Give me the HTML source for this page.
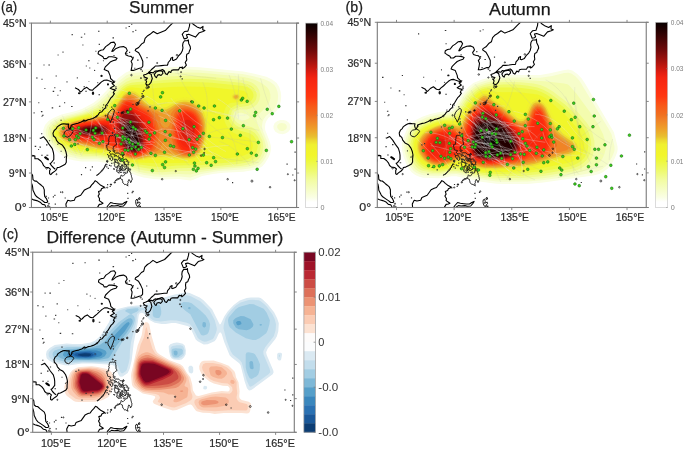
<!DOCTYPE html><html><head><meta charset="utf-8"><title>TC track density</title><style>html,body{margin:0;padding:0;background:#fff;width:685px;height:450px;overflow:hidden}svg{display:block}</style></head><body><svg width="685" height="450" viewBox="0 0 685 450" font-family="'Liberation Sans', Arial, sans-serif"><defs><linearGradient id="ga" x1="0" y1="1" x2="0" y2="0"><stop offset="0.0000" stop-color="#ffffff"/><stop offset="0.0300" stop-color="#ffffff"/><stop offset="0.0525" stop-color="#fafee6"/><stop offset="0.0950" stop-color="#f6fdc8"/><stop offset="0.1500" stop-color="#f2fca0"/><stop offset="0.2025" stop-color="#eefa6a"/><stop offset="0.2575" stop-color="#eef838"/><stop offset="0.2850" stop-color="#f2f62a"/><stop offset="0.3400" stop-color="#f0f030"/><stop offset="0.3650" stop-color="#ecd830"/><stop offset="0.3825" stop-color="#e8c030"/><stop offset="0.4250" stop-color="#eea02a"/><stop offset="0.4750" stop-color="#f08028"/><stop offset="0.5000" stop-color="#f07020"/><stop offset="0.5500" stop-color="#f85818"/><stop offset="0.6000" stop-color="#ff3810"/><stop offset="0.6500" stop-color="#fc2c10"/><stop offset="0.7000" stop-color="#f42410"/><stop offset="0.7250" stop-color="#e41e10"/><stop offset="0.7500" stop-color="#cc1a10"/><stop offset="0.7750" stop-color="#b4160e"/><stop offset="0.8000" stop-color="#9c120e"/><stop offset="0.8250" stop-color="#860e0c"/><stop offset="0.8500" stop-color="#700a0a"/><stop offset="0.8750" stop-color="#5e0808"/><stop offset="0.9000" stop-color="#4c0606"/><stop offset="0.9250" stop-color="#3a0404"/><stop offset="0.9500" stop-color="#280202"/><stop offset="0.9750" stop-color="#180000"/><stop offset="1.0000" stop-color="#080000"/></linearGradient><linearGradient id="gb" x1="0" y1="1" x2="0" y2="0"><stop offset="0.0000" stop-color="#ffffff"/><stop offset="0.0300" stop-color="#ffffff"/><stop offset="0.0525" stop-color="#fafee6"/><stop offset="0.0950" stop-color="#f6fdc8"/><stop offset="0.1500" stop-color="#f2fca0"/><stop offset="0.2025" stop-color="#eefa6a"/><stop offset="0.2575" stop-color="#eef838"/><stop offset="0.2850" stop-color="#f2f62a"/><stop offset="0.3400" stop-color="#f0f030"/><stop offset="0.3650" stop-color="#ecd830"/><stop offset="0.3825" stop-color="#e8c030"/><stop offset="0.4250" stop-color="#eea02a"/><stop offset="0.4750" stop-color="#f08028"/><stop offset="0.5000" stop-color="#f07020"/><stop offset="0.5500" stop-color="#f85818"/><stop offset="0.6000" stop-color="#ff3810"/><stop offset="0.6500" stop-color="#fc2c10"/><stop offset="0.7000" stop-color="#f42410"/><stop offset="0.7250" stop-color="#e41e10"/><stop offset="0.7500" stop-color="#cc1a10"/><stop offset="0.7750" stop-color="#b4160e"/><stop offset="0.8000" stop-color="#9c120e"/><stop offset="0.8250" stop-color="#860e0c"/><stop offset="0.8500" stop-color="#700a0a"/><stop offset="0.8750" stop-color="#5e0808"/><stop offset="0.9000" stop-color="#4c0606"/><stop offset="0.9250" stop-color="#3a0404"/><stop offset="0.9500" stop-color="#280202"/><stop offset="0.9750" stop-color="#180000"/><stop offset="1.0000" stop-color="#080000"/></linearGradient><clipPath id="clipa"><rect x="31.45" y="23.10" width="265.16" height="184.40"/></clipPath><filter id="blura" x="-5%" y="-5%" width="110%" height="110%"><feGaussianBlur stdDeviation="0.6"/></filter><clipPath id="clipb"><rect x="377.30" y="22.30" width="268.94" height="185.20"/></clipPath><filter id="blurb" x="-5%" y="-5%" width="110%" height="110%"><feGaussianBlur stdDeviation="0.6"/></filter><clipPath id="clipc"><rect x="32.70" y="252.20" width="261.59" height="180.10"/></clipPath><clipPath id="cla"><rect x="31.45" y="23.10" width="265.16" height="184.40"/></clipPath><clipPath id="clb"><rect x="377.30" y="22.30" width="268.94" height="185.20"/></clipPath><clipPath id="clc"><rect x="32.70" y="252.20" width="261.59" height="180.10"/></clipPath></defs><rect width="685" height="450" fill="#fff"/><g clip-path="url(#clipa)"><g filter="url(#blura)" fill-rule="evenodd">
<path fill="#fafee3" d="M174.4 67.1l14-0.4 11 0.5 44 4.3 15.1 3.2 7.9 2.1 6 3 4.3 3.3 2.5 4 1.5 5 0.5 4-0.4 5-0.9 4-1.9 4-2.5 3-7.2 6-1.9 2.8-1 2.5-0.4 3.7 0.2 3 4.7 12 0.9 4 0.1 4-0.9 4-1.8 4-3.1 5-2.7 3.1-4 2.5-6 1.6-9 1.4-20 1-10.3 1.4-11 2-8.7 3.6-3 0.7-12-1.3-17 0.3-8-0.5-10-1.5-6-1.6-16-6.4-9-4.5-5.5-1.8-9.5-1.7-16 0.2-7.9-1.3-5.1-1.3-6-3.3-11-8.4-3.3-3.2-2.9-4-1.8-5-0.2-5 1.8-5 3.5-4 4.9-3.2 8-3.3 14.4-3.5 6.1-2 11.3-6 3.9-3 5.2-5 16.1-17 7.1-5.4 3.9-1.7 4-0.8 41-3.1zM280.4 119.9l3 0 3 0.9 2.8 2.3 1.1 2 0.2 3-0.7 2-1.7 2-2.7 1.5-2.9 0.6-4.1-0.6-3-1.9-1.7-2.6-0.3-3 1.3-3 2.7-2.2 3-1z"/>
<path fill="#f6fdc9" d="M171.4 70l17-0.5 10.1 0.4 43.9 4.2 10 2 12 3.2 6 2.8 3.9 3 1.9 3 1.4 4 0.5 4-0.4 5-1.1 4-1.7 3-2.5 2.6-6.5 5.4-2.1 3-1.3 3-0.5 4 0.5 4 4.9 12 0.9 4 0.1 3-0.8 4-1.8 4-2.4 4-2.6 3-4.4 2.6-7 1.7-8 1.2-23 1.5-17 2.8-11 3.6-11-1-17 0.5-8-0.5-10-1.4-6-1.5-16-6.2-9.9-4.7-7.1-2.1-8-1.3-16 0-12-2.5-6-3.2-9-6.7-4.1-3.8-2.9-4-1.6-5 0-4 1.7-4 3.6-4 4.3-2.7 6.1-2.6 19.9-5.4 13-6.3 4-3 5.4-5 15.6-16.4 7-5.4 3-1.4 4-0.9 38-3zM281.4 122.9l3 0.6 1.1 0.6 1.3 2-0.1 2-0.5 1-2.8 1.8-2 0.2-2-0.6-2.1-2.4-0.1-2 0.4-1 1.8-1.6 2-0.6z"/>
<path fill="#f3fcae" d="M170.4 73l17-0.6 12 0.4 13 0.9 30 3.1 7 1.4 5.9 1.9 6.2 3 5.3 4 2.3 3 1.2 4 0.1 4-0.9 4-2.5 4-9 9-1.9 3 1.8 7 6.5 15 1.5 6-0.1 4-1.2 4-2.2 4.2-3 3.7-2 1.5-3 1.4-8 2-27 2.3-19 2.8-10 2.4-11-0.5-17 0.8-8-0.4-10-1.4-6-1.5-16-5.8-10-4.6-7-2.1-8-1.3-16-0.3-10.2-2.2-5.8-2.7-8-5.4-4.5-3.9-3.2-4-1.7-5 0.3-4 1.9-4 3-3 3.2-2.2 5-2.5 5-1.7 16-4 8.6-3.6 5.4-2.9 4.2-3.1 6.4-6 12.4-13.3 7.1-5.4 3.9-1.7 4-0.9 36-2.8zM238.1 113.1l-1.7 1.8 0 1.9 1 1.7 2 1.4 2 0.5 3-0.1 3.6-1.2 1.4-1 0.3-1-0.7-1-3.2-2-4.4-1.4-3.3 0.4z"/>
<path fill="#f1fb8d" d="M177.4 76.1l11-0.3 19 0.6 34 3.5 5 0.8 4 1.2 3 1.6 3 2.6 2.7 4 1.1 5-0.8 5-2 3.6-3 2.8-4 2-4 0.9-7 0.2-3 0.8-2.7 2.7-0.6 3 1.3 3.9 3 3 3 1.5 9 2 3 1.1 4 2.9 3 4.3 3.1 6.3 0.9 6-1.2 6-1.4 3-2.4 3.1-3 2.4-4 1.9-5 1.4-6 1-20 1.6-28 3.4-14 0.2-16 1.2-7-0.2-11-1.6-7-1.6-14-4.7-12-5.1-6.9-1.9-7.1-1.2-15-0.5-10-2.3-6-2.5-7-4.3-5.1-4.3-2.8-4-1.2-4 0.4-4 2.2-4 3.1-3 3.4-2.2 5-2.2 18-4.7 8.1-2.9 6.9-3.1 4.2-2.9 6.8-6.2 12-12.9 6-4.3 5-1.9 5-0.8 41-2.9z"/>
<path fill="#eefa67" d="M178.4 79.1l9-0.3 19 0.5 34 3.4 8 1.7 3 1.6 2 1.7 2.4 3.4 1 4-0.6 4-1.8 2.9-2.3 2.1-3.7 1.7-10 1.5-4 1.5-1.6 1.3-1.3 2-0.8 4 0.5 3 1 2 3.4 4 3.8 2.2 9 2.3 3 1.2 3.4 2.3 3.2 4 2.2 5 0.5 5-1.3 5.5-3 4.6-3 2.4-4 1.9-5 1.5-7 1.1-37 3.6-22 0.6-16 1.4-7-0.2-12-1.7-11-2.4-10-3.2-11-4.6-7-1.9-6.9-1.2-15.1-1-8-1.9-7-2.6-6-3.2-4.7-3.7-3.1-4-1.2-4 0.5-4 2.2-4 3.3-3 7-3.5 20.7-5.5 13.5-5 6.8-5.1 6-5.8 8-9.3 3-2.6 3-1.8 5-1.7 6-0.9 41-2.8z"/>
<path fill="#eef844" d="M177.4 82.1l11-0.3 23 0.9 31.6 3.4 4.4 1.2 3 1.9 2 2.4 1 2.7 0 2.8-1.6 3-2.4 2-2.2 1-10.8 2-4 1.8-2 1.9-1.4 2.3-1 5 0.5 3 1.1 3 2 3 2.8 2.8 5 2.5 10 2.8 3.1 1.9 2.9 3.3 2 4.7 0.3 4-1.3 4.7-2.2 3.3-2.8 2.2-4 1.9-6 1.6-8 1.3-31 2.8-26 0.7-14 1.3-7-0.2-23-3.1-10-2.9-9.9-4.2-6.1-1.8-8.7-1.6-14.3-1.4-8-1.8-7-2.4-6-2.9-4.6-3.5-2.9-4-0.8-3 0.5-4 1.6-3 3.2-3.2 4-2.4 4-1.5 26.4-6.9 8.6-3.3 6-4.5 5-5.1 8-9.9 5-3.6 3-1.1 4-0.6 44-2.9z"/>
<path fill="#f1f62c" d="M170.4 87.1l17-0.6 21 0.6 21 2.2 9 0.5 5.5 1.3 2.5 1.4 1.3 1.6 0.1 2-0.5 1-2.3 2-6.6 3.1-8 0.9-2.8 2-1.6 2-1.8 4-0.6 6 1.2 5 1.4 3 2.2 3.3 3 3.1 5 2.8 10 2.8 2.1 1 2.2 2 1.7 2.9 0.5 2.1-0.3 3-1.4 3-3.6 3-6.2 2.1-12 1.9-24 2.3-13 2.4-34 0.4-22-0.6-5-0.7-6-1.5-13-5.3-6-1.8-24-3.5-11-2.9-6-2.3-4-2.3-3.5-3.2-1.8-3-0.5-3 0.5-3 1.7-3 3.2-3 7.4-3.4 28-7 5-1.6 4-1.9 3-2.1 3-3 11-13.6 4-2.9 3-1 3-0.3 13 1.4 25-1.6z"/>
<path fill="#f1f22e" d="M127.5 89.8l4.9-0.6 5 1.5 4 2.6 8.4 7.8 4 2 5.6 1.5 3 0.3 3-0.3 11-5.8 7-1.6 5 0.3 4 0.9 4 1.9 3 2.1 3.6 3.7 3.1 5 2.1 6 1.3 8-0.3 8-1.5 10-1.8 6-3.7 6-2.8 2.5-2.4 1.5-3.6 1.3-3 0.5-8 0.1-18-1.7-15 0.8-11 1.1-5-0.2-10-2.5-10.9-4.7-5.1-1.6-24-3.8-12-3-8-3.4-3-2.2-2-2.2-1.4-3.5 0.1-3 1.3-3 3-3.1 3.4-1.9 4.6-1.8 29-6.9 8-2.8 3-2 2.5-2.5 10.8-14 2.3-2 2.5-1.3zM233.4 92.9l2-0.4 2 0.1 2.8 1.5 1.2 2-0.2 2-0.7 1-2.1 1.5-2 0.5-3-0.4-2-1.3-0.8-1.3-0.1-2 1.1-2 1.8-1.2z"/>
<path fill="#ede030" d="M128.4 91l3-0.2 4.2 1.3 4.2 3 8.6 8.3 4 1.9 6 1.8 4 0.6 4-0.5 10-5.6 4-1.3 4-0.5 4 0.3 4 1.1 3 1.5 3 2.2 3.6 4.2 2.2 4 1.9 6 1 7-0.9 12-1.2 6-2.3 6-2.8 4-2.5 2.2-3 1.7-6 1.3-7-0.2-17-2.2-15 1.2-11 1.9-6-0.1-9-2.5-10-4.5-5-1.7-27-4.5-11-2.9-6.3-2.7-2.7-2-1.8-2-1.3-3 0-3 1.4-3 3.3-3 3.4-1.8 5-1.8 29-6.4 7-2.4 2.6-1.6 2.4-2.4 11-14.5 2.6-2.1 2.4-1.1zM234.4 94l3 0 1.7 1.1 0.7 2-1.1 2-1.3 0.7-2 0.2-2.2-0.9-0.8-1-0.2-2 0.6-1 1.6-1.1z"/>
<path fill="#eab82e" d="M127.4 92.9l3-0.6 4 1.2 3.7 2.6 7 7 2.7 2 5.6 2.6 7 1.8 3 0.3 3-0.4 3-1.3 7-4.4 3-1.2 4-0.8 3 0 4 0.8 3 1.2 3 2 3.4 3.4 2.4 4 2.1 6 1.1 6-0.3 8-1.2 9-2 6-2.5 4.1-1.9 2.1-3 2-6.1 1.6-6-0.1-18-3.1-14 1.7-12 2.5-6 0.1-9-2.6-10-4.6-5-1.8-27-4.6-11-2.7-6-2.7-2.4-1.9-1.6-2-1.1-3 0.2-2 0.8-2 2.1-2.5 4-2.4 11-3.5 25.1-5 7-2.6 3.9-3.6 10-13.4 4-3.2zM235.4 94.9l1.8 0.2 1.2 1 0.2 1-1.2 1.5-2 0.4-1.6-0.9-0.4-1 0.2-1 1.8-1.2z"/>
<path fill="#ee9c2a" d="M129.4 94l3 0.5 3 1.6 8.3 8 3.7 2.5 7 3.3 8 2.4 3 0.1 2-0.6 9-6.1 6-2 3-0.3 4 0.6 3 1.2 3.1 1.9 3 3 2.5 4 2.1 6 1 6-0.4 9-1 7-2.2 6-2.7 4-4.3 3.3-5.1 1.3-6-0.2-15-4.1-3-0.3-15 3.1-10 2.7-7 0.3-8-2.2-11-5.3-5-1.8-27-4.6-11-2.7-5.5-2.5-3.5-3.5-0.9-3.5 0.9-3 2-2.2 4-2.3 12-3.6 25-4.8 5.7-2.1 4.3-4 6.4-9 3.6-4.3 3-2.2 2-0.6zM235.4 96.3l1-0.1 0.5 0.9-0.5 0.5-1 0-0.4-0.5 0.4-0.8z"/>
<path fill="#f08428" d="M128.4 96l2-0.1 3 1.1 10.3 9.1 14.3 8 1.7 2 0.6 6 1.1 3 1 1.5 2 1.3 3-0.3 2-2.2 1.1-3.3 0.3-8 2-3 3.5-3 4.1-2 5-0.8 5 0.9 4 2.2 3 2.8 2.5 3.9 2.2 6 0.9 5-0.2 8-0.9 7-2.1 6-2.4 3.8-3 2.7-4 1.6-5 0.5-4-0.7-4.9-1.9-3.6-2-1.7-2-2.1-6-1.7-1.4-2-0.4-2 0.8-1 0.9-2.5 6.1-2.5 2-4.9 2-12.1 3.8-4 0.7-4-0.1-7-1.9-11-5.5-6-2.2-29-5.1-9-2.2-5-2.3-3-3.2-0.8-3 1-3 2-2 3.8-2.2 10-3 24-4.2 5-1.3 3-1.3 4-3.6 9-12.1 3-2.5 2-0.9z"/>
<path fill="#f16d1f" d="M127.4 98l3-0.1 3 1.4 7.7 6.8 10 6 3 3 1.8 3 3.2 12 0.4 5-3.4 13-1.5 2-2.2 1.5-13 4.8-4 0.6-4-0.3-7-2.3-10-5.3-6-2.2-9-1.9-20-3.1-9-2.3-4-1.8-3-3-0.8-2.7 1.1-3 2.3-2 4.4-2.2 9-2.6 24-3.9 7-2.2 4-3.3 9.1-12.1 3.9-2.8zM181.4 107.9l4-0.7 3 0.3 4 1.5 3 2.1 2 2.4 1.6 2.6 1.9 5 0.9 4 0.2 5-0.5 8-0.8 4-1.5 4-2.4 4-2.1 2-2.3 1.3-4 1.1-3 0.2-3.1-0.6-4-2-2.4-2-1.7-3-3.5-12 0.1-4 1.6-6.7 1.6-10.3 2.4-3.5 5-2.7z"/>
<path fill="#f75b19" d="M126.5 99.8l1.9-0.5 3 0.7 3 2 6 5.3 7.2 3.8 3.3 3 3.1 5 1.1 3 1.6 7 0.2 6-2.6 12-1.1 2-2.4 2-11.4 4.6-4 0.7-4-0.3-6.9-2.4-9.1-5.1-5-2.1-9-2.3-18.9-2.7-8.1-1.8-7-2.5-3.1-3.1-0.4-3 1.1-2 2.6-2 4.3-2 11.5-3 22-3.2 5.5-1.8 3.5-2.9 8-10.9 4.1-3.5zM184.4 109l3-0.1 3 0.8 3 1.6 2.2 1.8 2.1 3 1.7 4 1.7 7-0.7 12-1 4-1.8 4-2.1 3-2.1 1.7-3 1.3-4 0.6-3-0.4-2-0.8-3-2.3-1.7-2.1-2.4-7-1.4-9 1.9-14 1.2-4 1.4-1.9 2-1.5 5-1.7z"/>
<path fill="#fc4413" d="M127.4 100.9l2-0.1 2 0.8 8 6.6 8 4.3 3.2 3.6 2.6 5 2.1 9-0.3 7-2.3 10-1.3 2-2.9 2-6.3 3-3.8 1.2-4 0.5-3-0.3-6.7-2.4-9.3-5.5-4.9-2.2-10.1-2.4-13-1.7-11-2-7-2.2-2-1.1-1.8-1.9-0.5-3 1.3-2 2.9-2 4.1-1.8 11-2.7 22-2.9 5-1.8 4-3.5 8-10.8 2-1.8 2-0.9zM182.4 110.9l3-0.6 3 0.2 3 1.1 2.4 1.5 1.9 2 1.7 3 1.7 4 0.9 4-0.3 12-2.2 7-2.1 3.5-2 2-3 1.4-3 0.6-3-0.1-2-0.8-4-3.6-2.2-5-1.6-9-0.1-5 2.2-13 1.9-3 3.8-2.2z"/>
<path fill="#fe3310" d="M126.4 102.6l2-0.4 2.8 0.9 8.2 6.7 7 3.6 3.1 3.7 2.9 6 1.3 6 0.2 4-2 12-0.8 2-1.6 2-6.8 4-6.3 2-3 0.1-3-0.5-6-2.4-9-5.9-4.9-2.2-10.1-2.4-12-1.3-11-1.9-7.5-2.5-1.7-1-1.6-2-0.1-2 1.6-2 3-2 4.3-1.8 10-2.2 21-2.4 5-1.5 3-2.4 8-10.6 4-3.6zM183.4 112l3-0.4 2 0.3 3 1.1 2 1.4 2 2.4 2 4 1.7 6.3-0.4 11-2.3 6.8-1.9 3.2-2.1 1.8-5 1.6-4-0.7-2-1.4-2-2.3-2.1-5-1.6-9 0.1-5 2-11 1.8-3 3.8-2.1z"/>
<path fill="#fb2b10" d="M127.5 103.9l1.9 0.1 2 1 7 5.7 7 4 3 3.9 2.6 5.5 1 5 0.2 4-1.9 12-1 2-1.9 2-6 3.8-6 1.7-5-0.5-6-2.6-9-6.5-4.9-2.4-8.1-1.9-13-1-10-1.6-6.2-2-2.8-1.4-1.8-1.6-0.1-2 1.6-2 2.8-2 3.5-1.4 9-2 22-1.8 4-1.1 3-2.4 9.1-11.7 1.9-1.8 2.1-1zM186.4 113.1l4.1 1 1.9 1.3 2 2.2 3.1 6.5 0.6 6-0.7 8.6-2 5.4-2 3.1-2 1.6-3 1.1-2 0.2-2-0.5-2-1.3-2.9-4.2-1.5-5-1.1-8 1.3-10 1.2-4.2 1-1.4 1.9-1.4 4.1-1z"/>
<path fill="#f52510" d="M127.4 105.9l2 0.2 2 1 11.7 9 3 4 2.6 6 0.7 4 0.1 4-0.6 7-0.8 4-2.7 4-5 3.6-4 1.2-3 0.2-3-0.5-3.6-1.5-4.6-3-9.8-9.4-2-1.3-6.5 0.7-10.5-0.1-10-1.1-8-2.1-2.8-1.7-1.6-2 0.3-2 1.7-2 3.4-1.6 6-1.6 17-1.8 12 0.5 3.1-3.1 7.9-11.2 3.1-2.6 1.9-0.8zM183.4 115.9l2-0.7 2 0 4 1.7 3 3.9 2.1 5.3 0.2 7-1.3 6.8-3 5.2-2 1.6-2 0.7-2.9-0.2-3.1-2.4-2-3.7-1.6-7-0.3-5 1.5-8 1.4-3.5 2-1.7z"/>
<path fill="#de1d10" d="M127.4 107.9l2 0.3 3 1.5 7.2 6.4 4 6 2.7 7 0.3 11-1 6-1.8 3-2.1 2-2.3 1.3-3 1-3 0.1-3-0.5-4.1-1.9-2.8-2-5.3-6-1.5-3-1.1-4-1.2-8 0.3-3 0.9-3 2.8-5.6 3-4.4 3-3 3-1.2zM186.4 119.8l3 0.2 2 1.3 2.1 2.8 1.1 4-0.1 5-1.1 3.7-2 2.6-3 1.2-3-0.6-2-1.6-1.7-3.3-0.8-4 0.3-4 1.2-3.8 2-2.6 2-0.9zM97.4 124l7 0.4 2.6 0.7 1.7 1 1.5 2 0.5 2-0.5 2-1.3 2-2.5 2-3 1.2-11.9 0.6-13.1-2.2-3.3-1.6-1.8-2-0.2-2 0.6-1 3.5-2 8.2-2.1 12-1z"/>
<path fill="#ba170e" d="M126.4 110.1l2-0.1 2 0.6 2.4 1.5 3.3 3 5.1 7 3 7 0.5 11-0.8 6-2.4 4-2.1 1.5-3 1.1-3 0.3-3-0.7-2.7-1.2-2.9-2-4.1-5-1.5-3-1.3-4-1.2-9 0.9-6 1.8-4.7 2-3.3 2.9-3 2.1-1zM92.4 125.1l8.1-0.2 5 1.2 1.5 1 1.3 2-0.3 3-1.8 2-2.8 1.6-12 1.1-7-0.9-5-1.1-3.2-1.7-1.3-2 0.8-2 4.6-2 5.1-1.4 7-0.6z"/>
<path fill="#96110e" d="M125.4 112.9l2-0.5 2 0.4 4 2.9 5 6.1 3.6 7.3 0.8 4 0.3 7-0.6 6-0.7 2-1.6 2-3.7 2-2.1 0.3-3-0.4-2.3-0.9-3-2-3.4-4-2.4-6-1.3-10 0.4-5 2.4-7 1.6-2.5 2-1.7zM88.4 126.1l10-0.4 3.5 0.4 3.7 2 0.7 1 0 2-1.4 2-2.4 1.3-10.1 1.2-6-0.5-4-0.8-2.9-1.2-2-2 0.2-1 2.9-2 3.8-1.4 4-0.6z"/>
<path fill="#760b0a" d="M127.4 119.1l2-0.3 2 0.5 3 2 3.9 4.8 2.2 5 1.2 9-0.2 5-1.6 4-1.5 1.3-2 1-2 0.3-3-0.4-4-2.2-3.3-4-2-5-0.8-8 0.4-6 1.1-3 1.5-2 3.1-2zM86.4 127l6-0.6 8 0.3 3.1 1.4 1.1 2-1 2-1.2 0.8-5 1.2-11-0.1-3-0.6-2-1.3-0.7-1 0.7-2 2-1.3 3-0.8z"/>
<path fill="#590707" d="M127.4 121.6l3-0.2 3 1.7 3.4 4 2.4 5 1.3 9-0.1 4-1 3-1 1.2-2 1.2-4 0.3-3.6-1.7-2.8-3-1.9-4-1.2-6 0.3-8 1.5-4 2.7-2.5zM85.4 128l7-0.8 7 0.3 2.1 0.6 1.1 1 0.3 1-0.4 1-1.1 0.9-3 0.9-12 0.1-2.8-0.9-0.9-1-0.1-1 0.6-1 2.2-1.1z"/>
<path fill="#3e0404" d="M128.4 123l2.2 0.1 2.9 2 2.8 4 1.7 4 1.2 8 0 4-1.2 3-2.6 1.8-3 0-3.3-1.8-2.4-3-1.6-4-0.8-5 0.2-7 1.4-4 2.5-2.1zM92.4 128.1l7 0.6 1.1 0.4 0.4 1-0.8 1-1.7 0.6-6 0.4-6-0.4-1.5-0.6-0.4-1 1.9-1.2 6-0.8z"/>
<path fill="#240202" d="M128.4 125l2 0 2 1.4 2.1 2.7 2.2 5 1 7 0 4-1.3 2.6-2 1-2-0.2-2.3-1.4-2.2-3-1.4-3.6-0.6-4.4 0.1-6 0.7-3 1.7-2.1z"/>
</g></g>
<g clip-path="url(#clipb)"><g filter="url(#blurb)" fill-rule="evenodd">
<path fill="#fafee3" d="M563.3 70.3l5-0.8 4 1 5 3.5 4.2 4.3 3.4 5 29 49 3.6 14 0.2 3-0.5 3-2.4 6-3.9 7-2.7 3-4.9 3.8-4 2-6 1.5-50 6.9-16 1.4-25 0.1-6-0.3-15-2-25-5.5-4.9 0.1-8.1 1.6-5 0.4-15-0.6-4-0.9-4-1.8-3.7-2.7-2.4-3-3.2-6-2.6-7-1.5-7 0-5 2-8 3-7 3.5-5 4.9-4.1 7-3.5 8-2.8 9-1.9 8-0.7 4-1.4 3-2.6 7.9-13 6.1-7.1 5-4.1 8-3.3 10-2.9 14-1.8 35-0.2 9.8-1.6 13.2-3z"/>
<path fill="#f6fdc9" d="M564.3 73.1l4-0.4 3 0.8 4.1 2.8 3.9 4.1 30 49.5 2.2 4.4 2.8 11.1 0.3 2.9-0.3 3.1-2 5-3.7 6.9-2.8 3-4.5 3.4-4 1.8-5 1.2-18 3.2-30 4.1-17 1.6-24 0.2-7-0.4-14-1.8-26-5.5-5 0.1-13 2-14-0.7-4-0.9-4-1.8-3-2.3-2.5-3.2-2.5-5-2.4-6-1.4-6-0.3-4 0.7-5 1.5-5 2.1-5 2.5-4 2.3-2.5 3.2-2.5 9.8-4.7 11-3 12-1.5 4-1.8 3.6-4 8-13 5.4-5.9 4-3.3 5-2.3 7-2.2 10-2.1 13-1.1 31 0.3 12-1.8 12-2.8z"/>
<path fill="#f3fcae" d="M499.3 80.2l8-0.6 10 0.1 27.3 1.6 19.7 2.1 3 0.8 1.7 1.1 7.3 8.1 14 19 7.8 11.9 5 10 2 7 0.8 7-1.6 6-1.8 4-1.9 3-3.9 4-3.3 2-7.5 3-8.6 2.5-32 5.1-19 1.8-23 0.2-8-0.4-15-2-20-4.4-5-0.7-4 0.2-12 1.9-9-0.3-9-1.5-3.2-1.4-2.8-2-3-3.8-3-6.2-2-6-1-6 0.4-5 1.7-6 2.4-5 3-4 5.5-4.3 9-4 10-2.8 11-1.3 4-1.5 4.2-4.1 8.8-14 4-4.4 4-3.5 4-2.2 7-2.3 6.2-1.6 7.8-1.1z"/>
<path fill="#f1fb8d" d="M500.3 82.3l9-0.4 11 0.3 13 1.4 7 1.5 6 2.5 7 4.1 17 13.1 7.5 7.5 9.3 11 3.3 5 2.1 5 1.9 8 0.1 7-2 8-1.4 3-2.2 3-3.2 3-4.4 2.8-4 1.8-5 1.5-29 4.7-22 1.9-20 0-10-0.7-12-1.6-18-4-6-0.9-4 0.3-11 1.7-8 0-10-2-3.1-1.5-2.6-2-2.4-3-3-6-2-6-0.8-5 0.3-5 1.4-5 2.2-4.5 3-4 5.9-4.5 9.1-4.1 8-2.3 11-1.3 4.2-1.3 2.7-2 2.1-2.4 9.4-14.6 3.7-4 3.9-3.3 4-2.2 6-2 7-1.6 8-0.9z"/>
<path fill="#eefa67" d="M494.3 85.2l9-0.7 14 0.1 11 1.2 9 1.6 6 2.3 6 3.3 15.4 11.3 7.7 7 8.1 9 5.5 7 3.1 6 2 8 0.2 6-1.5 7-1.4 3-2.1 3-3 2.8-4 2.6-4 1.9-5.5 1.7-26.5 4.4-23 2.2-21 0.1-14-1.1-8-1.2-16-3.7-5-0.7-4 0.1-12 2-6.9-0.1-9.1-2.1-3-1.4-3-2.2-3-4-2.6-5.3-1.6-5-0.6-4 0.1-4 1.3-5 1.8-4 3-4 5.6-4.3 10-4.7 8-2.2 11-1.2 4-1.6 4-4.1 9.2-13.9 6.8-6.9 3.1-2.1 3.9-1.7 12-2.4z"/>
<path fill="#eef844" d="M489.3 88.3l12-0.9 12 0 8 0.5 10 1.3 5.2 1.1 4.8 1.7 5 2.6 5.7 3.7 10.5 8 6.8 6.1 9 9.9 6 8 2.9 7 1.2 7-0.8 7-2.8 6-2.8 3-3.7 2.5-4 2-5 1.7-27.7 4.8-21.3 2.3-22 0.4-14-0.9-9-1.4-18-4.3-4 0.3-11 2.1-7 0.2-4-0.6-5-1.5-3.3-1.6-2.8-2-2.9-3.4-2.6-4.6-1.5-4-0.7-4 0.1-5 0.9-4 1.9-4 2.1-3 2.8-2.7 3.2-2.3 9.8-4.8 7-2 12-1.1 4-1.3 3-2.9 10-14.7 6-6.6 3-2.4 3-1.7 4-1.2 4-0.3z"/>
<path fill="#f1f62c" d="M482.3 91.2l5-0.8 10 1.6 22 0.3 18 2.1 4 1.3 4 2.2 4.5 3.4 15.8 14 6.7 7.1 7.1 8.9 2.9 5.3 2 6.8-0.2 5.9-2 5-2.6 3-3.2 2.2-4 1.9-5 1.5-33 6.9-19 1.8-19 0.5-14-0.7-10-1.9-14-4.3-3 0.2-11 2.8-8 0.6-4-0.7-4-1.2-6.3-3.6-2.9-3-2.5-4-1.7-4-0.8-4 0-4 0.8-4 1.8-4 2.1-3 2.5-2.5 4-2.8 6-3.1 5-2 6-1.4 12-0.6 3-0.7 2-1.8 6.2-10.1 8.1-10 4.7-4.7 4-2.4z"/>
<path fill="#f1f22e" d="M484.3 92.3l3 0 3 1.2 5 4.9 9 5.3 12 10.6 4 2.1 2-0.4 1.7-1.7 3.9-10 1.4-2.3 2-2.1 3-1.5 3-0.3 3 0.6 3 1.6 3 2.5 2.6 3.5 6.4 13.8 4 6.4 6.4 5.8 10.6 7 2.7 3 0.9 2 0.4 3-0.6 3-1 2-3.4 3.3-5 2.2-33 9-10 1.8-15 1.2-18 0.8-13-0.7-11-2.4-10-4.3-2-0.4-13 4.1-5 0.7-4-0.1-7-1.7-4-2.1-3-2.3-2.7-3.1-1.9-3-1.3-3-0.8-4 0-4 0.9-4 1.3-3 2.5-3.5 3-2.8 4-2.7 5-2.5 6-2.3 7-1.1 11 0.3 2-0.4 2-1.9 6.3-11.1 9.3-11 4.4-4.3 4-1.7z"/>
<path fill="#ede030" d="M483.3 94.2l3-0.2 2 0.8 5.5 5.5 9.5 5.9 13 11.3 4 1.8 3-0.6 2-1.8 4.5-10.6 2.8-4 3.7-1.7 3 0.2 2 0.8 3 2.3 2.5 3.4 6.5 14.4 4.1 6.6 5.3 5 10.6 7.1 3.1 2.9 1.3 3-0.1 2-0.7 2-2.6 3-4 2-34 9.9-9 1.6-15 1.4-19 1-12-0.5-11-2.5-4-1.7-5-3-2-0.5-3 0.5-7 3.1-4 1.1-5 0.8-4-0.1-3-0.5-4-1.5-6-3.9-2.8-3.2-1.8-3-1.2-3-0.7-4 0.3-4 0.9-3 1.4-3 2.2-3 3.4-3 4.3-2.7 10-4.2 7-0.9 5 0.2 6 1 2-0.4 2-2.1 3.7-7.9 3.3-5 10.5-12 2.5-2.1 2-1z"/>
<path fill="#eab82e" d="M483.3 96l2-0.3 2 0.7 6 5.4 9 5.7 13 11.3 3 1.9 2 0.6 3-0.4 3-2.6 4.7-11 2.3-3.2 2-1.3 2-0.4 2 0.2 2 0.9 2.1 1.8 2.3 3 6.6 15.1 4 6.5 5 4.7 11 7.4 2.3 2.3 0.9 3-1 3-2.2 2-4 1.7-16 4.4-18 5.6-12 1.8-26 2.2-11-0.1-9-1.3-8-2.5-6-4-2-0.7-3 0.5-11 4.5-8 1.1-4-0.4-3-1-4-2.1-3-2.2-4.2-5.5-1.3-3-0.6-3 0-3 0.8-4 1.3-3 2.1-3 2.9-2.7 4-2.7 6-2.9 5-1.7 7-0.7 4 0.4 7 1.6 2-0.5 2-2.6 3.5-8.2 2.5-4 11.6-13 3.4-2.3z"/>
<path fill="#ee9c2a" d="M483.3 98l2-0.2 2 0.9 6 4.6 8 5.2 15 12.6 3 1.6 2 0.4 3-0.8 2.1-2 1.9-3.1 3.6-8.9 2.3-3 3.1-1.4 3 0.7 2.3 1.7 2.2 3 6.5 15.2 3 5.6 2 2.4 4 3.6 11.6 8.2 1.4 3-0.7 2-2.3 1.9-2.6 1.1-13.4 3.7-20 6.4-12 2-27 2.6-11-0.1-10-1.9-6-2.1-5-3.9-2-1-4 0.7-11 4.7-7 1.2-4-0.3-3-0.8-4-2.1-3-2.2-2.6-2.9-1.7-3-1.1-3-0.5-3 1-6 1.4-3 2.3-3 3.5-3 4.7-2.7 5-2.2 5-1.4 7-0.2 9 2.6 2-0.1 2-1.9 4.3-10.1 2.7-4.5 11-11.7 3-2.1z"/>
<path fill="#f08428" d="M483.3 100l3 0.1 3 1.6 12 8.3 15 12.5 5 2.3 3-0.5 3-3.2 2-3.7 2.8-7.1 2.2-3.4 3-1.6 3 0.7 2.6 2.3 1.9 3 6.5 16.3 3 5.6 5 4.9 9.9 7.2 0.8 2-0.4 1-3.2 2-12.1 3.4-10 4.4-8 2.3-13 2.6-29 3.1-11-0.3-10-2.1-5-2-5-4.5-2-0.6-3 0.7-11 4.9-8 1.5-4-0.3-3-0.9-4-2.2-2.5-2-3.6-5-1.1-3-0.4-3 0.3-3 0.8-3 1.6-3 2.5-3 3.4-2.8 4-2.2 6-2.4 4-1 7 0.2 9 3.3 2-0.3 2-2.8 3.4-9 2.8-5 9.8-10.3 4-3z"/>
<path fill="#f16d1f" d="M482.3 102.3l3-0.8 4 1.5 11 7.5 16 13.2 4 2.4 3 0.9 2-0.9 2-2.8 2.2-4 3.1-8 1.7-2.7 1.4-1.3 1.6-0.7 3 0.7 2.1 2 2.2 4 7.7 20.3 4.3 9.7 0.4 2-0.3 1-3.4 4-4.5 4-3.3 2-3.2 1.2-6 1.5-6 0.8-7 2-28 3.4-5 0.3-6-0.4-11-2.3-5-2.3-4-4.3-2-1.1-3 0.7-12 5.5-8 1.5-4-0.3-3-1-3.8-2.2-2.4-2-3.1-5-0.9-3-0.1-3 0.5-3 1.2-3 3.6-4.8 3-2.4 4-2.2 6-2.3 4-0.8 3 0 4 0.6 3 1.1 5 2.8 2 0.2 2-2.3 4.4-11.9 2.2-4 5.4-6.1 7-5.9z"/>
<path fill="#f75b19" d="M483.3 103.3l3-0.4 4 1.8 10 7 16 13.2 6 3.9 2 0.7 1-0.2 1-1.1 8-17.9 1-1.3 2-1.1 3 0.8 2 2.2 2 4 5.4 15.4 1.9 8 0.5 4-0.2 3-0.8 3-1.7 3-1.8 2-2.3 1.7-6 2.1-4 0.7-5 0.2-8 2.8-13 2-17 1.9-11-0.8-9.4-2.6-3.6-2.1-4-5.2-1-0.6-2 0.2-13 6.4-4 1.2-5 0.7-3-0.1-3-0.8-4-2.2-2.8-2.5-2.7-5-0.6-5 1.4-5 3.7-5.2 3-2.4 4-2.1 6-2.2 4-0.6 3 0.1 4 0.9 3.1 1.5 4.9 3.7 1 0.1 1-0.5 2-3.5 3.5-10.8 2.5-5.1 6-6.7 4-3.4 3-1.8z"/>
<path fill="#fc4413" d="M484.3 104.3l3 0.1 4 2.1 9 6.3 22 17.9 3 1.4 1-0.3 1-1.2 2.1-6.3 5.5-13 2.4-2 1.4 0 1.6 0.8 1.7 2.2 1.4 3 3.9 11.2 2 7.8 0.9 6 0.1 4-0.7 3-2.1 4-3.2 2.9-5 1.8-4 0.6-5-0.5-5 2.6-3 0.9-13 2.3-17 2.1-5-0.1-6-0.8-9.4-2.8-3-2-3.6-5.6-2-1.4-2 0.6-11.1 6.4-3.9 1.4-5 1-4 0.3-3-0.6-4-2.1-2.5-2-1.6-2-1.3-3-0.5-5 1.5-5 3.7-5 3.7-2.6 5-2.2 5-1.5 4-0.2 4 0.8 3 1.3 2 1.5 4 4.5 1 0.5 1-0.2 2-3.4 4.4-14.5 2.5-5 3.1-3.7 4-3.6 3-2.3 3-1.4z"/>
<path fill="#fe3310" d="M483.3 105.9l3-0.5 2 0.5 9 5.7 10 7.8 16 14.1 2 1.1 2-0.4 1-1.4 2.1-7.5 4.9-12.5 2-1.9 2 0.2 2 2.2 1 2.2 4 11.8 1.2 5 1.3 11-0.5 3-2 4.2-2.9 2.8-3.1 1.2-5 0.7-6-1.3-4.4 3.4-2.6 1-12 2.7-18 2.3-5-0.1-6-0.9-5-1.3-4.2-1.7-2.8-2.2-4-7.3-2-1.9-4.7 4.4-3 2-6.3 3.2-5.7 1.8-5.3 0.6-3-0.3-3.1-1.3-3.9-3-1.9-3-0.8-3-0.1-3 1.2-4 1.7-3 2.8-3 3.1-2 4-1.7 7-1.7 4 0.3 3 1 3.1 2.1 5.9 8.3 1 0.6 1-0.7 2-6 3.6-14.2 2.1-5 2.3-3.3 3-3.1 4-3.3 3-1.7z"/>
<path fill="#fb2b10" d="M483.3 107.2l3-0.5 2 0.4 10 6.2 10 8 10 9 5 5.5 3 1.9 2-0.5 1.3-1.9 2.7-10.7 4-10.2 1.1-1.1 0.9-0.2 1 0.5 2 3.6 3 8.9 2 9.4 0.7 5.8-0.1 3-0.9 3-1.7 3-3 2.1-5 1-2-0.3-4-2.2-2-0.2-1 0.7-2.8 3.9-2.2 1.4-11 3.3-15 2.3-7 0.3-7-0.8-5.7-1.5-4.2-2-2.1-1.9-1-1.7-3.5-9.4 0.1-4 2.7-14 1.9-7 2.8-5 5-5 5-3.1zM444.3 132.3l3-0.1 3 0.7 4 2.4 5.2 9 0.5 2-0.3 2-2.4 3.2-8.4 4.8-7.6 2-3 0.3-3-0.4-4-2-3-3.1-1.5-4.8 0.5-4.1 2-4.1 3.9-3.8 4.1-2.1 7-1.9z"/>
<path fill="#f52510" d="M485.3 108.1l3 0.3 4 2.1 5.9 3.8 7.7 6 10.8 10 8.6 11.1 3 1.1 6.8 0.8-1.4 1-5.4 1.6-2 1.3-3.8 6.1-2.3 2-4.9 2.6-4.3 1.4-14.7 2.3-7 0.3-10-1.5-3.1-1.1-2.9-1.7-1.4-1.3-1.8-3-2.1-6-0.5-3 0.3-5 2.5-15.3 2-5.6 3-4.1 5-4.1 5-2.1zM443.3 134.2l4.3 0.1 2.9 1 1.8 1.3 2 2.7 2.6 5 0.6 2-0.4 2-2.2 2-7.3 4-2.7 1-6.6 1.1-4-0.9-3-1.9-2-2.7-0.8-3.6 0.8-4 2-3.3 3-2.7 4.6-2 4.4-1.1z"/>
<path fill="#de1d10" d="M483.3 110.1l3-0.5 2 0.3 8.3 4.4 11.5 9 6.1 6 3.3 4 4.2 8 1 4-0.7 3-1.5 3-2.3 3-2.4 2-3.5 1.8-4 1-12 1.8-6 0.3-7-0.7-5-1.2-3.9-2-1.9-2-2.9-7-0.8-5 2.5-19.2 1.6-4.8 2.4-3.5 4-3.6 4-2.1zM440.3 138.3l3 0.7 1.4 1.3 0.8 2-0.5 3-1.7 2-3 1.5-3 0.2-3-0.8-1.1-0.9-0.9-2 0.8-3 1.2-1.6 1.9-1.4 4.1-1z"/>
<path fill="#ba170e" d="M486.3 111.3l3 0.5 3 1.4 8 5.1 8.4 7 7 8 4.3 9 0.4 4-1 3-1.8 3-3.9 4-3.4 1.5-4 0.9-11 1.6-6 0.1-6-0.7-5-1.2-3-1.6-2.2-2.6-2.3-6-0.9-5 1.7-15 1-5 1.7-4.1 4-4.6 4-2.5 4-0.8z"/>
<path fill="#96110e" d="M483.3 114l3-0.5 3 0.5 8 3.9 9 6.8 6.7 7.6 4.7 9 1 4-0.6 3-1.6 3-2.2 3-2 1.7-2.9 1.3-3.1 0.7-11 1.5-5 0.2-11-1.6-3-1.5-2-2.1-2.2-5.2-1.2-6 2.1-17 1.3-3.8 2-3.3 3-3 4-2.2z"/>
<path fill="#760b0a" d="M485.3 117.2l6 0.6 7 2.5 7.7 6 5.1 6 4.9 9 1.2 4-0.3 2-1.3 3-2 3-2 2-2.3 1.2-3.3 0.8-10.7 1.4-5 0.2-11-1.6-2.1-1-2.1-2-2.1-5-1.2-6 2-16 1.5-3.7 2-2.3 4-2.8 4-1.3z"/>
<path fill="#590707" d="M483.3 119.9l3-0.6 3 0.2 8 1.9 6 4.3 4.5 4.6 3.4 5 4.4 9 0.1 2-0.5 2-1.9 3.5-2.1 2.5-1.9 1.2-3 0.9-15 1.6-11-1.3-2-0.8-2.1-1.6-1.9-4-1.6-7 1.7-14 0.8-3 1.3-2 2.8-2.3 4-2.1z"/>
<path fill="#3e0404" d="M484.3 121.2l5-0.2 7 1.5 5.6 3.8 4.4 4.2 3.3 4.8 4.7 9 0.1 2-0.6 2-1.6 3-1.9 2.2-2 1.3-3 0.8-14 1.4-11-1.4-2-0.8-1.6-1.5-1.4-3-1.6-7 1.7-14 0.9-2.5 1.1-1.5 2.9-2.2 4-1.9z"/>
<path fill="#240202" d="M483.3 123.3l4-0.8 8 1.4 3 1.6 6 5.1 4 5.5 4.3 8.2 0.2 2-0.5 1.8-3 4.4-4.1 1.8-12.9 1.4-5-0.2-6-1-3-1.4-2-3.8-1.3-6 1.3-11.5 0.9-3.5 1.1-1.7 5-3.3z"/>
<path fill="#100000" d="M487.3 132.3l2.8 0 2.2 2.5 2 1.5 3 3.9 2.5 5.1-1.5 0.2-0.8 0.8-7.2 0.3-5.2-0.3-1.8-3 1-9.3 3-1.7z"/>
</g></g>
<g clip-path="url(#clipc)" fill-rule="evenodd">
<path fill="#fce2d2" d="M145.7 322.1l2 0.3 1.5 1.8 2.5 12.3 3.8 12.7 1.5 3 2.3 2 10.2 6 10.7 4 2.7 2 4.2 7 3.1 4 2 7 0.7 6 2.9 5 0.9 0.6 2 0.2 13-3.4 10-1.6 6 0.5 1-0.3 0.9-1 0.1-2-1-1.5-1-0.6-5-0.3-5-1.2-4-1-4-2-6.6-5.4-1.9-3-1.8-4-0.2-3 1-3 1.5-1.7 2-0.8 10-0.1 8 2.3 7 2.9 5.6 5.4 0.9 2 0.8 4 2.5 5 1.1 9-0.4 5 0.4 2 2.1 1.8 7 1.7 2 1.5 0.3 2-0.7 5-0.7 2-1.2 1-1.7 0.4-5-0.6-18 0-9 0.9-5-0.8-7-0.3-6-1.6-1.2-1-3.5-5-1.3-0.8-2 0.4-12 5.3-4 0.4-11-3.5-7-2.9-1.2-0.9-0.8-2 2.2-3 0.4-1-0.5-1-2.1-0.8-10-1.9-9-6-1.1-1.3-0.7-2-0.8-8 0.2-3 6.4-28 4-10 1.5-10 0.9-2 1.6-1.1zM79.7 367l12-0.7 6 0.6 9 2.2 3 1.5 1.8 1.6 1.3 2 0.5 2 0 7-1.9 8-1.8 4-1.6 2-5.3 2.7-7 1.8-17 0.3-3-0.3-2-0.8-7-5.2-1.5-2.5-0.9-6 0.8-3 4-9 1.5-3 2.1-2.3 4-2.1 3-0.8z"/>
<path fill="#fbccb4" d="M146.7 327l2.3 10.2 3.3 11 2.8 5 2.5 2 9 5 14.1 6.4 3 3.4 4.5 7.2 2.2 9 0.4 5 1.5 4 0.2 2-0.8 2-1 1-4.9 3-11.1 4.4-3-0.3-3.4-1.1-9.9-4-0.7-1 2.1-3 0.1-1-1.2-2-3-1.3-10-1.3-3-0.9-3.9-2.5-4.3-4-1-3-0.8-7 1.9-12 1.4-5 3.2-8 1.5-5.6 3.3-7.4 1.7-8.6 1-1.6zM205.7 363.1l7-0.2 8 1.6 6 2.7 3.5 3 1.6 2 1.3 4 2.7 4 0.8 2 0 5 0.7 6-0.8 4 0.4 2 1.4 2 1.4 1 7 1.9 1 0.8 0.1 3.3-0.8 2-1.3 0.4-17-0.3-14 1-12.9-1.1-3.1-0.9-1.5-1.1-2.4-4-0.5-2 0.5-2 1.1-1 9.8-3.2 6-1.4 10-1.3 8 0.4 1.8-1.5 1.1-2-0.5-3-2-2-2.4-1.6-6-0.6-8-2-3.5-1.8-4.4-4-3.1-5-0.7-3 1.1-3 2.6-1.1zM80.7 368.2l9-0.6 8 0.7 6.1 1.9 5 3 1.4 2 0.5 1.9 0 6.1-1.3 7-2.9 5-3.8 2.4-5 1.7-5 0.6-10 0-4-0.3-3-0.8-6.3-4.6-1.7-2.9-0.5-4.1 4.2-13 1.3-2.2 2.1-1.8 2.9-1.4 3-0.6z"/>
<path fill="#f6b394" d="M145.7 352.2l2 0.1 3 1 6 3.4 21 10 3.3 2.5 4.1 6 1.4 3-0.2 3-1.8 4 0.3 1 2.9 1.4 0.6 1.6-0.8 7-0.8 1.4-7 3.7-3 0.9-2 0-1.4-1 0.2-1 2-3 0.1-1-0.9-1-2-0.6-4-0.1-5-2.1-19-1.6-3.4-1.6-3.3-3-2.6-4-1.1-5 0-4 1.4-10 1-3.4 2-3.5 3-2.5 4-1.6zM210.7 366.6l6-0.3 5 1 4.6 3.9 0.8 2-0.2 1-2.5 3-2.7 1.5-4-0.2-5-1.7-2.1-1.6-1.2-4-0.2-3 1.5-1.6zM80.7 369.2l8-0.6 8 1 4 1.2 3.7 2.4 1.6 2 0.9 2 1.3 9-0.9 4-2.6 3.3-5 3.3-6 1-12-0.1-3-0.8-2.3-1.7-3.5-4-1.5-3-0.3-4 0.5-5 1-4 1.7-3 2.8-2 3.6-1zM231.7 379.7l1.9 0.5 0.8 1 0.3 1-1 1.7-2-0.1-1.5-1.6 0.5-2 1-0.5zM210.7 397l5-0.4 10 0.8 2.4 1.8 0.6 1 0.2 2-1.5 2-2.7 1.6-8 1.4-13 0.2-2-0.4-2.3-1.8-0.9-3 1-2 2.2-1 9-2.2z"/>
<path fill="#ec9374" d="M145.7 355l3 0.1 3 1.1 21 9.6 5 2.7 3 2.9 3.2 5.8 0.2 2-1.4 3-4 4.2-3 1.7-15 1.7-9 0.1-6-0.5-4-1.8-3.7-4.4-1.9-4-0.6-5 0.8-8 0.8-4 1.6-3.1 3-2.5 4-1.6zM80.7 370.1l7-0.6 3 0.3 7 1.9 4 2.4 3.2 4.1 1.6 6 0 4-1.8 3-5 3.7-5 1.1-12 0.2-3-0.7-1.7-1.3-4.3-6-0.6-3 0.2-5 0.7-4 1.2-3 2.2-2 3.3-1.1zM216.7 369.9l2 0 2 0.8 0.9 1.5-0.4 2-2.5 1.2-2-0.6-1.1-1.6-0.3-2 0.4-0.9 1-0.4zM180.7 390.6l2 0 0.7 0.6-1.7 0.8-2-0.8 1-0.6zM206.7 400.1l8.7 0.1 2.6 1 0.6 1-0.7 1-2.2 0.8-9.4 1.2-2.6 0.1-2.1-1.1-0.5-1 0.6-1.6 5-1.5z"/>
<path fill="#dd7059" d="M143.7 358.2l4-0.7 5 1 10 4 11.8 5.7 3.9 3 2 3 1.1 3-0.6 3-2.2 2.2-3 1.8-4 1.7-4 1-8 1.1-5 0.2-7-0.1-4-1.1-2.4-1.8-2.8-4-1.3-3-0.6-4 0.7-8 1-4 2.4-2.8 3-1.2zM80.7 371l6-0.6 3 0.3 6.5 2.5 4.5 3.1 2.8 2.9 1.7 4 0.5 3-1 3.2-4 3.5-4 1.4-12 0.7-3-0.3-2-0.9-1.6-1.6-2.5-4-0.7-2-0.2-3 1.5-9 1.7-2 2.8-1.2z"/>
<path fill="#cc4c44" d="M143.7 360l5-0.5 5 0.8 17 7.1 2.9 1.8 2.8 3 2 4-0.1 2-0.7 1-2.9 2.1-3.7 1.9-3.3 1.1-9 1.3-10 0.7-3-0.1-2-0.8-2.4-2.2-2.3-4-1.1-3-0.3-3 0.7-7 0.7-3 1.7-2.1 3-1.1zM80.7 371.9l5-0.7 4 0.5 5 2.7 5.3 3.8 2.7 2.6 1.8 3.4 0.2 3-1 2-3 2.5-3 1.2-12 1-3-0.2-2-0.8-1.6-1.7-2.2-4-0.7-4 1.2-8 1.2-2 2.1-1.3z"/>
<path fill="#ba2832" d="M144.7 361.1l8 0.1 8 2.8 10.8 5.2 1.8 2 0.1 2-2.7 2.6-8 4-13 4.6-3 0.5-2-0.4-2-1.5-1.9-2.8-1.9-4-0.4-3 1.2-9.1 2-2.2 3-0.8zM82.7 372.1l4-0.2 2 0.5 6 3.9 8 6.7 1.4 3.2-0.7 2-2.7 2.4-3 1.3-11 1.1-3-0.1-2-0.7-1.2-1-1.5-3-1.1-3-0.3-3 0.7-5 1-3 1.4-1.3 2-0.8z"/>
<path fill="#9f1228" d="M146.7 362.2l7 0.4 6 2.1 9.8 4.5 1.3 1 0.6 2-1.7 2-7 3.6-14 5.4-2 0.4-2-0.4-2-1.9-2.3-4.1-1-3 0-3 1.4-7 1.9-1.5 4-0.5zM82.7 372.8l5 0.1 6 4 8.8 7.3 0.7 2-0.8 2-2.7 2.1-3 0.8-11 1-2-0.1-1.8-0.8-1.2-1.7-1.2-3.3-0.8-5 1.3-6 0.7-1.2 2-1.2z"/>
<path fill="#790622" d="M142.7 364l2-0.6 4-0.1 6 0.7 13 5.6 1.8 1.6-0.1 1-2.4 2-4.3 2.1-14 5.6-3 0.3-2.4-2-2.8-6-0.1-3 0.8-5 1.5-2.2zM82.7 373.7l3-0.3 3 0.9 12.5 9.9 1.1 2-0.6 1.5-2 1.7-2.5 0.8-6.5 0.3-4 0.8-2.3-0.1-1.7-0.6-1.5-2.4-1.6-6 1.1-6.1 1-1.8 1-0.6z"/>
<path fill="#dae9f2" d="M182.7 293l4-0.5 3 0.4 10 4.7 3.8 2.6 8.6 9 7.6 15.2 1-0.3 3.7-7.9 3.4-5 5.9-6.1 6-4.5 7-2.5 4-0.7 8 0.1 2 0.6 2 1.3 5 4.9 6.4 7.9 3 6 1.7 5-0.5 8-1.4 5-1.7 3-7.5 9.3-1.6 3.7 0.6 2.8 6.5 15.2 0.4 2-0.9 2.1-21 15.5-2 0.6-1-0.2-1.7-2-2.4-7-4-16-1.4-2-7.7-6-1.9-2-5.3-13-2.6-8.3-1-1.5-1 0.1-1 1.3-2.5 5.4-1.7 2-6.8 3.1-4 0.1-6-3.2-2-1.8-5-10.8-1-1.4-1.5-1-12.5-3.1-4-0.1-6 0.9-4 0.1-7-1.3-4.7-2.5-6.3-6.7-2-0.8-2 0.9-1 1.8-0.9 6.8-4.1 21-2 17-2 8.5-2 4.2-5 3.6-2 0.3-1.1-0.6-0.9-1.2-3.4-7.8-0.7-1-1.9-1.1-5-0.7-16-1-10 0.2-13 1.8-4-0.1-12-2.8-4-2.3-2-2-0.7-4 0.7-3.2 3-3.1 5-3 12-1.5 6 0.6 9 0.1 9-1.5 4-1.8 4-3.2 2-2.4 8.3-13 3.9-10 1.8-1.8 2-1.1 11-2.9 9-1 6-0.1 11-4.7 20-5.8 9-1.8zM173.7 343l3-0.5 2 0.3 4 1 2 1.7 1.2 4.7-0.2 4-1.6 3-2.4 2.2-3 0.6-5-0.5-2.2-1.3-1.3-2-1.2-5-0.3-5 1.6-2 3.4-1.2zM278.7 352.7l2 0 1 0.5 0.4 1-0.9 5-0.5 1-1 0.4-1.4-0.4-1.2-2 0.1-4 0.5-1 1-0.5zM189.7 365.8l2 0 1.4 1.4 0.2 4-0.6 1.6-1 0.6-2-0.5-1.1-1.7-0.2-4 1.3-1.4zM204.7 385.7l2 0.5 0.5 1-0.5 1.9-1 0.5-2-0.4-0.5-1 0.5-2 1-0.5z"/>
<path fill="#c2ddec" d="M179.7 296.2l7-1 4.1 1 9.5 5 9.2 9 5.3 10 2 8-0.1 2.1-1 3.1-2 4.5-1.2 1.3-5.8 2.4-2 0.2-1.9-0.6-3.6-2-1.5-1.4-5.1-10.6-2.9-3.3-3-1.1-10-2.4-6-0.1-10 1.3-6-0.9-2-0.7-2-1.4-5-7.1-3-1.7-3 1.6-2.8 2.8-0.7 8-5.2 20-1.1 9-0.2 7-1 5.1-2 6.6-1 1.3-3 2-1 0.1-1-0.8-3.2-7.3-2.8-2.3-32-0.6-14 1.4-4-0.1-7-1.6-4-1.4-3.6-2.4-1.4-2-0.1-3 0.9-2 3.2-2.8 3-1.4 11-1.7 12 0.4 5-0.3 8-1.3 4-1.8 4.2-3.1 2.6-3 8.9-13 4.2-10 2.3-2 2.1-1 7.7-2.5 9-0.9 2 0.1 3 1 2 0.1 10.9-5.8 12.1-2.3 13-3.7zM248.7 300.1l4-0.3 6 0.5 2 0.9 4 3.4 2.6 2.6 5.1 7 2.3 4.8 1.3 5.2-0.4 6-1.8 6-8.6 11-1.9 4 0.2 3 6.2 14.8 0.6 3.2-1.8 2-15 11-2.8 1.6-1.3-0.6-2.7-5.7-5-18.1-2-2.3-7-5.6-2-3.2-4-10.5-3.2-12.6 0.2-3 1.8-7 2.2-3.8 3.4-4.2 4.6-4.4 5-3.2 8-2.5zM172.7 346l4-0.8 4 0.1 2 0.8 1 1.4 0.9 2.7-0.1 3-0.8 2.1-2 1.7-3 1.5-4 0.1-2-0.8-1.6-2.6-0.8-5 0.4-2.4 1-1.3 1-0.5zM279.7 354.6l0.3 0.6-0.3 2.1-1-1.1 0.2-1 0.8-0.6zM190.7 368.9l0.1 0.3-0.1 1-0.1-1 0.1-0.3z"/>
<path fill="#a2cde3" d="M183.7 302.1l5 0.1 3 1.1 8.5 6.9 5.5 5.4 3.1 4.6 1.3 4-0.6 5-0.9 3-1.4 2-3.5 1.3-2-0.3-1-0.9-10.4-20.1-4.6-3.2-5.1-4.8 0-2 0.6-1 2.5-1.1zM249.7 304.1l4 0.2 10 4.5 3 4 3.2 7.4-0.5 4-1.7 6-1.5 3-6.7 5-3.8 1.8-3-0.1-6.8-1.7-10.2-5.8-5.9-5.2-1-2-0.6-3-0.2-2 0.7-2.6 7-8.4 2.9-2 2.1-0.8 9-2.3zM154.7 305l4-0.5 1.1 0.7 0.8 2 0.7 4-0.2 3-1.2 3-1.2 0.7-2 0.2-2-0.5-1-0.5-1-1.9 0-8 0.5-1 1.5-1.2zM135.7 308.2l2 0.1 1 0.9-0.3 1-1.7 1.5-5 2.2-1 0.3-5.5-3 0.3-1 1.9-1 8.3-1zM128.7 315.1l1-0.7 2-0.1 2 1.6 0.8 1.3 0.4 3-1.2 4.6-3.2 6.4-8.8 11.5-9.2 15.5-2 2-2.8 0.8-7 0.4-19-0.2-16 0.8-9-2.6-2-1.2-1.6-2-0.6-2 0.5-2 1.7-1.6 3.6-1.4 8.4-2 15-0.3 9-1 6-2 6-4.3 6.1-7.4 9.9-10 10-7.1zM172.7 348.7l3-0.4 6 0.4 1.2 1.5-0.2 3.5-4.6 3.5-2.4 0.3-2-0.5-1.4-1.8-0.7-3 0.1-2.2 1-1.3zM248.7 352.2l4.7 1 1.6 1 2.7 4.5 2.3 5.5-0.3 5.5-1.3 4.5-1.7 2-5 2.7-1.9-0.7-1.1-1.8-2-4.6-1-4.6 0-13 1-1.6 2-0.4z"/>
<path fill="#7eb8d7" d="M188.7 307l1 0 1 0.8-0.5 1.4-1.5-0.1-0.8-0.9 0.8-1.2zM240.7 316l3.4 0.2 6.6 3.1 2.7 4.9-0.3 2-0.8 1-2.6 2-3 1.1-8-1-3-1.7-2.5-4.4 0.1-3 2.4-2.2 5-2zM130.7 318.2l1.5 1 0.6 2-0.4 2-1.7 3.6-4.3 6.4-10.4 13-5.8 10-2.1 2-9.4 1.9-31 0-3-0.5-3.8-1.4-3.2-1.6-1.2-1.4-0.2-1 1.4-1.6 8-3.2 26-2 8-2.3 5.4-3.9 5.6-7 10.9-11 5.1-3.8 2-0.9 2-0.3zM203.7 321.9l1.5 0.3 0.7 1 0.1 3-1.3 1.2-1.3-0.2-0.7-0.7-0.4-1.3 0.4-2.8 1-0.5zM259.7 323.9l2 0.1 0.2 1.2-1.2 0.5-1-0.2 0-1.6zM173.7 351.1l2-0.5 1.6 0.6 0.4 2-0.7 2-1.3 0.3-1.1-0.3-0.9-1.5 0-2.6zM250.7 361l1.6 0.2 0.7 1 0.7 6-1 1.1-2-0.3-1-1.8-0.3-5 1.3-1.2z"/>
<path fill="#569fc9" d="M237.7 321l2-0.1 1 0.6 0.8 1.7-0.3 1-2.5 1-1 0-1-0.6-0.7-2.4 1.7-1.2zM128.7 322.1l0.9 1.1-0.2 1-4.7 7.4-7 8-2 1.2-1-0.3-1.4-2.3 0.1-1 1.2-2 9.2-10 2.9-2.4 2-0.7zM86.7 349.1l10-0.8 4 0.3 4.2 1.6 1.1 1 0.6 2-1.8 3-3.7 2-12.4 1.2-10-0.1-11-1.2-3-1.2-1.6-1.7-0.2-1 1.2-2 2.6-1.1 6-1 14-1z"/>
<path fill="#3a87bd" d="M74.7 351.2l13-1 9 0.3 4 1.2 1.8 1.5-0.7 2-2.1 1.3-10 2-13-0.3-6-1.4-3.3-1.6-0.3-1 1-1 3.6-1.5 3-0.5z"/>
<path fill="#2a71b2" d="M75.7 352.1l14-0.8 5 1.1 1.6 0.8 0.6 1-0.3 1-1.3 1-4.6 1.4-12 0-4-0.8-3-1.6-0.3-1 0.8-1 3.5-1.1z"/>
<path fill="#1a5899" d="M85.7 352.2l6 0.7 1.9 1.3 0 1-2.9 1.5-5 0.5-8-0.6-3.2-1.4-0.2-1 1.8-1 9.6-1z"/>
<path fill="#0c3d73" d="M84.7 353.2l5 0.4 1.2 0.6 0.2 1-2.4 1-3 0.1-3.2-0.1-4.9-1 0.8-1 6.3-1z"/>
</g>
<g clip-path="url(#cla)"><path d="M207.5 144.5L204.7 142.2L201.9 139.9L199.1 137.6L196.3 135.4L193.4 133.2L190.4 131.1L187.5 129.0L184.6 126.8L181.6 124.8L178.6 122.7L175.6 120.8L172.6 118.8M213.6 155.4L209.8 154.9L205.9 154.5L202.0 153.9L198.2 153.4L194.3 152.8L190.4 152.1L186.6 151.4L182.8 150.7L178.9 150.0L175.1 149.2L171.3 148.3L167.5 147.5M179.6 139.8L178.5 135.1L177.1 130.5L175.2 126.1L173.0 121.9L170.4 117.9L167.4 114.1L164.5 110.3L161.3 106.8L157.8 103.5L154.0 100.6L150.0 98.0L145.8 95.8M188.2 161.2L184.3 160.0L180.4 158.7L176.6 157.3L172.8 155.7L169.1 154.0L165.4 152.1L161.8 150.2L158.2 148.2L154.8 146.1L151.4 143.8L148.0 141.4L144.8 138.9M186.6 135.4L184.6 133.3L182.5 131.3L180.4 129.4L178.1 127.5L175.8 125.8L173.4 124.1L171.1 122.4L168.6 120.9L166.1 119.4L163.6 118.1L160.9 116.9L158.3 115.7M79.2 151.9L77.1 147.9L74.8 144.0L72.4 140.1L69.9 136.4L67.2 132.7L64.5 129.1L61.7 125.5L58.8 122.0L55.7 118.7M154.4 152.9L151.5 151.5L148.6 150.2L145.8 148.7L143.0 147.2L140.2 145.7L137.4 144.1L134.7 142.5L132.0 140.9L129.3 139.2L126.6 137.5L124.0 135.7L121.4 133.9M138.8 144.2L136.8 141.5L134.8 138.8L132.7 136.1L130.6 133.4L128.5 130.8L126.5 128.1L124.4 125.4L122.3 122.8L120.1 120.1L118.0 117.5L115.9 114.8L113.7 112.2M103.8 145.4L101.6 142.7L99.2 140.3L96.5 138.1L93.6 136.1L90.6 134.5L87.5 133.1L84.3 131.7L81.0 130.6L77.6 129.9L74.2 129.4L70.7 129.3L67.3 129.5M150.9 106.5L148.4 104.2L145.8 102.1L143.2 100.1L140.3 98.3L137.4 96.6L134.4 95.1L131.5 93.6L128.4 92.3L125.2 91.1L122.0 90.2L118.8 89.4L115.5 88.8M225.9 151.5L222.8 149.9L219.8 148.1L216.9 146.3L214.0 144.3L211.2 142.3L208.4 140.1L205.7 137.9L203.1 135.7L200.5 133.3L198.0 130.9L195.6 128.4L193.3 125.7M184.0 140.1L179.6 139.5L175.2 138.6L170.8 137.4L166.6 135.9L162.5 134.1L158.4 132.1L154.4 130.1L150.6 127.8L146.9 125.2L143.3 122.5L140.0 119.5L136.8 116.2M143.1 137.6L141.4 135.3L139.7 133.0L137.8 130.9L135.8 128.9L133.7 126.9L131.4 125.1L129.2 123.3L127.0 121.6L124.6 120.0L122.1 118.5L119.6 117.2L117.0 116.0M143.4 159.8L142.9 156.8L142.4 153.8L141.8 150.9L141.1 147.9L140.3 145.0L139.4 142.1L138.6 139.2L137.7 136.3L136.7 133.5L135.7 130.6L134.5 127.8L133.3 125.1M145.7 136.0L141.6 134.5L137.6 132.8L133.7 130.9L129.8 128.8L126.1 126.5L122.5 124.1L118.8 121.7L115.3 119.1L111.9 116.4L108.6 113.5L105.4 110.5L102.4 107.3M81.8 141.6L79.2 139.5L76.6 137.4L73.9 135.5L71.1 133.6L68.3 131.8L65.5 130.1L62.6 128.4L59.7 126.8L56.7 125.2L53.7 123.8L50.7 122.4M202.3 126.1L199.3 124.1L196.4 122.1L193.6 120.0L190.8 117.7L188.1 115.5L185.4 113.1L182.8 110.7L180.2 108.3L177.7 105.8L175.3 103.2L172.9 100.6L170.6 97.9M103.1 153.1L104.2 148.9L104.7 144.7L104.7 140.4L104.1 136.2L103.0 132.1L101.5 128.1L99.9 124.1L97.8 120.4L95.2 117.0L92.3 113.9L89.0 111.2L85.4 108.9M263.1 130.8L261.2 128.1L259.1 125.4L257.0 122.9L254.8 120.5L252.4 118.1L250.1 115.7L247.7 113.5L245.2 111.3L242.6 109.2L239.9 107.3L237.2 105.4M145.9 123.1L142.9 122.7L139.8 122.4L136.7 122.2L133.6 122.1L130.5 122.0L127.5 122.1L124.4 122.2L121.3 122.3L118.2 122.6L115.1 123.0L112.1 123.4L109.0 123.9M205.0 145.6L201.2 144.9L197.4 144.2L193.6 143.3L189.9 142.3L186.1 141.3L182.4 140.1L178.8 138.9L175.1 137.7L171.5 136.4L167.9 134.9L164.3 133.4L160.8 131.8M144.3 132.7L140.2 131.0L136.1 129.4L131.9 127.7L127.8 126.2L123.6 124.6L119.5 123.1L115.3 121.6L111.1 120.1L106.9 118.7L102.7 117.3L98.4 115.9L94.2 114.6M99.8 139.3L95.5 137.3L91.0 135.6L86.5 134.1L81.8 132.8L77.2 131.8L72.5 131.1L67.7 130.4L63.0 129.9L58.2 129.7L53.4 129.7L48.6 130.0M233.9 165.8L232.0 164.2L230.0 162.6L227.9 161.1L225.8 159.7L223.6 158.4L221.4 157.1L219.3 155.8L217.0 154.6L214.7 153.5L212.4 152.4L210.1 151.5L207.7 150.6M137.8 168.9L136.8 166.4L135.7 164.0L134.7 161.5L133.6 159.0L132.5 156.6L131.4 154.1L130.4 151.6L129.3 149.2L128.2 146.7L127.1 144.3L126.0 141.8L124.9 139.4M166.9 152.1L164.7 149.9L162.5 147.7L160.3 145.5L158.0 143.4L155.7 141.2L153.4 139.1L151.2 137.0L148.9 134.9L146.5 132.8L144.2 130.7L141.8 128.7L139.4 126.7M197.8 143.9L196.1 141.7L194.3 139.7L192.5 137.7L190.5 135.7L188.5 133.9L186.4 132.1L184.4 130.3L182.2 128.6L180.0 127.0L177.8 125.5L175.5 124.0L173.1 122.7M108.8 138.7L107.3 135.9L105.7 133.2L104.1 130.6L102.3 128.0L100.4 125.5L98.5 123.1L96.5 120.7L94.4 118.3L92.3 116.1L90.0 113.9L87.7 111.8L85.3 109.9M247.6 114.4L244.3 115.1L240.9 115.5L237.6 115.8L234.2 115.8L230.8 115.5L227.4 115.1L224.1 114.7L220.8 114.0L217.5 113.1L214.3 112.0L211.2 110.7L208.2 109.2M174.0 159.6L170.9 158.2L167.7 157.0L164.5 156.1L161.2 155.5L157.8 155.1L154.4 155.1L151.1 155.1L147.7 155.3L144.4 155.9L141.1 156.7L137.9 157.8L134.9 159.2M94.8 145.3L91.3 143.0L87.8 140.7L84.2 138.5L80.7 136.3L77.1 134.2L73.5 132.1L69.8 130.0L66.2 128.0L62.5 126.0L58.8 124.0L55.1 122.1M140.4 115.7L137.1 115.3L133.7 114.9L130.4 114.3L127.0 113.7L123.7 112.9L120.5 112.1L117.2 111.3L113.9 110.3L110.7 109.3L107.5 108.2L104.3 107.0L101.2 105.7M175.6 156.1L172.0 152.7L168.4 149.3L164.8 145.8L161.3 142.3L157.9 138.7L154.4 135.1L151.0 131.5L147.7 127.8L144.3 124.1L141.1 120.4L137.8 116.6L134.7 112.8M96.8 148.7L92.9 147.5L89.0 146.4L85.1 145.3L81.3 144.2L77.4 143.2L73.5 142.1L69.5 141.0L65.6 140.0L61.7 139.0L57.8 137.9L53.9 136.9L50.0 135.9M135.2 146.7L132.1 144.8L128.9 142.9L125.8 141.0L122.7 139.1L119.5 137.1L116.5 135.1L113.4 133.1L110.3 131.1L107.2 129.1L104.2 127.0L101.1 124.9L98.1 122.8M228.7 145.6L223.8 145.7L218.9 146.1L214.0 146.6L209.1 147.3L204.3 148.1L199.4 149.1L194.6 150.1L189.8 151.3L185.1 152.6L180.4 154.1L175.8 155.7L171.2 157.5M148.3 96.4L144.9 97.4L141.4 98.1L138.0 98.6L134.5 99.0L131.0 99.1L127.5 99.1L123.9 99.1L120.4 98.8L116.9 98.4L113.5 97.8L110.1 97.0L106.7 96.0M132.3 142.4L130.8 140.6L129.2 138.8L127.6 137.0L125.9 135.3L124.2 133.7L122.5 132.1L120.7 130.5L118.9 128.9L117.1 127.4L115.2 126.0L113.3 124.6L111.3 123.2M80.7 155.7L83.0 151.8L85.0 147.6L86.8 143.4L88.3 139.0L89.5 134.6L90.5 130.1L91.4 125.6L92.0 121.0L92.4 116.5L92.5 111.9L92.3 107.3M202.7 112.8L199.3 110.6L195.8 108.8L192.1 107.2L188.3 105.9L184.4 104.8L180.4 104.1L176.5 103.4L172.5 102.9L168.5 102.8L164.5 103.0L160.5 103.4L156.6 104.2M136.0 143.1L133.8 142.1L131.7 141.1L129.6 139.9L127.5 138.7L125.4 137.5L123.5 136.1L121.5 134.7L119.5 133.3L117.6 131.8L115.8 130.3L114.0 128.7L112.3 127.0M201.2 162.6L199.1 159.7L196.9 156.8L194.8 153.8L192.7 150.9L190.6 148.0L188.4 145.1L186.3 142.2L184.2 139.3L182.1 136.3L180.0 133.4L177.9 130.5L175.8 127.5M162.0 129.5L158.2 130.3L154.5 131.1L150.7 131.9L147.0 132.7L143.2 133.4L139.4 134.1L135.7 134.8L131.9 135.5L128.1 136.1L124.3 136.7L120.6 137.3L116.8 137.8M139.5 134.3L135.7 133.0L132.1 131.4L128.7 129.5L125.4 127.3L122.3 124.8L119.5 122.1L116.6 119.4L114.0 116.4L111.7 113.2L109.6 109.9L107.8 106.3L106.4 102.7M122.4 168.2L121.4 164.4L120.5 160.6L119.6 156.7L118.8 152.9L118.1 149.0L117.5 145.1L116.8 141.2L116.2 137.3L115.7 133.4L115.3 129.5L114.9 125.6L114.6 121.7M195.4 137.2L192.7 135.8L189.9 134.6L187.1 133.5L184.3 132.6L181.4 131.8L178.4 131.1L175.5 130.4L172.6 129.9L169.6 129.5L166.6 129.2L163.6 129.0L160.6 129.0M190.9 153.3L190.3 149.6L189.6 145.9L188.9 142.1L188.1 138.5L187.3 134.8L186.4 131.1L185.6 127.4L184.7 123.8L183.7 120.1L182.7 116.5L181.6 112.9L180.5 109.3M215.5 156.7L212.7 153.8L209.9 151.0L207.1 148.2L204.3 145.5L201.4 142.8L198.4 140.1L195.5 137.4L192.6 134.8L189.6 132.2L186.6 129.6L183.5 127.0L180.5 124.5M248.0 124.2L244.5 122.0L240.9 120.0L237.1 118.2L233.3 116.6L229.4 115.2L225.4 114.1L221.5 113.0L217.4 112.1L213.4 111.4L209.3 111.0L205.1 110.8L201.0 110.8M131.6 155.0L127.1 152.9L122.7 151.0L118.2 149.1L113.6 147.4L109.1 145.7L104.5 144.1L99.8 142.5L95.2 141.0L90.5 139.6L85.9 138.3L81.1 137.1L76.4 135.9M83.8 145.7L81.4 144.6L78.9 143.4L76.5 142.2L74.1 140.9L71.8 139.5L69.5 138.1L67.1 136.7L64.8 135.2L62.6 133.7L60.4 132.1L58.2 130.5L56.1 128.8M150.1 148.9L147.7 147.7L145.3 146.4L142.9 145.3L140.4 144.2L137.9 143.1L135.4 142.1L133.0 141.1L130.4 140.1L127.9 139.2L125.3 138.4L122.8 137.6L120.2 136.9M138.0 122.3L135.2 121.7L132.4 121.1L129.7 120.4L126.9 119.7L124.2 118.9L121.5 118.1L118.7 117.3L116.0 116.4L113.3 115.5L110.7 114.5L108.0 113.5L105.4 112.4M150.7 142.3L145.9 142.7L141.0 143.0L136.1 143.2L131.2 143.2L126.3 143.2L121.5 143.1L116.6 143.0L111.7 142.8L106.8 142.4L101.9 142.0L97.1 141.5L92.2 140.8M133.7 137.9L132.2 134.1L130.3 130.4L128.0 126.9L125.5 123.7L122.6 120.8L119.5 118.1L116.3 115.4L112.9 113.1L109.3 111.1L105.5 109.5L101.5 108.3L97.5 107.5M239.3 117.5L237.9 115.6L236.3 113.7L234.7 112.0L233.0 110.3L231.3 108.7L229.4 107.1L227.6 105.5L225.7 104.1L223.8 102.7L221.8 101.3L219.8 100.1L217.7 98.9M76.5 158.7L75.2 156.4L73.8 154.3L72.3 152.1L70.8 150.1L69.1 148.1L67.5 146.1L65.8 144.1L64.0 142.2L62.2 140.4L60.3 138.6L58.4 136.9L56.4 135.3M147.0 155.6L144.4 154.0L141.8 152.5L139.2 150.9L136.6 149.3L134.0 147.7L131.4 146.1L128.9 144.5L126.3 142.8L123.8 141.2L121.3 139.5L118.7 137.8L116.2 136.1M152.1 144.5L147.8 144.6L143.5 144.9L139.2 145.2L135.0 145.7L130.7 146.3L126.5 147.1L122.2 147.9L118.0 148.7L113.8 149.8L109.7 150.9L105.5 152.2L101.5 153.6M146.9 128.3L144.5 128.6L142.1 128.8L139.7 129.1L137.2 129.4L134.8 129.7L132.4 130.1L130.1 130.5L127.7 130.8L125.3 131.2L122.9 131.7L120.5 132.1L118.1 132.6M83.4 133.4L81.2 131.6L79.1 129.9L76.9 128.2L74.8 126.5L72.6 124.8L70.5 123.1L68.3 121.4L66.1 119.7L63.9 118.0M258.3 92.5L256.1 91.2L253.9 89.9L251.7 88.5L249.6 87.1L247.5 85.6L245.4 84.1L243.4 82.6L241.4 81.0L239.4 79.5L237.4 77.8L235.5 76.2L233.6 74.4M154.8 142.6L151.4 141.6L148.0 140.5L144.6 139.4L141.2 138.3L137.8 137.2L134.4 136.1L131.1 135.0L127.7 133.9L124.3 132.7L120.9 131.6L117.5 130.4L114.2 129.2M143.6 149.2L142.0 147.4L140.4 145.6L138.7 143.9L137.0 142.3L135.3 140.7L133.4 139.1L131.6 137.5L129.8 136.0L127.9 134.5L126.0 133.1L124.1 131.7L122.1 130.4M207.4 156.0L205.9 153.9L204.3 151.8L202.7 149.8L201.0 147.8L199.3 145.9L197.4 144.1L195.6 142.3L193.8 140.5L191.9 138.8L189.9 137.1L187.8 135.5L185.8 134.0M142.1 133.0L139.3 131.4L136.6 129.7L133.8 128.1L131.0 126.4L128.2 124.8L125.5 123.1L122.7 121.4L119.9 119.8L117.1 118.1L114.4 116.4L111.6 114.7L108.8 113.1M192.6 129.9L190.1 127.8L187.5 125.9L184.8 124.1L182.1 122.3L179.3 120.7L176.4 119.1L173.6 117.5L170.7 116.1L167.8 114.8L164.8 113.5L161.7 112.4L158.7 111.4M137.5 152.0L134.7 148.1L131.4 144.6L127.7 141.6L123.5 139.1L119.1 137.3L114.5 136.1L109.8 134.9L105.0 134.4L100.2 134.5L95.5 135.4L90.9 136.9L86.6 139.0M123.8 157.9L124.9 155.5L125.9 153.0L126.9 150.6L127.8 148.1L128.7 145.6L129.4 143.1L130.2 140.6L131.0 138.1L131.7 135.5L132.3 132.9L132.8 130.4L133.3 127.8M160.0 175.5L159.0 171.6L157.7 167.8L156.1 164.1L154.2 160.6L151.9 157.2L149.4 154.1L147.0 151.0L144.2 148.0L141.2 145.4L138.0 143.0L134.6 140.8L131.0 139.0" fill="none" stroke="#e6e6e6" stroke-opacity="0.55" stroke-width="0.55" stroke-linejoin="round"/></g>
<g clip-path="url(#cla)"><path d="M238.4 118.7L238.2 114.2L237.8 109.7L237.2 105.3L236.5 100.8L235.5 96.5L234.4 92.1L233.4 87.7L232.1 83.4L230.6 79.2L229.0 75.0M76.7 154.2L74.2 149.7L71.6 145.3L68.9 140.9L66.2 136.6L63.4 132.3L60.5 128.1L57.5 123.9L54.6 119.7M200.7 156.5L198.9 152.7L197.1 148.9L195.3 145.2L193.4 141.5L191.4 137.8L189.4 134.1L187.5 130.4L185.5 126.8L183.4 123.1L181.3 119.5L179.2 115.9L177.0 112.3M216.2 78.3L212.7 78.0L209.2 77.7L205.8 77.3L202.3 77.0L198.9 76.6L195.4 76.1L192.0 75.6L188.6 75.2L185.1 74.6L181.7 74.1L178.3 73.5L174.9 72.9M153.5 126.7L154.0 121.5L154.3 116.2L154.5 110.9L154.3 105.6L154.0 100.4L153.4 95.1L152.9 89.8L152.1 84.6L151.1 79.4L149.9 74.3M258.6 162.6L253.9 162.1L249.2 161.6L244.4 161.1L239.7 160.6L235.0 160.0L230.3 159.4L225.6 158.8L220.9 158.1L216.2 157.4M215.4 114.2L208.7 111.0L202.3 107.0L196.6 102.2L191.5 96.7L187.1 90.7L183.4 84.1L179.8 77.5L177.1 70.6M271.6 112.2L270.3 108.9L269.0 105.6L267.8 102.3L266.6 98.9L265.5 95.5L264.4 92.1L263.4 88.7L262.4 85.3L261.5 81.8L260.6 78.4M253.4 164.1L252.3 158.4L251.3 152.7L250.6 147.0L250.2 141.2L250.0 135.4L250.0 129.7M81.9 155.7L80.0 152.5L78.2 149.3L76.5 146.0L74.7 142.7L73.1 139.4L71.5 136.1L69.8 132.8L68.3 129.4L66.8 126.0L65.3 122.6L63.9 119.2L62.5 115.7M185.9 141.6L180.7 137.2L175.3 133.0L169.8 129.0L164.2 125.1L158.4 121.5L152.4 118.1L146.5 114.7L140.5 111.5L134.4 108.5L128.1 105.8L121.8 103.2L115.3 100.9M248.2 145.8L242.0 144.0L236.0 141.8L230.2 139.0L224.7 135.8L219.4 132.2L214.4 128.1L209.5 124.0L204.9 119.6L200.6 114.8L196.8 109.7L193.3 104.2L190.4 98.6M256.2 141.8L250.4 141.0L244.6 140.4L238.9 139.7L233.1 139.1L227.3 138.6L221.4 138.1L215.6 137.6L209.8 137.1L204.0 136.7L198.2 136.3L192.4 136.0L186.6 135.7M261.7 120.3L257.8 114.9L254.4 109.1L251.1 103.3L248.2 97.3L245.9 91.0L244.1 84.6L242.9 78.0M117.5 111.9L115.6 109.0L113.9 106.1L112.1 103.2L110.5 100.2L108.9 97.2L107.5 94.1M52.5 142.7L52.0 137.3L50.9 132.1L49.3 126.9M132.2 166.2L131.1 161.6L130.0 157.1L128.9 152.6L127.8 148.1L126.6 143.6L125.5 139.1L124.3 134.6L123.1 130.1L121.8 125.6L120.6 121.2L119.3 116.7L118.0 112.2M259.0 130.4L251.9 128.8L244.7 128.1L237.4 128.1L230.2 128.1L223.0 129.0L215.9 130.6L209.1 133.0L202.5 136.1L196.3 139.9M139.2 172.1L138.7 167.5L137.7 163.0L136.3 158.5L134.6 154.2L132.4 150.1L130.3 146.0L127.8 142.1L125.0 138.4L121.9 135.0L118.4 131.8L114.7 129.0M126.9 140.7L123.6 139.2L120.3 137.7L117.1 136.1L113.9 134.4L110.6 132.8L107.5 131.1L104.3 129.4L101.1 127.7L97.9 125.9L94.8 124.1L91.7 122.3L88.6 120.5M236.7 164.4L237.0 157.5L236.2 150.7L234.5 144.1L231.8 137.7L228.3 131.9M167.3 102.4L161.4 104.1L155.4 105.1L149.3 105.4L143.3 105.0L137.3 103.9L131.4 102.1L125.6 100.3L120.0 97.9L114.8 94.8L109.9 91.2M189.3 165.6L184.6 160.2L180.1 154.6L175.7 148.9L171.5 143.0L167.4 137.1L163.4 131.1L159.5 125.1L155.7 118.9L152.1 112.7L148.7 106.4L145.4 100.0L142.2 93.5M129.8 152.5L126.0 146.5L122.2 140.6L118.3 134.6L114.4 128.8L110.5 122.9L106.5 117.1L102.4 111.3L98.4 105.5M93.1 150.8L89.4 147.7L85.5 144.8L81.6 141.9L77.6 139.2L73.6 136.6L69.5 134.1L65.3 131.6L61.1 129.2L56.8 127.0L52.5 124.8M204.2 128.3L205.4 124.6L206.3 120.7L207.0 116.9L207.4 113.0L207.6 109.0L207.4 105.1L207.3 101.2L206.9 97.3L206.3 93.4L205.4 89.5L204.2 85.8L202.8 82.1M96.4 156.3L96.2 152.7L96.5 149.1L96.7 145.5L97.2 142.0L98.1 138.5L99.2 135.1L100.7 131.8L102.4 128.7M250.0 166.0L247.7 162.8L245.2 159.7L242.4 156.8L239.4 154.1L236.5 151.4L233.4 148.9L230.1 146.6L226.6 144.6L223.1 142.8L219.4 141.3M231.6 126.5L233.6 121.0L235.2 115.3L236.5 109.6L237.5 103.8L238.1 98.0L238.4 92.1L238.8 86.2L238.7 80.3L238.3 74.5" fill="none" stroke="#b4b4b4" stroke-opacity="0.4" stroke-width="0.45" stroke-linejoin="round"/></g>
<g clip-path="url(#clb)"><path d="M505.4 143.0L504.1 140.5L502.8 138.1L501.4 135.8L499.8 133.6L498.1 131.4L496.3 129.3L494.5 127.2L492.6 125.2L490.6 123.3L488.5 121.5L486.4 119.9L484.1 118.3M513.3 123.4L509.5 124.7L505.6 126.1L501.8 127.4L498.0 128.7L494.1 130.0L490.3 131.3L486.5 132.6L482.6 133.9L478.8 135.1L474.9 136.4L471.1 137.6L467.2 138.8M524.6 177.5L523.8 173.2L522.8 168.9L521.7 164.7L520.4 160.5L518.9 156.4L517.3 152.3L515.7 148.2L513.9 144.2L512.0 140.3L509.9 136.5L507.6 132.7L505.3 129.0M491.6 135.4L489.9 132.1L487.9 128.9L485.7 125.8L483.4 122.8L480.9 120.0L478.3 117.3L475.7 114.6L472.9 112.1L469.9 109.7L466.9 107.5L463.7 105.5L460.4 103.6M498.0 150.0L493.8 149.2L489.7 148.4L485.6 147.5L481.5 146.5L477.4 145.4L473.3 144.3L469.2 143.2L465.2 142.0L461.2 140.7L457.2 139.3L453.2 137.9L449.2 136.4M486.3 163.7L484.3 161.2L482.2 158.7L480.1 156.3L477.9 153.9L475.6 151.6L473.3 149.3L471.0 147.0L468.6 144.8L466.1 142.7L463.7 140.7L461.1 138.7L458.5 136.7M487.4 138.2L486.1 135.9L484.9 133.8L483.6 131.6L482.2 129.5L480.8 127.4L479.3 125.3L477.8 123.2L476.3 121.2L474.8 119.2L473.2 117.3L471.5 115.3L469.8 113.5M508.9 126.2L504.9 124.0L500.9 121.8L497.0 119.5L493.1 117.1L489.2 114.7L485.3 112.3L481.4 109.9L477.6 107.4L473.8 104.9L470.0 102.4L466.2 99.8L462.5 97.2M491.9 147.1L489.2 144.6L486.7 142.0L484.3 139.3L482.1 136.4L480.1 133.4L478.3 130.3L476.5 127.2L474.9 123.9L473.4 120.6L472.2 117.2L471.2 113.7L470.5 110.2M510.1 155.2L507.1 153.4L504.1 151.8L500.9 150.3L497.8 148.8L494.6 147.5L491.3 146.3L488.0 145.1L484.7 144.0L481.4 143.0L478.0 142.2L474.6 141.4L471.2 140.8M532.1 150.3L530.0 148.9L527.9 147.5L525.8 146.2L523.6 144.9L521.5 143.6L519.3 142.3L517.1 141.0L514.9 139.8L512.7 138.6L510.5 137.4L508.3 136.3L506.0 135.2M515.9 131.3L512.8 129.5L509.6 127.8L506.3 126.3L503.0 124.8L499.7 123.5L496.3 122.3L492.9 121.1L489.5 120.0L486.0 119.1L482.5 118.2L479.0 117.5L475.4 116.9M516.6 136.7L513.4 136.9L510.2 137.1L506.9 137.2L503.7 137.3L500.5 137.3L497.3 137.3L494.1 137.3L490.9 137.2L487.7 137.1L484.5 136.9L481.2 136.7L478.0 136.4M560.7 157.2L558.4 155.8L556.3 154.2L554.3 152.4L552.5 150.5L550.8 148.5L549.3 146.3L547.8 144.1L546.4 141.8L545.3 139.5L544.3 137.0L543.5 134.5L542.9 131.9M474.5 149.5L470.2 148.5L466.0 147.0L462.0 145.1L458.2 142.9L454.6 140.3L451.3 137.3L448.0 134.3L445.0 131.1L442.4 127.5L440.1 123.7L438.2 119.7L436.8 115.5M517.0 152.0L513.7 150.5L510.3 149.2L506.9 148.0L503.4 147.0L499.9 146.1L496.3 145.3L492.7 144.5L489.1 143.9L485.5 143.5L481.9 143.2L478.3 143.0L474.6 143.0M522.0 178.5L517.9 176.3L513.9 173.9L510.0 171.3L506.3 168.5L502.7 165.5L499.3 162.3L495.9 159.1L492.6 155.8L489.5 152.3L486.6 148.6L483.9 144.8L481.4 140.9M519.2 156.0L514.3 155.7L509.4 155.0L504.6 153.7L500.0 152.0L495.5 149.9L491.3 147.3L487.1 144.7L483.2 141.7L479.5 138.4L476.3 134.7L473.4 130.6L470.9 126.4M526.9 150.9L525.3 148.1L523.6 145.5L521.9 142.9L520.1 140.3L518.2 137.8L516.3 135.3L514.4 132.8L512.4 130.4L510.3 128.1L508.1 125.8L505.9 123.5L503.7 121.4M496.2 136.0L492.9 134.5L489.6 132.8L486.5 131.1L483.4 129.3L480.3 127.3L477.3 125.3L474.3 123.3L471.4 121.2L468.5 118.9L465.7 116.7L463.0 114.3L460.4 111.8M523.2 152.6L521.3 149.2L519.2 145.9L517.1 142.7L514.9 139.5L512.7 136.4L510.3 133.3L507.9 130.2L505.5 127.2L503.0 124.3L500.4 121.4L497.8 118.6L495.1 115.8M541.3 154.3L537.2 151.6L533.0 149.0L528.7 146.6L524.3 144.4L519.8 142.3L515.3 140.3L510.8 138.3L506.2 136.6L501.5 134.9L496.8 133.5L492.0 132.2L487.2 131.0M511.5 165.8L507.8 164.8L504.1 163.5L500.5 162.0L497.0 160.3L493.6 158.4L490.3 156.3L487.0 154.2L483.9 151.9L480.9 149.4L478.1 146.7L475.4 143.8L473.0 140.8M475.1 159.3L471.5 157.8L467.9 156.3L464.3 155.0L460.7 153.7L457.0 152.4L453.3 151.3L449.6 150.2L445.9 149.1L442.1 148.1L438.4 147.2L434.6 146.3L430.8 145.6M491.3 147.0L490.7 144.6L490.2 142.2L489.6 139.7L489.2 137.2L488.7 134.8L488.3 132.3L487.9 129.8L487.5 127.3L487.2 124.9L486.9 122.4L486.6 119.9L486.4 117.4M508.9 162.5L505.9 161.8L503.0 161.2L500.1 160.5L497.1 159.8L494.2 159.0L491.3 158.3L488.4 157.6L485.5 156.8L482.6 156.0L479.7 155.2L476.8 154.3L473.9 153.5M472.3 156.2L469.5 152.7L466.3 149.4L462.9 146.4L459.2 143.7L455.4 141.3L451.3 139.3L447.2 137.3L443.0 135.6L438.7 134.3L434.2 133.3L429.7 132.8L425.2 132.6M561.8 163.9L557.2 162.1L552.9 160.0L548.8 157.4L545.0 154.4L541.5 151.0L538.3 147.3L535.1 143.6L532.4 139.6L530.0 135.4L528.1 130.9L526.7 126.2L525.7 121.5M548.6 130.5L546.2 128.1L543.6 125.8L540.9 123.7L538.2 121.7L535.3 119.9L532.3 118.3L529.3 116.7L526.2 115.2L523.1 113.9L519.9 112.8L516.6 111.9L513.3 111.2M510.2 134.5L507.8 131.7L505.5 128.9L503.0 126.2L500.5 123.5L497.9 120.9L495.3 118.3L492.7 115.7L490.0 113.2L487.3 110.8L484.5 108.4L481.6 106.0L478.8 103.7M492.4 140.4L488.8 138.1L485.3 135.9L481.7 133.5L478.2 131.2L474.7 128.8L471.3 126.3L467.9 123.8L464.4 121.3L461.1 118.8L457.7 116.2L454.4 113.5M452.0 169.9L450.2 167.6L448.4 165.4L446.7 163.1L444.9 160.8L443.1 158.6L441.3 156.3L439.5 154.0L437.7 151.8L435.9 149.6L434.1 147.3L432.2 145.1L430.4 142.9M510.5 150.7L505.7 150.0L500.8 149.3L495.9 148.8L491.1 148.2L486.2 147.7L481.3 147.3L476.4 146.9L471.5 146.5L466.6 146.2L461.7 145.9L456.8 145.7L451.9 145.6M512.5 149.3L507.6 150.0L502.7 150.7L497.8 151.5L493.0 152.4L488.1 153.3L483.3 154.3L478.5 155.3L473.7 156.4L468.9 157.5L464.1 158.7L459.3 160.0L454.6 161.3M586.6 154.4L583.2 153.1L580.0 151.8L576.7 150.3L573.5 148.7L570.4 147.0L567.3 145.3L564.2 143.6L561.2 141.7L558.2 139.8L555.2 137.8L552.4 135.7L549.5 133.5M511.6 154.0L507.6 151.2L503.6 148.4L499.7 145.5L495.8 142.5L492.0 139.4L488.3 136.3L484.6 133.2L480.9 130.0L477.2 126.7L473.7 123.4L470.2 120.0L466.7 116.5M603.8 154.7L600.1 152.8L596.5 150.6L593.0 148.3L589.6 145.8L586.4 143.1L583.3 140.3L580.2 137.5L577.3 134.5L574.5 131.3L571.9 128.0L569.5 124.6L567.2 121.1M440.6 162.8L437.5 159.8L434.4 156.7L431.4 153.6L428.3 150.5L425.3 147.4L422.3 144.3L419.3 141.2L416.3 138.0L413.3 134.8L410.4 131.7M580.2 155.2L577.2 155.3L574.2 155.3L571.2 155.2L568.2 155.0L565.3 154.7L562.3 154.3L559.3 153.9L556.4 153.5L553.4 152.9L550.5 152.3L547.6 151.6L544.7 150.8M545.3 142.3L540.5 141.6L535.6 140.8L530.8 140.0L525.9 139.1L521.1 138.2L516.3 137.3L511.5 136.4L506.7 135.4L501.9 134.5L497.0 133.5L492.3 132.4L487.5 131.4M517.9 166.9L513.8 165.5L509.8 164.0L505.8 162.3L501.9 160.4L498.1 158.4L494.3 156.3L490.5 154.2L486.9 151.9L483.3 149.4L479.8 146.9L476.5 144.2L473.2 141.4M536.6 161.8L534.4 158.1L531.8 154.7L528.8 151.6L525.6 148.8L522.1 146.4L518.3 144.3L514.5 142.2L510.6 140.6L506.5 139.3L502.3 138.5L498.0 138.2L493.7 138.3M509.4 171.2L506.3 168.1L503.1 165.1L500.0 162.1L496.8 159.1L493.6 156.2L490.3 153.3L487.0 150.4L483.8 147.5L480.5 144.7L477.1 141.8L473.8 139.1L470.4 136.3M491.2 143.1L488.0 143.3L484.8 143.2L481.6 142.8L478.4 142.2L475.3 141.4L472.3 140.3L469.3 139.2L466.3 137.9L463.5 136.4L460.8 134.7L458.2 132.8L455.8 130.7M544.1 157.1L541.2 155.8L538.5 154.4L535.8 152.8L533.2 151.1L530.7 149.3L528.3 147.3L525.9 145.3L523.6 143.2L521.4 141.0L519.4 138.7L517.5 136.2L515.7 133.7M505.1 132.3L502.1 132.3L499.2 132.4L496.2 132.5L493.2 132.7L490.3 133.0L487.3 133.3L484.3 133.6L481.4 134.0L478.5 134.5L475.5 135.0L472.6 135.6L469.7 136.2M490.2 160.3L486.5 157.7L483.0 154.9L479.7 151.8L476.7 148.5L473.8 145.0L471.3 141.3L468.8 137.6L466.5 133.7L464.5 129.7L462.8 125.5L461.4 121.2L460.3 116.9M576.5 151.0L575.3 146.2L573.4 141.6L571.1 137.3L568.3 133.3L565.0 129.6L561.3 126.3L557.6 123.0L553.6 120.2L549.2 117.9L544.6 116.1L539.9 114.8L535.0 114.1M499.4 130.1L495.6 128.2L491.7 126.3L487.8 124.3L484.0 122.3L480.1 120.3L476.3 118.3L472.5 116.3L468.7 114.2L464.9 112.1L461.1 110.0L457.3 107.9M505.7 123.7L501.4 121.7L497.2 119.6L493.1 117.2L489.0 114.8L485.1 112.1L481.3 109.3L477.5 106.5L473.8 103.5L470.3 100.4L466.8 97.1M475.8 161.2L474.1 158.9L472.3 156.6L470.4 154.4L468.4 152.3L466.4 150.3L464.3 148.3L462.2 146.3L460.0 144.4L457.8 142.6L455.5 140.8L453.2 139.2L450.8 137.6M505.3 166.5L504.7 161.5L503.8 156.6L502.5 151.9L500.8 147.2L498.7 142.7L496.3 138.3L493.9 133.9L491.2 129.8L488.1 125.9L484.8 122.2L481.2 118.8L477.3 115.6M521.9 175.0L521.9 171.9L521.9 168.7L521.8 165.6L521.7 162.5L521.5 159.4L521.3 156.3L521.1 153.2L520.8 150.1L520.4 147.0L520.0 143.9L519.5 140.8L519.0 137.8M527.5 150.1L524.5 150.8L521.5 151.4L518.4 152.0L515.4 152.5L512.4 152.9L509.3 153.3L506.2 153.7L503.2 154.0L500.1 154.2L497.0 154.4L494.0 154.5L490.9 154.6M512.9 140.7L509.5 140.2L506.2 139.5L502.9 138.7L499.7 137.7L496.5 136.6L493.3 135.3L490.1 134.0L487.1 132.6L484.0 131.1L481.1 129.4L478.2 127.6L475.4 125.6M513.6 165.8L511.0 166.0L508.4 165.9L505.8 165.6L503.2 165.0L500.7 164.3L498.3 163.3L495.9 162.3L493.6 161.1L491.3 159.7L489.3 158.1L487.3 156.4L485.6 154.5M558.0 161.6L557.2 158.6L556.5 155.5L555.8 152.5L555.3 149.4L554.7 146.4L554.3 143.3L553.9 140.2L553.5 137.1L553.2 134.0L552.9 130.9L552.8 127.8L552.7 124.7M529.8 169.7L527.0 166.7L524.2 163.6L521.6 160.4L519.1 157.1L516.6 153.7L514.3 150.3L512.0 146.9L509.8 143.4L507.7 139.8L505.7 136.1L503.8 132.4L502.1 128.6M514.6 132.1L510.5 132.4L506.4 132.9L502.3 133.5L498.3 134.3L494.3 135.2L490.3 136.3L486.3 137.4L482.4 138.6L478.5 140.0L474.7 141.5L470.9 143.2L467.2 145.0M534.5 126.6L530.5 126.6L526.4 126.6L522.4 126.4L518.3 126.1L514.3 125.8L510.3 125.3L506.3 124.8L502.3 124.3L498.3 123.6L494.3 122.8L490.4 121.9L486.5 120.9M489.9 133.7L487.4 132.3L484.9 130.9L482.4 129.3L480.0 127.7L477.6 126.0L475.3 124.3L473.0 122.6L470.7 120.7L468.5 118.9L466.4 116.9L464.3 114.9L462.2 112.9M537.6 137.9L534.3 134.7L530.8 131.9L526.9 129.4L522.9 127.3L518.7 125.6L514.3 124.3L509.9 123.0L505.5 122.2L500.9 121.7L496.4 121.8L491.8 122.2L487.4 123.1M504.0 154.5L500.9 152.7L497.8 151.0L494.7 149.3L491.6 147.6L488.4 145.9L485.3 144.3L482.2 142.7L479.0 141.0L475.8 139.4L472.7 137.8L469.5 136.3L466.3 134.7M496.2 131.7L494.7 129.6L493.1 127.5L491.4 125.4L489.7 123.3L488.0 121.3L486.3 119.3L484.6 117.3L482.8 115.3L481.0 113.4L479.2 111.5L477.3 109.6L475.5 107.7M504.7 106.0L501.8 106.0L498.8 105.8L495.9 105.5L493.0 105.0L490.1 104.2L487.3 103.3L484.5 102.4L481.8 101.3L479.1 100.0L476.5 98.5L474.0 96.9L471.7 95.1" fill="none" stroke="#e6e6e6" stroke-opacity="0.55" stroke-width="0.55" stroke-linejoin="round"/></g>
<g clip-path="url(#clb)"><path d="M489.5 154.0L488.9 148.0L488.0 142.0L487.0 136.0L485.6 130.0L484.1 124.1L482.3 118.3L480.5 112.5L478.5 106.7L476.3 101.1L473.8 95.5L471.1 90.0M603.1 166.3L599.3 167.0L595.5 167.8L591.7 168.6L587.9 169.5L584.1 170.4L580.3 171.3L576.5 172.2L572.8 173.2L569.0 174.3L565.3 175.3L561.5 176.5L557.8 177.6M567.3 142.9L562.2 137.8L557.2 132.6L552.1 127.3L547.1 122.0L542.2 116.7L537.3 111.3L532.4 105.9L527.5 100.5L522.7 95.1L518.0 89.6L513.2 84.0L508.6 78.5M491.1 137.2L493.9 132.9L496.5 128.6L498.9 124.1L501.2 119.6L503.3 115.0L505.3 110.3L507.3 105.6L509.1 100.9L510.7 96.1L512.2 91.2L513.5 86.3L514.6 81.3M590.9 163.6L588.0 157.7L585.5 151.6L583.3 145.4L581.3 139.1L579.7 132.7L578.3 126.3L576.9 119.9L575.9 113.4L575.1 106.8L574.7 100.2L574.6 93.7L574.8 87.1M482.9 150.2L484.3 144.5L484.8 138.7L484.6 132.9L483.6 127.1L481.8 121.6L479.3 116.3L476.8 111.0L473.6 106.2L469.8 101.7L465.4 97.9M608.7 165.2L604.0 162.0L599.2 159.0L594.3 156.2L589.4 153.4L584.4 150.8L579.3 148.3L574.2 145.8L569.1 143.5L563.9 141.2L558.6 139.1L553.3 137.2L547.9 135.4M499.5 123.7L497.7 119.9L495.8 116.0L493.9 112.3L491.8 108.6L489.6 104.9L487.3 101.3L485.0 97.7L482.6 94.2L480.2 90.7L477.6 87.3L474.9 84.0M609.2 160.0L609.5 154.7L610.2 149.4L611.2 144.2L612.6 139.0M487.6 176.6L485.7 169.6L485.3 162.3L484.9 155.0L485.9 147.8L488.3 140.9L492.0 134.6L496.8 129.2L502.7 124.8M521.5 93.9L517.1 90.7L512.9 87.4L508.7 83.8L504.8 80.1M533.7 148.0L528.2 145.8L522.6 144.0L516.8 142.5L511.0 141.4L505.2 140.7L499.3 140.3L493.4 139.9L487.5 139.9L481.6 140.3L475.8 141.0L470.0 142.1L464.2 143.5M578.0 139.5L578.3 132.4L577.7 125.2L576.2 118.2L573.7 111.5L570.4 105.2L566.3 99.3L562.2 93.4L557.3 88.2L551.8 83.6L545.8 79.8M601.2 121.2L597.1 124.2L593.1 127.1L589.1 130.2L585.2 133.3L581.2 136.4M609.9 142.9L603.3 139.7L597.1 135.8L591.3 131.3L585.5 126.8L580.3 121.7L575.6 116.0L571.5 109.9L568.2 103.3L565.6 96.5M524.3 166.7L522.4 160.7L520.1 154.9L517.3 149.4L514.0 144.1L510.4 139.0L506.3 134.3L502.2 129.6L497.8 125.2L493.0 121.2L487.9 117.6L482.6 114.5L476.9 111.8M531.5 130.3L527.5 131.4L523.5 132.5L519.5 133.4L515.5 134.2L511.4 134.8L507.3 135.3L503.2 135.8L499.1 136.2L495.0 136.4L490.9 136.5L486.8 136.5L482.6 136.3M500.8 182.0L498.8 177.9L497.0 173.6L495.3 169.3L493.6 165.0L492.2 160.6L490.9 156.1L489.8 151.6L489.0 147.1L488.3 142.5M446.7 160.4L446.7 153.4L446.2 146.4L445.4 139.5L444.1 132.7L442.4 125.9L440.3 119.3M522.2 144.4L522.0 138.6L521.3 132.8L519.9 127.1L517.9 121.6L515.4 116.3L512.3 111.3L509.2 106.3L505.6 101.7L501.5 97.5L497.1 93.7L492.2 90.5L487.0 87.7M581.0 170.1L580.9 162.8L580.7 155.5L580.3 148.3L579.9 141.1L579.4 133.8L578.7 126.6L577.9 119.4L576.9 112.2L575.8 105.0M578.7 174.3L576.3 171.3L573.9 168.3L571.3 165.5L568.5 162.9L565.5 160.4L562.4 158.2L559.2 156.1M574.6 175.2L573.3 168.3L572.0 161.4L570.3 154.6L568.2 147.9L565.6 141.3L562.6 135.0L559.1 128.8M511.3 179.6L505.9 175.3L500.2 171.3L494.3 167.7L488.3 164.3L482.3 160.9L476.0 157.9L469.7 155.2L463.2 152.9L456.5 150.9L449.8 149.3M481.9 113.2L479.1 109.6L476.3 106.0L473.4 102.5L470.4 99.0L467.4 95.6M535.0 179.8L531.9 178.5L528.9 177.1L525.9 175.6L522.9 174.0L520.1 172.2L517.3 170.3L514.5 168.4L511.8 166.4L509.2 164.3L506.7 162.1L504.2 159.8L501.9 157.4M540.1 170.1L533.7 167.0L527.5 163.6L521.4 159.9L515.5 156.0L509.8 151.8L504.3 147.3L498.8 142.8L493.5 138.1L488.4 133.2L483.5 128.0L478.9 122.6L474.6 117.0M506.2 180.2L509.4 174.5L512.7 168.8L516.3 163.3L519.9 157.8L523.7 152.4L527.7 147.2L531.9 142.2L536.4 137.3L541.0 132.7M502.3 115.7L497.9 118.8L493.4 121.7L488.8 124.4L484.1 126.9L479.2 129.2L474.3 131.3L469.4 133.4L464.4 135.3L459.3 137.0L454.1 138.4L448.9 139.7L443.7 140.7M443.4 152.5L446.3 146.7L448.7 140.7L450.6 134.5L452.0 128.2L452.9 121.8L453.3 115.3" fill="none" stroke="#b4b4b4" stroke-opacity="0.4" stroke-width="0.45" stroke-linejoin="round"/></g>
<g clip-path="url(#cla)"><path d="M173.5 22.2L169.7 25.9L165.2 30.6L157.2 33.8L153.4 31.5L150.0 34.3L147.7 35.7L145.1 38.4L144.0 42.5L141.7 43.9L138.7 47.5L135.6 49.3L135.2 50.6L138.7 52.8L140.9 56.8L142.8 61.2L142.8 66.0L141.7 67.8L139.4 68.2L136.0 69.5L133.3 70.4L131.1 70.4L131.8 66.9L132.2 63.9L131.1 61.2L133.0 58.6L131.1 56.4L128.4 56.0L126.1 55.1L125.4 53.3L127.3 50.6L126.1 47.9L123.5 46.6L119.7 47.0L115.5 48.8L112.9 51.3L111.8 51.5L112.9 49.3L114.4 47.0L115.5 44.3L114.0 42.1L111.0 42.5L108.3 44.8L105.7 46.6L103.4 49.7L100.8 50.2L98.5 51.5L98.1 53.7L100.0 55.1L103.0 56.8L103.8 58.6L106.5 58.6L108.7 56.8L111.8 56.8L114.8 57.3L117.1 58.2L115.9 59.9L112.9 60.8L110.2 62.1L108.0 64.3L105.3 66.9L104.2 69.5L108.3 71.2L110.2 75.9L110.6 78.5L112.9 80.6L114.4 82.3L112.1 83.6L114.4 85.7L112.1 86.9L110.2 88.2L112.9 89.4L114.8 89.9L113.3 92.8L114.4 93.6L112.5 96.5L111.0 97.7L109.5 100.2L107.6 103.5L105.7 105.6L105.7 107.6L103.4 109.6L101.9 111.7L99.6 112.5L98.1 114.9L95.1 117.3L92.8 118.5L90.2 119.3L87.9 119.7L85.6 120.9L83.7 120.1L82.6 121.3L81.1 122.1L78.0 123.3L75.8 123.7L73.1 124.5L71.2 125.3L70.8 127.3L70.1 128.9L69.0 128.5L68.2 126.1L68.6 124.1L66.3 124.1L63.6 123.7L61.8 124.1L59.5 125.3L57.2 126.9L56.1 128.9L54.2 130.5L53.0 133.3L53.4 135.7L55.7 138.0L56.5 140.4L58.7 143.1L61.8 144.7L62.9 145.9L64.8 148.6L65.9 151.7L66.7 155.3L66.3 159.1L66.3 162.2L65.2 164.2L62.5 165.7L59.5 167.3L57.2 167.6L56.5 169.6L54.9 171.1L52.3 173.0L50.8 174.6L49.6 173.8L49.6 170.7L50.4 169.2L48.5 167.6L45.5 167.3L43.6 165.7L42.4 163.0L40.5 160.7L37.9 158.7L34.9 158.7L34.9 156.0L33.3 155.6L31.4 156.0M31.4 159.5L31.1 161.5L29.6 165.3L28.4 168.4L28.8 172.3L31.1 173.0L32.6 175.4L33.0 179.6L34.9 181.1L36.4 181.1L39.4 183.8L41.3 185.3L43.2 186.9L44.3 189.9L44.3 193.0L44.7 196.4L46.2 198.3L47.7 201.4L47.0 202.5L44.7 202.5L42.4 200.6L40.2 199.1L36.8 196.8L35.2 194.9L34.1 192.6L33.0 190.3L32.6 186.9L32.2 184.9L31.4 183.0M31.4 198.7L33.7 199.9L36.8 200.6L40.2 202.2L42.4 204.4L44.7 204.8L45.8 206.7L45.5 208.3M66.3 207.5L65.9 204.1L67.8 200.2L70.5 201.0L74.3 200.2L75.4 197.6L80.7 195.3L84.5 189.9L87.5 188.4L89.8 187.6L91.7 184.9L93.6 183.0L95.1 180.7L97.0 181.9L98.5 183.4L100.8 185.3L104.6 187.2L101.5 188.8L100.8 190.7L98.5 191.5L99.3 194.1L98.1 196.0L99.6 198.7L99.3 200.6L103.0 203.3L101.5 204.1L99.3 204.4L97.7 207.1L97.4 208.6M106.5 208.3L107.6 206.0L110.6 202.5L113.3 203.3L116.7 203.7L119.3 204.1L122.4 204.1L124.6 202.5L126.9 201.4L125.8 203.3L123.5 206.0L120.1 206.4L117.8 205.6L114.0 206.0L111.4 205.6L109.1 207.1L108.0 208.3M148.5 72.9L151.2 74.2L151.5 75.9L152.3 78.5L150.8 82.7L149.3 84.4L147.7 85.2L145.8 84.0L146.6 81.5L145.8 80.2L147.4 78.1L145.5 77.6L144.0 76.4L143.6 75.1L146.2 74.2L148.5 72.9ZM154.2 74.6L155.3 76.8L156.5 77.6L157.6 75.1L159.5 74.6L161.0 75.5L162.9 73.4L162.5 71.6L160.6 70.8L158.3 71.2L156.1 72.1L154.2 74.6ZM148.5 72.5L150.4 70.8L151.5 69.5L154.2 67.3L155.3 66.0L158.0 66.0L161.4 65.6L164.8 65.2L167.4 65.2L167.8 64.3L168.2 62.5L170.5 59.9L170.8 58.2L172.7 57.3L172.4 59.9L173.5 60.4L176.5 59.0L178.4 56.0L180.7 53.7L182.2 51.1L183.0 47.9L182.6 45.7L183.0 43.0L184.5 40.7L187.5 40.7L188.3 39.8L188.7 43.4L190.2 46.6L190.5 48.8L189.4 51.1L188.7 53.3L186.8 54.2L186.4 56.8L186.8 59.9L185.2 62.5L186.4 65.2L184.5 67.3L182.6 68.6L182.2 66.9L181.5 67.8L179.9 67.3L178.4 69.9L176.9 69.9L173.5 69.9L171.6 70.4L171.2 71.2L170.8 72.5L169.0 71.6L167.1 74.6L165.5 73.8L164.4 71.2L162.5 69.5L159.9 70.4L157.6 70.8L154.6 71.2L153.4 72.9L151.5 72.5L148.5 72.5ZM186.4 38.4L184.1 38.9L183.0 36.1L182.2 34.3L184.5 31.5L187.9 31.1L188.7 28.7L189.4 26.4L189.8 23.1L190.5 21.7L193.6 24.5L197.0 26.9L200.4 28.3L203.0 26.4L202.7 29.7L204.9 30.6L203.0 31.5L199.3 32.7L195.5 37.1L192.4 35.7L188.7 34.3L186.4 34.8L187.5 37.5L186.4 38.4ZM113.6 82.7L111.8 81.9L110.2 81.2L108.3 80.6L106.8 80.0L104.2 80.2L101.5 81.9L99.3 84.0L96.6 86.5L94.0 88.6L92.4 90.3L89.8 89.9L86.8 87.3L83.7 89.0L81.5 91.5L80.3 91.9L78.4 89.4L75.0 87.8M39.8 138.4L41.3 138.0L43.6 136.8L46.6 140.4L49.3 144.7L52.3 148.6L53.4 152.5L53.8 155.3L53.8 159.5L51.1 163.0L50.0 163.4L51.5 165.7L53.8 168.0L55.3 169.2M45.1 156.8L46.6 157.6L48.5 159.1L48.1 159.9L46.2 158.7L44.7 157.6L45.1 156.8" fill="none" stroke="#000" stroke-width="1.1" stroke-linejoin="round"/><path d="M70.1 129.7L72.0 130.1L73.1 131.7L71.6 134.1L69.7 136.1L67.8 137.2L65.2 136.5L64.0 134.5L64.4 132.1L66.3 130.5L67.8 130.1L70.1 129.7ZM112.9 108.8L114.4 110.0L114.0 112.5L112.9 116.1L111.8 118.9L110.4 122.5L109.5 120.1L108.0 118.1L107.6 115.7L108.3 113.3L109.9 111.3L111.4 109.6L112.9 108.8ZM109.5 136.1L110.0 136.0L110.6 135.6L111.2 135.8L111.8 135.7L112.4 135.5L113.0 135.5L113.6 136.1L114.3 135.7L114.9 135.8L115.5 136.1L115.6 136.7L115.4 137.4L115.6 138.0L115.6 138.6L115.9 139.3L115.9 139.9L115.7 140.6L115.9 141.2L115.9 141.9L116.0 142.5L116.5 143.0L116.5 143.7L116.7 144.3L116.3 144.9L115.7 145.0L115.2 145.3L114.8 145.8L114.4 146.2L113.9 146.5L113.3 146.7L113.5 147.3L113.2 147.8L113.1 148.4L113.3 149.0L113.3 149.6L113.3 150.2L113.0 150.8L113.3 151.4L113.7 151.8L114.3 152.0L114.7 152.5L115.1 152.9L115.5 153.3L116.2 153.0L116.9 153.1L117.5 153.0L118.2 152.9L118.7 153.2L119.3 153.6L119.6 154.1L120.1 154.5L120.7 154.8L121.3 154.8L122.0 154.9L122.4 155.3L122.3 156.0L122.5 156.6L123.1 156.9L123.1 157.6L122.7 158.0L122.6 158.8L122.0 159.1L121.4 158.7L120.9 158.3L120.3 158.0L119.7 157.6L119.2 157.3L118.7 157.1L118.1 156.8L117.5 156.8L117.1 156.4L116.6 156.0L116.2 155.6L115.7 155.1L115.2 154.9L114.6 154.4L113.9 154.4L113.3 154.1L112.6 153.9L111.9 154.0L111.3 154.2L110.6 154.5L110.4 153.7L109.8 153.2L109.5 152.5L109.8 151.9L110.4 151.6L110.6 151.0L109.9 150.7L109.1 150.6L108.4 150.3L107.6 150.2L107.3 149.5L107.2 148.8L107.2 148.1L106.8 147.5L106.6 146.9L106.8 146.3L106.6 145.7L106.5 145.1L107.1 144.8L107.7 145.0L108.3 144.7L108.4 144.0L108.4 143.3L108.6 142.7L108.7 142.0L109.0 141.4L108.8 140.8L108.5 140.2L108.7 139.6L109.0 139.1L108.9 138.4L109.0 137.8L109.1 137.2L109.4 136.7L109.5 136.1ZM108.3 155.6L108.9 155.4L109.5 155.8L110.0 155.9L110.6 155.9L111.2 156.1L111.8 156.0L111.9 156.7L112.0 157.4L112.4 157.9L112.6 158.6L112.9 159.1L112.6 159.7L112.0 160.1L111.8 160.7L111.2 160.4L110.7 160.0L110.2 159.5L110.0 158.9L109.6 158.4L109.2 158.0L108.7 157.6L108.4 157.0L108.6 156.3L108.3 155.6ZM123.5 159.5L124.2 159.5L124.8 159.3L125.5 159.1L126.1 159.1L126.8 159.5L127.3 160.0L127.7 160.7L127.7 161.4L127.9 162.0L128.2 162.6L128.2 163.3L128.5 163.9L128.8 164.6L128.2 165.0L127.4 164.8L126.8 165.0L126.1 165.3L125.6 164.9L125.5 164.2L125.0 163.8L124.4 163.4L123.9 162.9L123.5 162.2L123.2 161.6L123.7 160.9L123.4 160.2L123.5 159.5ZM123.9 163.8L124.5 164.2L125.1 164.3L125.8 164.2L126.2 164.9L126.5 165.7L126.8 166.4L126.8 167.1L126.8 167.7L126.9 168.4L126.1 168.5L125.4 168.8L125.0 168.2L124.8 167.4L124.3 166.9L124.1 166.3L124.0 165.7L124.1 165.0L124.2 164.4L123.9 163.8ZM114.4 161.8L115.0 161.9L115.4 162.5L116.0 162.6L116.6 162.6L117.1 163.0L117.8 163.2L118.4 163.6L119.0 164.2L118.6 164.7L118.5 165.4L117.8 165.7L117.7 166.3L117.4 166.9L116.9 167.2L116.2 167.4L115.5 167.3L115.0 166.7L114.9 165.9L114.4 165.3L114.6 164.8L114.6 164.2L114.3 163.6L114.1 163.0L114.2 162.4L114.4 161.8ZM118.6 165.7L119.1 166.2L119.9 166.2L120.5 166.5L120.3 167.1L120.2 167.8L120.0 168.4L120.0 169.1L119.6 169.7L119.7 170.3L119.2 170.8L119.3 171.6L118.8 172.1L118.6 172.7L118.0 172.1L117.3 171.9L116.7 171.5L116.6 170.7L116.9 170.0L116.7 169.2L117.1 168.7L117.5 168.1L117.8 167.6L118.0 166.9L118.1 166.2L118.6 165.7ZM122.0 164.6L122.0 165.2L122.3 165.7L122.8 166.2L122.7 166.9L122.4 167.5L122.0 168.1L122.0 168.8L121.6 169.4L121.2 170.0L120.6 170.5L120.1 171.1L120.4 170.6L120.4 170.0L120.4 169.4L120.5 168.8L120.8 168.3L120.8 167.6L121.0 167.0L121.4 166.4L121.6 165.8L121.7 165.2L122.0 164.6ZM121.6 169.2L122.3 169.2L122.9 169.1L123.5 168.8L123.9 169.5L124.6 170.0L124.0 170.2L123.5 170.7L122.9 170.5L122.2 170.6L121.6 170.3L121.4 169.8L121.6 169.2ZM119.3 158.0L119.8 158.4L120.3 158.8L120.7 159.4L121.1 159.9L121.6 160.3L121.1 160.8L120.7 161.2L120.1 161.5L119.8 160.9L119.5 160.4L119.1 159.9L118.6 159.5L118.8 158.7L119.3 158.0ZM115.2 181.1L115.4 180.5L115.9 180.2L116.3 179.7L116.7 179.2L117.4 178.8L118.2 178.8L118.8 178.6L119.2 178.0L120.0 178.1L120.5 177.7L120.6 177.0L120.8 176.3L121.0 175.6L121.2 175.0L121.8 175.5L122.4 175.9L123.1 176.1L123.5 175.7L123.9 175.2L124.4 174.9L124.7 174.4L125.0 173.9L125.4 173.4L126.0 173.4L126.6 173.0L127.3 173.0L127.5 172.4L127.6 171.8L127.7 171.2L128.1 170.6L128.0 170.0L128.6 170.2L128.9 170.7L129.5 171.0L129.7 171.7L130.3 171.9L130.2 172.6L130.8 173.1L130.9 173.7L130.9 174.4L131.1 175.0L131.4 175.5L131.4 176.1L131.5 176.7L131.7 177.3L131.9 177.8L132.1 178.4L131.9 179.0L132.2 179.6L131.8 180.1L131.5 180.8L131.5 181.5L130.8 181.9L130.7 182.6L130.3 181.9L130.3 181.1L129.8 180.6L129.5 179.9L128.8 179.6L128.5 180.2L128.5 180.9L128.0 181.4L128.3 182.2L128.1 182.8L127.7 183.4L127.5 184.1L127.9 184.8L127.7 185.5L128.0 186.1L127.5 185.5L126.9 184.9L126.3 184.9L125.8 184.5L125.2 184.5L124.6 184.6L124.1 184.1L123.7 183.6L123.4 183.0L122.7 182.6L122.7 182.0L122.7 181.4L122.4 180.8L122.4 180.2L122.4 179.6L121.6 179.4L121.0 179.0L120.5 178.4L119.9 178.5L119.5 179.0L118.9 179.1L118.3 179.3L117.8 179.6L117.3 179.9L116.8 180.3L116.1 180.3L115.7 180.7L115.2 181.1ZM96.6 175.4L96.9 174.8L97.6 174.7L98.1 174.3L98.5 173.8L99.0 173.4L99.5 172.9L99.9 172.5L100.4 172.0L100.8 171.5L101.0 170.9L101.6 170.6L101.9 170.1L102.2 169.6L102.7 169.2L103.3 168.8L103.8 168.3L104.2 167.6L104.3 167.0L104.8 166.5L105.2 166.0L105.3 165.3L105.7 164.5L106.1 163.8L106.0 164.4L105.8 164.9L105.2 165.3L105.0 165.9L104.9 166.5L104.5 167.0L104.5 167.7L103.8 168.0L103.6 168.7L103.3 169.3L103.2 169.9L102.7 170.3L102.4 170.9L101.8 171.3L101.4 171.8L100.9 172.1L100.5 172.6L100.0 173.0L99.6 173.5L99.1 173.8L98.8 174.3L98.0 174.4L97.7 175.0L97.3 175.4L96.6 175.4ZM136.0 199.9L137.1 199.1L137.9 201.4L137.1 203.3L139.8 202.2L140.2 203.7L138.3 205.6L140.9 206.4L139.0 207.1L137.1 206.4L136.0 204.1L135.6 201.4L136.0 199.9ZM138.7 198.0L139.8 197.6L140.2 199.1L138.7 199.5L138.7 198.0ZM142.1 97.1L144.0 95.7M136.2 105.6L137.5 103.9L138.7 102.5M126.5 111.3L127.9 110.9M121.2 112.9L123.5 112.3" fill="none" stroke="#111" stroke-width="0.95" stroke-linejoin="round"/><path d="M135.8 103.9a1.33 1.33 0 1 0 2.65 0a1.33 1.33 0 1 0 -2.65 0M137.3 103.1a0.95 0.95 0 1 0 1.89 0a0.95 0.95 0 1 0 -1.89 0M141.7 96.5a1.14 1.14 0 1 0 2.27 0a1.14 1.14 0 1 0 -2.27 0M122.2 112.5a0.95 0.95 0 1 0 1.89 0a0.95 0.95 0 1 0 -1.89 0M120.8 112.9a0.76 0.76 0 1 0 1.52 0a0.76 0.76 0 1 0 -1.52 0M146.0 87.8a0.95 0.95 0 1 0 1.89 0a0.95 0.95 0 1 0 -1.89 0M147.7 87.3a0.76 0.76 0 1 0 1.52 0a0.76 0.76 0 1 0 -1.52 0M126.5 110.9a0.76 0.76 0 1 0 1.52 0a0.76 0.76 0 1 0 -1.52 0M190.5 101.5a0.76 0.76 0 1 0 1.52 0a0.76 0.76 0 1 0 -1.52 0M180.1 76.4a0.57 0.57 0 1 0 1.14 0a0.57 0.57 0 1 0 -1.14 0M180.5 72.1a0.57 0.57 0 1 0 1.14 0a0.57 0.57 0 1 0 -1.14 0M200.3 155.6a0.83 0.83 0 1 0 1.67 0a0.83 0.83 0 1 0 -1.67 0M203.8 149.0a0.76 0.76 0 1 0 1.52 0a0.76 0.76 0 1 0 -1.52 0M203.6 152.9a0.57 0.57 0 1 0 1.14 0a0.57 0.57 0 1 0 -1.14 0M161.4 179.2a0.76 0.76 0 1 0 1.52 0a0.76 0.76 0 1 0 -1.52 0M175.1 171.1a0.68 0.68 0 1 0 1.36 0a0.68 0.68 0 1 0 -1.36 0M226.9 179.2a0.76 0.76 0 1 0 1.52 0a0.76 0.76 0 1 0 -1.52 0M251.0 181.1a0.95 0.95 0 1 0 1.89 0a0.95 0.95 0 1 0 -1.89 0M269.3 187.2a0.76 0.76 0 1 0 1.52 0a0.76 0.76 0 1 0 -1.52 0M287.3 174.2a0.57 0.57 0 1 0 1.14 0a0.57 0.57 0 1 0 -1.14 0M294.1 180.3a0.57 0.57 0 1 0 1.14 0a0.57 0.57 0 1 0 -1.14 0M300.6 180.3a0.57 0.57 0 1 0 1.14 0a0.57 0.57 0 1 0 -1.14 0M83.3 121.3a0.76 0.76 0 1 0 1.52 0a0.76 0.76 0 1 0 -1.52 0M96.0 116.5a0.57 0.57 0 1 0 1.14 0a0.57 0.57 0 1 0 -1.14 0M105.1 115.7a0.57 0.57 0 1 0 1.14 0a0.57 0.57 0 1 0 -1.14 0M55.9 174.2a0.57 0.57 0 1 0 1.14 0a0.57 0.57 0 1 0 -1.14 0M45.8 168.4a0.76 0.76 0 1 0 1.52 0a0.76 0.76 0 1 0 -1.52 0M61.9 192.2a0.57 0.57 0 1 0 1.14 0a0.57 0.57 0 1 0 -1.14 0M48.3 203.7a0.57 0.57 0 1 0 1.14 0a0.57 0.57 0 1 0 -1.14 0M47.4 206.0a0.76 0.76 0 1 0 1.52 0a0.76 0.76 0 1 0 -1.52 0M49.1 207.1a0.57 0.57 0 1 0 1.14 0a0.57 0.57 0 1 0 -1.14 0M132.4 191.5a0.57 0.57 0 1 0 1.14 0a0.57 0.57 0 1 0 -1.14 0M110.4 184.6a0.57 0.57 0 1 0 1.14 0a0.57 0.57 0 1 0 -1.14 0M121.4 161.1a0.57 0.57 0 1 0 1.14 0a0.57 0.57 0 1 0 -1.14 0M114.2 159.5a0.57 0.57 0 1 0 1.14 0a0.57 0.57 0 1 0 -1.14 0M122.9 154.5a0.57 0.57 0 1 0 1.14 0a0.57 0.57 0 1 0 -1.14 0M106.6 161.5a0.57 0.57 0 1 0 1.14 0a0.57 0.57 0 1 0 -1.14 0M127.5 169.2a0.57 0.57 0 1 0 1.14 0a0.57 0.57 0 1 0 -1.14 0M123.3 172.7a0.57 0.57 0 1 0 1.14 0a0.57 0.57 0 1 0 -1.14 0M111.9 132.9a0.57 0.57 0 1 0 1.14 0a0.57 0.57 0 1 0 -1.14 0M130.7 75.1a0.76 0.76 0 1 0 1.52 0a0.76 0.76 0 1 0 -1.52 0M140.4 69.5a0.57 0.57 0 1 0 1.14 0a0.57 0.57 0 1 0 -1.14 0M156.6 63.0a0.57 0.57 0 1 0 1.14 0a0.57 0.57 0 1 0 -1.14 0M176.2 55.1a0.76 0.76 0 1 0 1.52 0a0.76 0.76 0 1 0 -1.52 0M140.4 78.1a0.57 0.57 0 1 0 1.14 0a0.57 0.57 0 1 0 -1.14 0M163.1 70.8a0.57 0.57 0 1 0 1.14 0a0.57 0.57 0 1 0 -1.14 0M115.4 88.6a0.57 0.57 0 1 0 1.14 0a0.57 0.57 0 1 0 -1.14 0M114.0 150.8a0.57 0.57 0 1 0 1.14 0a0.57 0.57 0 1 0 -1.14 0M122.5 154.7a0.83 0.83 0 1 0 1.67 0a0.83 0.83 0 1 0 -1.67 0M114.0 156.0a0.64 0.64 0 1 0 1.29 0a0.64 0.64 0 1 0 -1.29 0M114.5 160.1a0.49 0.49 0 1 0 0.98 0a0.49 0.49 0 1 0 -0.98 0M127.9 168.4a0.57 0.57 0 1 0 1.14 0a0.57 0.57 0 1 0 -1.14 0M129.6 169.8a0.57 0.57 0 1 0 1.14 0a0.57 0.57 0 1 0 -1.14 0M114.1 182.5a0.68 0.68 0 1 0 1.36 0a0.68 0.68 0 1 0 -1.36 0M110.4 184.6a0.57 0.57 0 1 0 1.14 0a0.57 0.57 0 1 0 -1.14 0M106.6 187.6a0.57 0.57 0 1 0 1.14 0a0.57 0.57 0 1 0 -1.14 0M106.5 161.1a0.76 0.76 0 1 0 1.52 0a0.76 0.76 0 1 0 -1.52 0M148.3 86.9a0.57 0.57 0 1 0 1.14 0a0.57 0.57 0 1 0 -1.14 0M117.7 162.6a0.49 0.49 0 1 0 0.98 0a0.49 0.49 0 1 0 -0.98 0M122.2 159.1a0.49 0.49 0 1 0 0.98 0a0.49 0.49 0 1 0 -0.98 0" fill="none" stroke="#111" stroke-width="0.7"/><path d="M91.8 93.2a1.21 1.70 0 1 0 2.42 0a1.21 1.70 0 1 0 -2.42 0M77.9 93.2a1.33 0.95 0 1 0 2.65 0a1.33 0.95 0 1 0 -2.65 0M106.9 84.4a1.06 1.06 0 1 0 2.12 0a1.06 1.06 0 1 0 -2.12 0M100.4 75.9a1.14 0.95 0 1 0 2.27 0a1.14 0.95 0 1 0 -2.27 0M97.0 82.7a0.76 0.45 0 1 0 1.52 0a0.76 0.45 0 1 0 -1.52 0M94.1 70.4a0.57 0.57 0 1 0 1.14 0a0.57 0.57 0 1 0 -1.14 0M88.6 81.5a0.38 0.38 0 1 0 0.76 0a0.38 0.38 0 1 0 -0.76 0" fill="#111"/><path d="M181.6 78.9h1.2M294.5 169.2h1.2M147.5 110.9h1.2M149.4 106.8h1.2M112.7 122.1h1.2M112.3 119.3h1.2M94.1 127.3h1.2M77.4 143.9h1.2M74.8 145.1h1.2M85.0 167.6h1.2M89.9 170.0h1.2M80.9 174.6h1.2M91.8 166.9h1.2M45.6 196.4h1.2M47.9 198.0h1.2M52.8 196.8h1.2M54.3 195.3h1.2M60.0 192.2h1.2M64.6 198.0h1.2M54.7 204.1h1.2M127.4 198.3h1.2M127.1 193.4h1.2M131.6 192.6h1.2M107.0 184.6h1.2M104.3 188.0h1.2M109.6 186.5h1.2M114.2 182.3h1.2M113.8 169.2h1.2M106.2 164.6h1.2M129.3 169.2h1.2M120.6 172.3h1.2M113.8 128.5h1.2M114.9 134.1h1.2M113.8 134.5h1.2M132.7 57.3h1.2M141.8 71.2h1.2M146.4 57.7h1.2M143.7 77.6h1.2M144.5 79.8h1.2M146.0 85.7h1.2M155.5 71.2h1.2M129.0 52.4h1.2M113.4 55.5h1.2M114.9 90.3h1.2M115.3 86.9h1.2M106.6 105.6h1.2M111.2 107.2h1.2M105.1 108.0h1.2M118.7 157.8h1.2M120.6 159.5h1.2M116.3 159.9h1.2M115.2 159.3h1.2M123.7 163.2h1.2M116.5 166.9h1.2M120.1 172.3h1.2M124.5 172.4h1.2M106.8 162.0h1.2M110.4 165.9h1.2M107.0 154.5h1.2M112.1 132.9h1.2M113.8 134.5h1.2M114.0 128.3h1.2M143.4 90.3h1.2M142.6 91.5h1.2M141.5 93.6h1.2M140.5 98.6h1.2M139.2 100.4h1.2M138.4 101.7h1.2M132.4 104.5h1.2M118.0 112.3h1.2M232.0 182.6h1.2M286.5 164.2h1.2M292.2 175.0h1.2M294.5 152.1h1.2M119.1 163.8h1.2M121.8 165.3h1.2M121.6 167.8h1.2M124.0 161.8h1.2M114.9 161.5h1.2M116.8 160.9h1.2M119.5 160.1h1.2M118.0 156.0h1.2M115.7 155.6h1.2M112.3 158.0h1.2M109.6 158.4h1.2M118.9 168.4h1.2M117.4 170.3h1.2M124.8 169.6h1.2M126.7 171.1h1.2M127.4 167.1h1.2M125.4 166.3h1.2M118.4 172.9h1.2M111.2 163.4h1.2M108.9 165.3h1.2M107.7 168.4h1.2M106.2 166.9h1.2M113.0 168.8h1.2M125.9 161.1h1.2M128.2 162.2h1.2" stroke="#333" stroke-width="1.2"/><path d="M38.3 102.8h1.0M41.5 116.2h1.0M42.1 115.3h1.5M46.0 144.9h1.5M57.4 95.3h1.0M65.5 156.3h1.0M98.5 94.7h1.5M52.7 91.4h1.5M53.5 163.0h1.5M55.6 76.0h1.2M60.6 151.2h1.0M41.1 133.7h1.2M134.2 68.2h1.2M71.6 34.6h1.2M36.1 78.0h1.5M98.7 44.4h1.2M71.4 126.3h1.2M99.5 110.5h1.0M113.8 81.3h1.5M76.8 77.9h1.0M103.2 104.9h1.0M60.5 120.3h1.2M40.9 111.6h1.5M64.1 157.3h1.2M135.3 30.4h1.0M41.2 155.3h1.5M58.9 106.2h1.5M52.9 136.3h1.0M98.0 31.2h1.5M132.3 31.7h1.5M137.1 60.1h1.5M39.4 147.0h1.0M44.4 88.5h1.0M31.5 155.3h1.0M39.7 147.1h1.2M48.9 140.7h1.2M102.2 107.8h1.0M131.1 24.3h1.2M48.4 65.0h1.5M62.5 52.1h1.0M112.5 37.9h1.5M66.5 81.9h1.0M57.6 55.0h1.0M126.1 53.8h1.5M89.3 68.0h1.0M54.2 87.8h1.2M84.0 34.0h1.2M57.3 144.3h1.0M71.1 106.5h1.5M41.4 79.2h1.2M125.5 28.0h1.2M85.8 66.0h1.0M46.4 155.3h1.2M128.5 26.5h1.5M43.5 65.0h1.0M82.4 45.0h1.0M34.7 146.4h1.5M59.7 90.7h1.2M95.4 51.2h1.0M85.3 91.2h1.5M80.8 37.3h1.5M46.8 155.2h1.5M33.6 112.9h1.0M102.9 60.7h1.0M51.7 107.9h1.5M88.1 60.7h1.5M38.1 149.5h1.0M97.4 63.3h1.0M83.5 86.7h1.5M64.0 102.7h1.2" stroke="#111" stroke-width="1.1" stroke-opacity="0.85"/></g>
<g clip-path="url(#clb)"><path d="M521.4 21.4L517.5 25.1L512.9 29.8L504.9 33.1L501.0 30.8L497.6 33.5L495.2 34.9L492.6 37.7L491.4 41.8L489.1 43.2L486.0 46.8L483.0 48.6L482.6 49.9L486.0 52.2L488.3 56.2L490.3 60.6L490.3 65.4L489.1 67.2L486.8 67.6L483.3 68.9L480.6 69.8L478.3 69.8L479.1 66.3L479.5 63.2L478.3 60.6L480.3 58.0L478.3 55.7L475.7 55.3L473.4 54.4L472.6 52.6L474.5 49.9L473.4 47.2L470.7 45.9L466.8 46.3L462.6 48.1L459.9 50.6L458.8 50.8L459.9 48.6L461.4 46.3L462.6 43.6L461.1 41.4L458.0 41.8L455.3 44.1L452.6 45.9L450.3 49.0L447.6 49.5L445.3 50.8L444.9 53.1L446.8 54.4L449.9 56.2L450.7 58.0L453.4 58.0L455.7 56.2L458.8 56.2L461.8 56.6L464.1 57.5L463.0 59.3L459.9 60.2L457.2 61.5L454.9 63.7L452.2 66.3L451.1 68.9L455.3 70.6L457.2 75.4L457.6 77.9L459.9 80.1L461.4 81.8L459.1 83.0L461.4 85.1L459.1 86.4L457.2 87.7L459.9 88.9L461.8 89.3L460.3 92.3L461.4 93.1L459.5 96.0L458.0 97.3L456.4 99.8L454.5 103.1L452.6 105.1L452.6 107.2L450.3 109.2L448.8 111.2L446.5 112.1L444.9 114.5L441.8 116.9L439.5 118.1L436.9 118.9L434.5 119.4L432.2 120.6L430.3 119.8L429.2 121.0L427.6 121.8L424.6 123.0L422.3 123.4L419.6 124.2L417.6 125.0L417.3 127.0L416.5 128.6L415.3 128.2L414.6 125.8L415.0 123.8L412.6 123.8L410.0 123.4L408.0 123.8L405.7 125.0L403.4 126.6L402.3 128.6L400.4 130.2L399.2 133.0L399.6 135.4L401.9 137.7L402.7 140.1L405.0 142.9L408.0 144.4L409.2 145.6L411.1 148.4L412.3 151.5L413.0 155.0L412.6 158.9L412.6 162.0L411.5 164.0L408.8 165.5L405.7 167.1L403.4 167.5L402.7 169.4L401.1 171.0L398.4 172.9L396.9 174.4L395.7 173.7L395.7 170.6L396.5 169.0L394.6 167.5L391.5 167.1L389.6 165.5L388.4 162.8L386.5 160.5L383.8 158.5L380.8 158.5L380.8 155.8L379.2 155.4L377.3 155.8M377.3 159.3L376.9 161.3L375.4 165.1L374.2 168.2L374.6 172.1L376.9 172.9L378.5 175.2L378.8 179.5L380.8 181.0L382.3 181.0L385.4 183.7L387.3 185.2L389.2 186.8L390.4 189.8L390.4 192.9L390.7 196.4L392.3 198.3L393.8 201.4L393.1 202.5L390.7 202.5L388.4 200.6L386.1 199.1L382.7 196.8L381.1 194.8L380.0 192.5L378.8 190.2L378.5 186.8L378.1 184.8L377.3 182.9M377.3 198.7L379.6 199.8L382.7 200.6L386.1 202.1L388.4 204.4L390.7 204.8L391.9 206.7L391.5 208.3M412.6 207.5L412.3 204.0L414.2 200.2L416.9 201.0L420.7 200.2L421.9 197.5L427.2 195.2L431.1 189.8L434.2 188.3L436.5 187.5L438.4 184.8L440.3 182.9L441.8 180.6L443.8 181.8L445.3 183.3L447.6 185.2L451.5 187.2L448.4 188.7L447.6 190.6L445.3 191.4L446.1 194.1L444.9 196.0L446.5 198.7L446.1 200.6L449.9 203.3L448.4 204.0L446.1 204.4L444.5 207.1L444.2 208.7M453.4 208.3L454.5 206.0L457.6 202.5L460.3 203.3L463.7 203.7L466.4 204.0L469.5 204.0L471.8 202.5L474.1 201.4L473.0 203.3L470.7 206.0L467.2 206.3L464.9 205.6L461.1 206.0L458.4 205.6L456.1 207.1L454.9 208.3M496.0 72.3L498.7 73.6L499.1 75.4L499.9 77.9L498.3 82.2L496.8 83.9L495.2 84.7L493.3 83.4L494.1 80.9L493.3 79.6L494.9 77.5L492.9 77.1L491.4 75.8L491.0 74.5L493.7 73.6L496.0 72.3ZM501.8 74.1L502.9 76.2L504.1 77.1L505.2 74.5L507.2 74.1L508.7 74.9L510.6 72.8L510.2 71.1L508.3 70.2L506.0 70.6L503.7 71.5L501.8 74.1ZM496.0 71.9L497.9 70.2L499.1 68.9L501.8 66.7L502.9 65.4L505.6 65.4L509.1 65.0L512.5 64.5L515.2 64.5L515.6 63.7L516.0 61.9L518.3 59.3L518.7 57.5L520.6 56.6L520.2 59.3L521.4 59.7L524.4 58.4L526.4 55.3L528.7 53.1L530.2 50.4L531.0 47.2L530.6 45.0L531.0 42.3L532.5 40.0L535.6 40.0L536.4 39.1L536.7 42.7L538.3 45.9L538.7 48.1L537.5 50.4L536.7 52.6L534.8 53.5L534.4 56.2L534.8 59.3L533.3 61.9L534.4 64.5L532.5 66.7L530.6 68.0L530.2 66.3L529.4 67.2L527.9 66.7L526.4 69.3L524.8 69.3L521.4 69.3L519.5 69.8L519.1 70.6L518.7 71.9L516.8 71.1L514.8 74.1L513.3 73.2L512.2 70.6L510.2 68.9L507.5 69.8L505.2 70.2L502.2 70.6L501.0 72.3L499.1 71.9L496.0 71.9ZM534.4 37.7L532.1 38.2L531.0 35.4L530.2 33.5L532.5 30.8L536.0 30.3L536.7 28.0L537.5 25.6L537.9 22.3L538.7 20.9L541.7 23.7L545.2 26.1L548.7 27.5L551.3 25.6L551.0 28.9L553.3 29.8L551.3 30.8L547.5 31.9L543.7 36.3L540.6 34.9L536.7 33.5L534.4 34.0L535.6 36.8L534.4 37.7ZM460.7 82.2L458.8 81.3L457.2 80.7L455.3 80.1L453.8 79.4L451.1 79.6L448.4 81.3L446.1 83.4L443.4 86.0L440.7 88.1L439.2 89.8L436.5 89.3L433.4 86.8L430.3 88.5L428.0 91.0L426.9 91.4L424.9 88.9L421.5 87.2M385.8 138.1L387.3 137.7L389.6 136.5L392.7 140.1L395.4 144.4L398.4 148.4L399.6 152.3L400.0 155.0L400.0 159.3L397.3 162.8L396.1 163.2L397.7 165.5L400.0 167.9L401.5 169.0M391.1 156.6L392.7 157.4L394.6 158.9L394.2 159.7L392.3 158.5L390.7 157.4L391.1 156.6" fill="none" stroke="#000" stroke-width="1.1" stroke-linejoin="round"/><path d="M416.5 129.4L418.4 129.8L419.6 131.4L418.0 133.8L416.1 135.7L414.2 136.9L411.5 136.1L410.3 134.2L410.7 131.8L412.6 130.2L414.2 129.8L416.5 129.4ZM459.9 108.4L461.4 109.6L461.1 112.1L459.9 115.7L458.8 118.5L457.4 122.2L456.4 119.8L454.9 117.7L454.5 115.3L455.3 112.9L456.8 110.8L458.4 109.2L459.9 108.4ZM456.4 135.7L457.0 135.6L457.6 135.3L458.2 135.5L458.8 135.4L459.4 135.2L460.1 135.2L460.6 135.8L461.3 135.4L462.0 135.5L462.6 135.7L462.7 136.4L462.5 137.1L462.6 137.7L462.7 138.3L462.9 139.0L463.0 139.6L462.8 140.3L463.0 140.9L463.0 141.6L463.1 142.2L463.5 142.8L463.5 143.4L463.7 144.0L463.4 144.6L462.7 144.7L462.3 145.1L461.9 145.5L461.4 145.9L460.9 146.3L460.3 146.4L460.5 147.0L460.2 147.6L460.1 148.2L460.3 148.8L460.3 149.4L460.3 149.9L460.0 150.5L460.3 151.1L460.7 151.6L461.3 151.8L461.7 152.2L462.1 152.7L462.6 153.1L463.2 152.7L463.9 152.8L464.6 152.8L465.3 152.7L465.8 153.0L466.4 153.3L466.7 153.8L467.2 154.2L467.8 154.5L468.5 154.5L469.1 154.6L469.6 155.1L469.4 155.8L469.6 156.4L470.3 156.7L470.3 157.4L469.8 157.8L469.7 158.6L469.1 158.9L468.6 158.5L468.0 158.1L467.4 157.8L466.8 157.4L466.3 157.1L465.8 156.9L465.2 156.6L464.6 156.5L464.1 156.2L463.7 155.8L463.2 155.3L462.8 154.9L462.2 154.6L461.6 154.2L460.9 154.2L460.3 153.9L459.6 153.7L458.9 153.8L458.2 153.9L457.6 154.2L457.4 153.5L456.8 153.0L456.4 152.3L456.7 151.7L457.3 151.3L457.6 150.7L456.8 150.4L456.1 150.3L455.3 150.1L454.5 149.9L454.3 149.3L454.1 148.6L454.1 147.8L453.8 147.2L453.5 146.6L453.7 146.0L453.5 145.4L453.4 144.8L454.0 144.6L454.7 144.8L455.3 144.4L455.4 143.8L455.3 143.0L455.6 142.4L455.7 141.7L455.9 141.1L455.8 140.5L455.4 139.9L455.7 139.3L456.0 138.8L455.8 138.1L456.0 137.5L456.1 136.9L456.3 136.3L456.4 135.7ZM455.3 155.4L455.9 155.2L456.4 155.5L457.0 155.7L457.6 155.7L458.2 155.8L458.8 155.8L458.9 156.5L459.0 157.2L459.4 157.7L459.6 158.3L459.9 158.9L459.6 159.5L459.0 159.9L458.8 160.5L458.2 160.2L457.7 159.8L457.2 159.3L457.0 158.7L456.6 158.2L456.2 157.8L455.7 157.4L455.3 156.8L455.6 156.0L455.3 155.4ZM470.7 159.3L471.3 159.3L472.0 159.1L472.7 158.9L473.4 158.9L474.0 159.3L474.5 159.8L474.9 160.5L474.9 161.2L475.2 161.8L475.5 162.4L475.4 163.1L475.7 163.8L476.0 164.4L475.4 164.8L474.6 164.6L474.0 164.8L473.4 165.1L472.8 164.7L472.7 164.0L472.2 163.6L471.6 163.2L471.1 162.7L470.7 162.0L470.4 161.4L470.8 160.7L470.5 160.0L470.7 159.3ZM471.0 163.6L471.6 164.0L472.3 164.1L473.0 164.0L473.4 164.7L473.7 165.5L474.0 166.2L474.0 166.9L474.0 167.6L474.1 168.2L473.3 168.3L472.6 168.6L472.2 168.0L472.0 167.3L471.4 166.7L471.3 166.1L471.1 165.5L471.3 164.8L471.3 164.2L471.0 163.6ZM461.4 161.7L462.1 161.7L462.4 162.3L463.0 162.4L463.7 162.4L464.1 162.8L464.9 163.0L465.5 163.4L466.1 164.0L465.7 164.5L465.6 165.2L464.9 165.5L464.8 166.1L464.5 166.7L463.9 167.1L463.3 167.2L462.6 167.1L462.1 166.5L462.0 165.7L461.4 165.1L461.6 164.6L461.7 164.0L461.3 163.4L461.2 162.8L461.2 162.2L461.4 161.7ZM465.7 165.5L466.2 166.0L467.0 166.0L467.6 166.3L467.5 167.0L467.3 167.6L467.1 168.2L467.1 168.9L466.7 169.5L466.8 170.2L466.3 170.7L466.4 171.4L465.9 171.9L465.7 172.5L465.1 171.9L464.4 171.8L463.7 171.3L463.6 170.6L463.9 169.8L463.7 169.0L464.2 168.5L464.6 168.0L464.9 167.4L465.1 166.7L465.2 166.0L465.7 165.5ZM469.1 164.4L469.2 165.0L469.5 165.6L469.9 166.0L469.9 166.7L469.6 167.3L469.2 167.9L469.1 168.6L468.8 169.2L468.4 169.8L467.7 170.3L467.2 171.0L467.5 170.4L467.5 169.8L467.5 169.2L467.6 168.6L468.0 168.1L468.0 167.5L468.2 166.8L468.5 166.3L468.8 165.7L468.9 165.0L469.1 164.4ZM468.7 169.0L469.4 169.0L470.1 169.0L470.7 168.6L471.1 169.4L471.8 169.8L471.2 170.1L470.7 170.6L470.0 170.3L469.3 170.5L468.7 170.2L468.5 169.6L468.7 169.0ZM466.4 157.8L466.9 158.2L467.4 158.6L467.8 159.2L468.2 159.7L468.7 160.1L468.3 160.5L467.8 161.0L467.2 161.3L466.9 160.7L466.6 160.2L466.2 159.7L465.7 159.3L465.9 158.5L466.4 157.8ZM462.2 181.0L462.5 180.4L463.0 180.0L463.3 179.5L463.7 179.1L464.5 178.6L465.3 178.7L465.9 178.5L466.3 177.9L467.1 178.0L467.6 177.5L467.8 176.8L467.9 176.1L468.2 175.5L468.4 174.8L468.9 175.4L469.5 175.8L470.3 176.0L470.7 175.5L471.0 175.1L471.6 174.8L471.8 174.2L472.2 173.7L472.6 173.3L473.2 173.3L473.8 172.8L474.5 172.9L474.7 172.3L474.9 171.7L474.9 171.0L475.3 170.5L475.3 169.8L475.8 170.1L476.2 170.6L476.8 170.8L477.0 171.5L477.6 171.7L477.5 172.4L478.0 172.9L478.1 173.6L478.1 174.2L478.3 174.8L478.7 175.4L478.6 176.0L478.8 176.6L479.0 177.1L479.2 177.7L479.3 178.3L479.2 178.9L479.5 179.5L479.1 180.0L478.8 180.6L478.7 181.4L478.1 181.8L478.0 182.5L477.6 181.8L477.6 181.0L477.1 180.5L476.7 179.8L476.0 179.5L475.7 180.1L475.7 180.8L475.3 181.3L475.5 182.1L475.3 182.7L474.9 183.3L474.8 184.0L475.1 184.7L475.0 185.4L475.3 186.0L474.7 185.5L474.1 184.8L473.5 184.8L473.0 184.4L472.4 184.4L471.8 184.5L471.3 184.0L470.9 183.4L470.5 182.9L469.9 182.5L469.9 181.9L469.8 181.3L469.6 180.7L469.6 180.1L469.5 179.5L468.8 179.2L468.1 178.9L467.6 178.3L467.0 178.4L466.6 178.9L466.0 179.0L465.4 179.2L464.9 179.5L464.3 179.7L463.9 180.2L463.2 180.2L462.7 180.6L462.2 181.0ZM443.4 175.2L443.7 174.6L444.4 174.6L444.9 174.2L445.3 173.7L445.9 173.3L446.3 172.8L446.8 172.4L447.2 171.9L447.6 171.3L447.9 170.8L448.4 170.4L448.7 169.9L449.1 169.4L449.5 169.0L450.2 168.6L450.7 168.2L451.1 167.5L451.2 166.8L451.7 166.4L452.1 165.8L452.2 165.1L452.6 164.4L453.0 163.6L452.9 164.2L452.7 164.8L452.1 165.1L451.9 165.7L451.8 166.3L451.4 166.8L451.3 167.5L450.7 167.9L450.5 168.5L450.2 169.1L450.1 169.8L449.5 170.2L449.2 170.8L448.7 171.1L448.2 171.6L447.7 171.9L447.3 172.5L446.8 172.9L446.4 173.4L445.9 173.6L445.6 174.2L444.8 174.2L444.5 174.8L444.0 175.3L443.4 175.2ZM483.3 199.8L484.5 199.1L485.3 201.4L484.5 203.3L487.2 202.1L487.6 203.7L485.6 205.6L488.3 206.3L486.4 207.1L484.5 206.3L483.3 204.0L483.0 201.4L483.3 199.8ZM486.0 197.9L487.2 197.5L487.6 199.1L486.0 199.4L486.0 197.9ZM489.5 96.7L491.4 95.2M483.5 105.1L484.9 103.5L486.0 102.0M473.7 110.8L475.1 110.4M468.4 112.5L470.7 111.9" fill="none" stroke="#111" stroke-width="0.95" stroke-linejoin="round"/><path d="M483.1 103.5a1.34 1.34 0 1 0 2.69 0a1.34 1.34 0 1 0 -2.69 0M484.7 102.6a0.96 0.96 0 1 0 1.92 0a0.96 0.96 0 1 0 -1.92 0M489.1 96.0a1.15 1.15 0 1 0 2.31 0a1.15 1.15 0 1 0 -2.31 0M469.3 112.1a0.96 0.96 0 1 0 1.92 0a0.96 0.96 0 1 0 -1.92 0M468.0 112.5a0.77 0.77 0 1 0 1.54 0a0.77 0.77 0 1 0 -1.54 0M493.5 87.2a0.96 0.96 0 1 0 1.92 0a0.96 0.96 0 1 0 -1.92 0M495.2 86.8a0.77 0.77 0 1 0 1.54 0a0.77 0.77 0 1 0 -1.54 0M473.7 110.4a0.77 0.77 0 1 0 1.54 0a0.77 0.77 0 1 0 -1.54 0M538.7 101.0a0.77 0.77 0 1 0 1.54 0a0.77 0.77 0 1 0 -1.54 0M528.1 75.8a0.58 0.58 0 1 0 1.15 0a0.58 0.58 0 1 0 -1.15 0M528.5 71.5a0.58 0.58 0 1 0 1.15 0a0.58 0.58 0 1 0 -1.15 0M548.6 155.4a0.85 0.85 0 1 0 1.69 0a0.85 0.85 0 1 0 -1.69 0M552.1 148.8a0.77 0.77 0 1 0 1.54 0a0.77 0.77 0 1 0 -1.54 0M551.9 152.7a0.58 0.58 0 1 0 1.15 0a0.58 0.58 0 1 0 -1.15 0M509.1 179.1a0.77 0.77 0 1 0 1.54 0a0.77 0.77 0 1 0 -1.54 0M523.0 171.0a0.69 0.69 0 1 0 1.38 0a0.69 0.69 0 1 0 -1.38 0M575.5 179.1a0.77 0.77 0 1 0 1.54 0a0.77 0.77 0 1 0 -1.54 0M599.9 181.0a0.96 0.96 0 1 0 1.92 0a0.96 0.96 0 1 0 -1.92 0M618.6 187.2a0.77 0.77 0 1 0 1.54 0a0.77 0.77 0 1 0 -1.54 0M636.8 174.1a0.58 0.58 0 1 0 1.15 0a0.58 0.58 0 1 0 -1.15 0M643.7 180.2a0.58 0.58 0 1 0 1.15 0a0.58 0.58 0 1 0 -1.15 0M650.3 180.2a0.58 0.58 0 1 0 1.15 0a0.58 0.58 0 1 0 -1.15 0M429.9 121.0a0.77 0.77 0 1 0 1.54 0a0.77 0.77 0 1 0 -1.54 0M442.8 116.1a0.58 0.58 0 1 0 1.15 0a0.58 0.58 0 1 0 -1.15 0M452.0 115.3a0.58 0.58 0 1 0 1.15 0a0.58 0.58 0 1 0 -1.15 0M402.1 174.1a0.58 0.58 0 1 0 1.15 0a0.58 0.58 0 1 0 -1.15 0M391.9 168.2a0.77 0.77 0 1 0 1.54 0a0.77 0.77 0 1 0 -1.54 0M408.2 192.2a0.58 0.58 0 1 0 1.15 0a0.58 0.58 0 1 0 -1.15 0M394.4 203.7a0.58 0.58 0 1 0 1.15 0a0.58 0.58 0 1 0 -1.15 0M393.4 206.0a0.77 0.77 0 1 0 1.54 0a0.77 0.77 0 1 0 -1.54 0M395.2 207.1a0.58 0.58 0 1 0 1.15 0a0.58 0.58 0 1 0 -1.15 0M479.7 191.4a0.58 0.58 0 1 0 1.15 0a0.58 0.58 0 1 0 -1.15 0M457.4 184.5a0.58 0.58 0 1 0 1.15 0a0.58 0.58 0 1 0 -1.15 0M468.5 160.9a0.58 0.58 0 1 0 1.15 0a0.58 0.58 0 1 0 -1.15 0M461.2 159.3a0.58 0.58 0 1 0 1.15 0a0.58 0.58 0 1 0 -1.15 0M470.1 154.2a0.58 0.58 0 1 0 1.15 0a0.58 0.58 0 1 0 -1.15 0M453.6 161.3a0.58 0.58 0 1 0 1.15 0a0.58 0.58 0 1 0 -1.15 0M474.7 169.0a0.58 0.58 0 1 0 1.15 0a0.58 0.58 0 1 0 -1.15 0M470.5 172.5a0.58 0.58 0 1 0 1.15 0a0.58 0.58 0 1 0 -1.15 0M458.9 132.6a0.58 0.58 0 1 0 1.15 0a0.58 0.58 0 1 0 -1.15 0M478.0 74.5a0.77 0.77 0 1 0 1.54 0a0.77 0.77 0 1 0 -1.54 0M487.8 68.9a0.58 0.58 0 1 0 1.15 0a0.58 0.58 0 1 0 -1.15 0M504.3 62.4a0.58 0.58 0 1 0 1.15 0a0.58 0.58 0 1 0 -1.15 0M524.1 54.4a0.77 0.77 0 1 0 1.54 0a0.77 0.77 0 1 0 -1.54 0M487.8 77.5a0.58 0.58 0 1 0 1.15 0a0.58 0.58 0 1 0 -1.15 0M510.8 70.2a0.58 0.58 0 1 0 1.15 0a0.58 0.58 0 1 0 -1.15 0M462.4 88.1a0.58 0.58 0 1 0 1.15 0a0.58 0.58 0 1 0 -1.15 0M461.1 150.5a0.58 0.58 0 1 0 1.15 0a0.58 0.58 0 1 0 -1.15 0M469.6 154.4a0.85 0.85 0 1 0 1.69 0a0.85 0.85 0 1 0 -1.69 0M461.0 155.8a0.65 0.65 0 1 0 1.31 0a0.65 0.65 0 1 0 -1.31 0M461.5 159.9a0.50 0.50 0 1 0 1.00 0a0.50 0.50 0 1 0 -1.00 0M475.1 168.2a0.58 0.58 0 1 0 1.15 0a0.58 0.58 0 1 0 -1.15 0M476.8 169.6a0.58 0.58 0 1 0 1.15 0a0.58 0.58 0 1 0 -1.15 0M461.1 182.3a0.69 0.69 0 1 0 1.38 0a0.69 0.69 0 1 0 -1.38 0M457.4 184.5a0.58 0.58 0 1 0 1.15 0a0.58 0.58 0 1 0 -1.15 0M453.6 187.5a0.58 0.58 0 1 0 1.15 0a0.58 0.58 0 1 0 -1.15 0M453.4 160.9a0.77 0.77 0 1 0 1.54 0a0.77 0.77 0 1 0 -1.54 0M495.8 86.4a0.58 0.58 0 1 0 1.15 0a0.58 0.58 0 1 0 -1.15 0M464.8 162.4a0.50 0.50 0 1 0 1.00 0a0.50 0.50 0 1 0 -1.00 0M469.4 158.9a0.50 0.50 0 1 0 1.00 0a0.50 0.50 0 1 0 -1.00 0" fill="none" stroke="#111" stroke-width="0.7"/><path d="M438.5 92.7a1.23 1.73 0 1 0 2.46 0a1.23 1.73 0 1 0 -2.46 0M424.4 92.7a1.34 0.96 0 1 0 2.69 0a1.34 0.96 0 1 0 -2.69 0M453.8 83.9a1.08 1.08 0 1 0 2.15 0a1.08 1.08 0 1 0 -2.15 0M447.2 75.4a1.15 0.96 0 1 0 2.31 0a1.15 0.96 0 1 0 -2.31 0M443.8 82.2a0.77 0.46 0 1 0 1.54 0a0.77 0.46 0 1 0 -1.54 0M440.9 69.8a0.58 0.58 0 1 0 1.15 0a0.58 0.58 0 1 0 -1.15 0M435.3 80.9a0.38 0.38 0 1 0 0.77 0a0.38 0.38 0 1 0 -0.77 0" fill="#111"/><path d="M529.6 78.3h1.2M644.1 169.0h1.2M495.0 110.4h1.2M497.0 106.3h1.2M459.7 121.8h1.2M459.3 118.9h1.2M440.9 127.0h1.2M424.0 143.7h1.2M421.3 144.8h1.2M431.6 167.5h1.2M436.6 169.8h1.2M427.4 174.4h1.2M438.6 166.7h1.2M391.7 196.4h1.2M394.0 197.9h1.2M399.0 196.8h1.2M400.5 195.2h1.2M406.3 192.2h1.2M410.9 197.9h1.2M400.9 204.0h1.2M474.7 198.3h1.2M474.3 193.3h1.2M478.9 192.5h1.2M453.9 184.5h1.2M451.2 187.9h1.2M456.6 186.4h1.2M461.2 182.2h1.2M460.8 169.0h1.2M453.2 164.4h1.2M476.6 169.0h1.2M467.8 172.1h1.2M460.8 128.2h1.2M462.0 133.8h1.2M460.8 134.2h1.2M480.0 56.6h1.2M489.3 70.6h1.2M493.9 57.1h1.2M491.2 77.1h1.2M492.0 79.2h1.2M493.5 85.1h1.2M503.1 70.6h1.2M476.2 51.7h1.2M460.5 54.9h1.2M462.0 89.8h1.2M462.4 86.4h1.2M453.5 105.1h1.2M458.2 106.8h1.2M452.0 107.6h1.2M465.8 157.6h1.2M467.8 159.3h1.2M463.3 159.7h1.2M462.3 159.1h1.2M470.8 163.0h1.2M463.5 166.7h1.2M467.2 172.1h1.2M471.7 172.2h1.2M453.7 161.8h1.2M457.4 165.7h1.2M453.9 154.2h1.2M459.1 132.6h1.2M460.8 134.2h1.2M461.0 128.0h1.2M490.8 89.8h1.2M490.0 91.0h1.2M488.9 93.1h1.2M487.9 98.1h1.2M486.6 100.0h1.2M485.8 101.2h1.2M479.7 104.1h1.2M465.1 111.9h1.2M580.7 182.5h1.2M636.0 164.0h1.2M641.8 174.8h1.2M644.1 151.9h1.2M466.2 163.6h1.2M468.9 165.1h1.2M468.7 167.7h1.2M471.2 161.7h1.2M462.0 161.3h1.2M463.9 160.7h1.2M466.6 159.9h1.2M465.1 155.8h1.2M462.8 155.4h1.2M459.3 157.8h1.2M456.6 158.1h1.2M466.0 168.2h1.2M464.5 170.2h1.2M472.0 169.4h1.2M473.9 171.0h1.2M474.7 166.9h1.2M472.6 166.1h1.2M465.5 172.7h1.2M458.2 163.2h1.2M455.8 165.1h1.2M454.7 168.2h1.2M453.2 166.7h1.2M460.1 168.6h1.2M473.1 160.9h1.2M475.4 162.0h1.2" stroke="#333" stroke-width="1.2"/><path d="M384.2 102.3h1.0M387.5 115.8h1.0M388.1 114.9h1.5M392.0 144.6h1.5M403.6 94.8h1.0M411.8 156.1h1.0M445.3 94.2h1.5M398.8 90.9h1.5M399.7 162.8h1.5M401.8 75.5h1.2M406.9 150.9h1.0M387.0 133.3h1.2M481.5 67.6h1.2M418.0 33.9h1.2M382.0 77.4h1.5M445.5 43.7h1.2M417.8 126.0h1.2M446.4 110.1h1.0M460.8 80.7h1.5M423.2 77.3h1.0M450.1 104.4h1.0M406.8 119.9h1.2M386.9 111.2h1.5M410.4 157.1h1.2M482.6 29.7h1.0M387.2 155.0h1.5M405.1 105.8h1.5M399.0 136.0h1.0M444.8 30.5h1.5M479.6 31.0h1.5M484.4 59.5h1.5M385.3 146.7h1.0M390.4 88.0h1.0M377.3 155.0h1.0M385.7 146.8h1.2" stroke="#111" stroke-width="1.1" stroke-opacity="0.85"/></g>
<g clip-path="url(#clc)"><path d="M172.8 251.3L169.1 255.0L164.6 259.5L156.8 262.7L153.0 260.4L149.7 263.1L147.4 264.5L144.8 267.2L143.7 271.2L141.4 272.5L138.5 276.0L135.5 277.8L135.1 279.1L138.5 281.3L140.7 285.1L142.6 289.4L142.6 294.1L141.4 295.8L139.2 296.2L135.8 297.5L133.2 298.3L131.0 298.3L131.7 295.0L132.1 292.0L131.0 289.4L132.9 286.9L131.0 284.7L128.4 284.3L126.1 283.4L125.4 281.7L127.2 279.1L126.1 276.5L123.5 275.1L119.8 275.6L115.7 277.3L113.0 279.7L111.9 280.0L113.0 277.8L114.5 275.6L115.7 272.9L114.2 270.7L111.2 271.2L108.6 273.4L105.9 275.1L103.7 278.2L101.1 278.6L98.8 280.0L98.5 282.1L100.3 283.4L103.3 285.1L104.1 286.9L106.7 286.9L108.9 285.1L111.9 285.1L114.9 285.6L117.2 286.4L116.0 288.2L113.0 289.0L110.4 290.3L108.2 292.4L105.6 295.0L104.5 297.5L108.6 299.2L110.4 303.8L110.8 306.3L113.0 308.4L114.5 310.0L112.3 311.3L114.5 313.3L112.3 314.5L110.4 315.8L113.0 317.0L114.9 317.4L113.4 320.3L114.5 321.1L112.7 323.9L111.2 325.1L109.7 327.5L107.8 330.7L105.9 332.7L105.9 334.7L103.7 336.7L102.2 338.7L100.0 339.5L98.5 341.9L95.5 344.2L93.2 345.4L90.6 346.2L88.4 346.6L86.1 347.8L84.3 347.0L83.1 348.1L81.7 348.9L78.7 350.1L76.4 350.5L73.8 351.3L71.9 352.1L71.6 354.0L70.8 355.6L69.7 355.2L68.9 352.8L69.3 350.9L67.1 350.9L64.5 350.5L62.6 350.9L60.4 352.1L58.1 353.6L57.0 355.6L55.1 357.1L54.0 359.8L54.4 362.1L56.6 364.5L57.4 366.8L59.6 369.4L62.6 371.0L63.7 372.1L65.6 374.8L66.7 377.8L67.5 381.3L67.1 385.1L67.1 388.1L66.0 390.0L63.3 391.5L60.4 393.0L58.1 393.4L57.4 395.3L55.9 396.8L53.3 398.6L51.8 400.1L50.6 399.4L50.6 396.4L51.4 394.9L49.5 393.4L46.5 393.0L44.7 391.5L43.5 388.8L41.7 386.6L39.1 384.7L36.1 384.7L36.1 382.0L34.6 381.7L32.7 382.0M32.7 385.4L32.3 387.3L30.8 391.1L29.7 394.1L30.1 397.9L32.3 398.6L33.8 400.9L34.2 405.0L36.1 406.5L37.6 406.5L40.5 409.1L42.4 410.6L44.3 412.1L45.4 415.1L45.4 418.1L45.8 421.5L47.3 423.3L48.8 426.3L48.0 427.5L45.8 427.5L43.5 425.6L41.3 424.1L37.9 421.9L36.4 420.0L35.3 417.7L34.2 415.5L33.8 412.1L33.4 410.3L32.7 408.4M32.7 423.7L34.9 424.8L37.9 425.6L41.3 427.1L43.5 429.3L45.8 429.7L46.9 431.6L46.5 433.0M67.1 432.3L66.7 428.9L68.6 425.2L71.2 426.0L74.9 425.2L76.0 422.6L81.3 420.4L85.0 415.1L88.0 413.6L90.2 412.9L92.1 410.3L94.0 408.4L95.5 406.2L97.4 407.3L98.8 408.8L101.1 410.6L104.8 412.5L101.8 414.0L101.1 415.9L98.8 416.6L99.6 419.2L98.5 421.1L100.0 423.7L99.6 425.6L103.3 428.2L101.8 428.9L99.6 429.3L98.1 431.9L97.7 433.4M106.7 433.0L107.8 430.8L110.8 427.5L113.4 428.2L116.8 428.6L119.4 428.9L122.4 428.9L124.6 427.5L126.9 426.3L125.8 428.2L123.5 430.8L120.1 431.2L117.9 430.4L114.2 430.8L111.6 430.4L109.3 431.9L108.2 433.0M148.2 300.9L150.8 302.1L151.2 303.8L151.9 306.3L150.4 310.4L148.9 312.1L147.4 312.9L145.6 311.7L146.3 309.2L145.6 307.9L147.1 305.9L145.2 305.5L143.7 304.2L143.3 303.0L145.9 302.1L148.2 300.9ZM153.8 302.5L154.9 304.6L156.0 305.5L157.1 303.0L159.0 302.5L160.5 303.4L162.4 301.3L162.0 299.6L160.1 298.8L157.9 299.2L155.6 300.0L153.8 302.5ZM148.2 300.4L150.0 298.8L151.2 297.5L153.8 295.4L154.9 294.1L157.5 294.1L160.9 293.7L164.2 293.3L166.9 293.3L167.2 292.4L167.6 290.7L169.8 288.2L170.2 286.4L172.1 285.6L171.7 288.2L172.8 288.6L175.8 287.3L177.7 284.3L179.9 282.1L181.4 279.5L182.2 276.5L181.8 274.3L182.2 271.6L183.7 269.4L186.7 269.4L187.4 268.5L187.8 272.1L189.3 275.1L189.7 277.3L188.5 279.5L187.8 281.7L185.9 282.6L185.5 285.1L185.9 288.2L184.4 290.7L185.5 293.3L183.7 295.4L181.8 296.7L181.4 295.0L180.7 295.8L179.2 295.4L177.7 297.9L176.2 297.9L172.8 297.9L171.0 298.3L170.6 299.2L170.2 300.4L168.4 299.6L166.5 302.5L165.0 301.7L163.9 299.2L162.0 297.5L159.4 298.3L157.1 298.8L154.2 299.2L153.0 300.9L151.2 300.4L148.2 300.4ZM185.5 267.2L183.3 267.6L182.2 264.9L181.4 263.1L183.7 260.4L187.0 260.0L187.8 257.7L188.5 255.4L188.9 252.2L189.7 250.8L192.6 253.6L196.0 255.9L199.4 257.2L202.0 255.4L201.6 258.6L203.9 259.5L202.0 260.4L198.2 261.6L194.5 265.8L191.5 264.5L187.8 263.1L185.5 263.6L186.7 266.3L185.5 267.2ZM113.8 310.4L111.9 309.6L110.4 309.0L108.6 308.4L107.1 307.7L104.5 307.9L101.8 309.6L99.6 311.7L97.0 314.1L94.4 316.2L92.9 317.8L90.2 317.4L87.3 314.9L84.3 316.6L82.0 319.0L80.9 319.4L79.0 317.0L75.7 315.4M40.9 364.8L42.4 364.5L44.7 363.3L47.6 366.8L50.3 371.0L53.3 374.8L54.4 378.6L54.7 381.3L54.7 385.4L52.1 388.8L51.0 389.2L52.5 391.5L54.7 393.8L56.2 394.9M46.2 382.8L47.6 383.5L49.5 385.1L49.1 385.8L47.3 384.7L45.8 383.5L46.2 382.8" fill="none" stroke="#000" stroke-width="1.1" stroke-linejoin="round"/><path d="M70.8 356.3L72.7 356.7L73.8 358.3L72.3 360.6L70.4 362.5L68.6 363.7L66.0 362.9L64.8 361.0L65.2 358.7L67.1 357.1L68.6 356.7L70.8 356.3ZM113.0 335.9L114.5 337.1L114.2 339.5L113.0 343.0L111.9 345.8L110.6 349.3L109.7 347.0L108.2 345.0L107.8 342.6L108.6 340.3L110.1 338.3L111.6 336.7L113.0 335.9ZM109.7 362.5L110.2 362.4L110.8 362.1L111.4 362.3L111.9 362.1L112.6 362.0L113.2 362.0L113.8 362.6L114.4 362.2L115.1 362.3L115.7 362.5L115.8 363.1L115.6 363.8L115.7 364.4L115.7 365.0L116.0 365.6L116.0 366.3L115.9 366.9L116.0 367.5L116.0 368.2L116.1 368.8L116.6 369.4L116.6 370.0L116.8 370.6L116.4 371.1L115.8 371.2L115.3 371.6L114.9 372.0L114.5 372.4L114.0 372.7L113.4 372.9L113.6 373.5L113.4 374.0L113.2 374.6L113.5 375.2L113.4 375.8L113.4 376.3L113.2 376.9L113.4 377.5L113.8 377.9L114.4 378.1L114.8 378.5L115.2 379.0L115.7 379.4L116.3 379.0L117.0 379.1L117.6 379.1L118.3 379.0L118.8 379.3L119.3 379.6L119.7 380.1L120.1 380.5L120.7 380.8L121.4 380.8L122.0 380.9L122.5 381.3L122.3 382.0L122.5 382.6L123.1 382.9L123.1 383.5L122.7 384.0L122.6 384.7L122.0 385.1L121.5 384.7L120.9 384.3L120.3 383.9L119.8 383.5L119.3 383.3L118.7 383.0L118.2 382.8L117.6 382.8L117.2 382.4L116.7 382.0L116.3 381.6L115.9 381.1L115.3 380.9L114.7 380.5L114.0 380.4L113.4 380.1L112.7 380.0L112.1 380.1L111.4 380.2L110.8 380.5L110.6 379.8L110.0 379.3L109.7 378.6L109.9 378.0L110.6 377.7L110.8 377.1L110.1 376.8L109.3 376.7L108.6 376.5L107.8 376.3L107.6 375.7L107.4 375.0L107.4 374.3L107.1 373.7L106.8 373.1L107.0 372.5L106.8 371.9L106.7 371.4L107.3 371.1L108.0 371.3L108.6 371.0L108.6 370.3L108.6 369.6L108.8 369.0L108.9 368.3L109.2 367.7L109.0 367.1L108.7 366.6L108.9 366.0L109.2 365.5L109.1 364.8L109.2 364.2L109.3 363.7L109.6 363.1L109.7 362.5ZM108.6 381.7L109.1 381.5L109.7 381.8L110.2 381.9L110.8 381.9L111.4 382.1L111.9 382.0L112.0 382.7L112.1 383.3L112.5 383.9L112.7 384.5L113.0 385.1L112.7 385.6L112.2 386.0L111.9 386.6L111.4 386.3L110.9 385.9L110.4 385.4L110.2 384.8L109.8 384.4L109.4 384.0L108.9 383.5L108.6 383.0L108.8 382.3L108.6 381.7ZM123.5 385.4L124.2 385.5L124.8 385.2L125.5 385.0L126.1 385.1L126.8 385.4L127.3 385.9L127.6 386.6L127.7 387.3L127.9 387.9L128.2 388.5L128.2 389.2L128.4 389.8L128.7 390.4L128.1 390.7L127.4 390.6L126.7 390.8L126.1 391.1L125.6 390.7L125.5 390.0L125.0 389.6L124.4 389.2L123.9 388.7L123.5 388.1L123.3 387.4L123.7 386.8L123.4 386.1L123.5 385.4ZM123.9 389.6L124.5 390.0L125.1 390.1L125.8 390.0L126.2 390.7L126.5 391.5L126.7 392.1L126.7 392.8L126.8 393.5L126.9 394.1L126.1 394.2L125.4 394.5L125.0 393.9L124.8 393.2L124.3 392.6L124.1 392.0L124.0 391.4L124.1 390.8L124.2 390.2L123.9 389.6ZM114.5 387.7L115.2 387.7L115.5 388.3L116.1 388.4L116.7 388.4L117.2 388.8L117.9 389.1L118.5 389.4L119.0 390.0L118.7 390.5L118.6 391.1L117.9 391.4L117.8 392.1L117.5 392.6L117.0 393.0L116.3 393.1L115.7 393.0L115.2 392.4L115.0 391.7L114.5 391.1L114.7 390.5L114.8 390.0L114.4 389.4L114.3 388.8L114.4 388.3L114.5 387.7ZM118.7 391.5L119.2 392.0L119.9 391.9L120.5 392.2L120.4 392.9L120.3 393.5L120.1 394.1L120.1 394.8L119.7 395.3L119.8 396.0L119.3 396.5L119.4 397.2L118.9 397.7L118.7 398.3L118.1 397.7L117.4 397.6L116.8 397.1L116.7 396.4L117.0 395.6L116.8 394.9L117.2 394.4L117.6 393.8L117.9 393.3L118.1 392.6L118.2 392.0L118.7 391.5ZM122.0 390.4L122.1 391.0L122.3 391.5L122.8 392.0L122.8 392.6L122.5 393.2L122.1 393.8L122.0 394.5L121.7 395.1L121.3 395.6L120.7 396.2L120.1 396.8L120.4 396.2L120.4 395.6L120.5 395.1L120.6 394.5L120.9 394.0L120.9 393.4L121.1 392.8L121.4 392.2L121.7 391.6L121.8 391.0L122.0 390.4ZM121.6 394.9L122.3 394.9L122.9 394.8L123.5 394.5L123.9 395.2L124.6 395.6L124.0 395.9L123.5 396.4L122.9 396.2L122.2 396.3L121.6 396.0L121.4 395.4L121.6 394.9ZM119.4 383.9L119.9 384.4L120.4 384.8L120.7 385.3L121.2 385.8L121.6 386.2L121.2 386.6L120.7 387.1L120.1 387.3L119.9 386.8L119.5 386.3L119.2 385.8L118.7 385.4L118.9 384.6L119.4 383.9ZM115.3 406.5L115.5 406.0L116.0 405.6L116.4 405.1L116.8 404.7L117.5 404.2L118.3 404.3L118.9 404.1L119.3 403.5L120.0 403.6L120.5 403.2L120.7 402.5L120.8 401.8L121.1 401.2L121.3 400.5L121.8 401.1L122.4 401.5L123.1 401.7L123.5 401.2L123.9 400.8L124.4 400.5L124.7 399.9L125.0 399.5L125.4 399.0L126.0 399.0L126.6 398.6L127.2 398.6L127.5 398.1L127.6 397.5L127.6 396.8L128.1 396.3L128.0 395.6L128.5 395.9L128.9 396.4L129.5 396.6L129.6 397.3L130.2 397.5L130.1 398.2L130.7 398.7L130.8 399.3L130.8 399.9L131.0 400.5L131.3 401.0L131.3 401.6L131.4 402.2L131.6 402.8L131.8 403.3L132.0 403.9L131.8 404.5L132.1 405.0L131.7 405.6L131.4 406.2L131.4 406.9L130.7 407.3L130.6 408.0L130.3 407.3L130.2 406.5L129.8 406.0L129.4 405.3L128.7 405.0L128.5 405.6L128.4 406.3L128.0 406.8L128.2 407.6L128.0 408.2L127.6 408.8L127.5 409.5L127.8 410.1L127.7 410.8L128.0 411.4L127.4 410.9L126.9 410.3L126.3 410.3L125.8 409.8L125.2 409.8L124.6 409.9L124.1 409.5L123.7 408.9L123.4 408.3L122.8 408.0L122.7 407.4L122.7 406.8L122.4 406.2L122.5 405.6L122.4 405.0L121.7 404.8L121.0 404.4L120.5 403.9L119.9 404.0L119.5 404.5L119.0 404.6L118.4 404.8L117.9 405.0L117.4 405.3L116.9 405.7L116.2 405.7L115.8 406.2L115.3 406.5ZM97.0 400.9L97.3 400.3L98.0 400.3L98.5 399.9L98.8 399.4L99.4 399.0L99.8 398.6L100.3 398.1L100.7 397.7L101.1 397.1L101.4 396.6L101.9 396.3L102.2 395.8L102.5 395.3L103.0 394.9L103.6 394.5L104.1 394.0L104.5 393.4L104.6 392.7L105.1 392.3L105.5 391.8L105.6 391.1L105.9 390.3L106.3 389.6L106.3 390.2L106.0 390.7L105.4 391.1L105.3 391.7L105.2 392.2L104.8 392.7L104.7 393.4L104.1 393.8L103.9 394.4L103.6 395.0L103.5 395.6L103.0 396.0L102.7 396.6L102.1 396.9L101.7 397.4L101.2 397.7L100.8 398.2L100.3 398.6L99.9 399.1L99.4 399.4L99.1 399.9L98.4 399.9L98.1 400.5L97.6 401.0L97.0 400.9ZM135.8 424.8L137.0 424.1L137.7 426.3L137.0 428.2L139.6 427.1L140.0 428.6L138.1 430.4L140.7 431.2L138.8 431.9L137.0 431.2L135.8 428.9L135.5 426.3L135.8 424.8ZM138.5 423.0L139.6 422.6L140.0 424.1L138.5 424.5L138.5 423.0ZM141.8 324.5L143.7 323.1M136.0 332.7L137.3 331.1L138.5 329.7M126.5 338.3L127.8 337.9M121.3 339.9L123.5 339.3" fill="none" stroke="#111" stroke-width="0.95" stroke-linejoin="round"/><path d="M135.7 331.1a1.31 1.31 0 1 0 2.62 0a1.31 1.31 0 1 0 -2.62 0M137.1 330.3a0.93 0.93 0 1 0 1.87 0a0.93 0.93 0 1 0 -1.87 0M141.4 323.9a1.12 1.12 0 1 0 2.24 0a1.12 1.12 0 1 0 -2.24 0M122.2 339.5a0.93 0.93 0 1 0 1.87 0a0.93 0.93 0 1 0 -1.87 0M120.9 339.9a0.75 0.75 0 1 0 1.49 0a0.75 0.75 0 1 0 -1.49 0M145.7 315.4a0.93 0.93 0 1 0 1.87 0a0.93 0.93 0 1 0 -1.87 0M147.4 314.9a0.75 0.75 0 1 0 1.49 0a0.75 0.75 0 1 0 -1.49 0M126.5 337.9a0.75 0.75 0 1 0 1.49 0a0.75 0.75 0 1 0 -1.49 0M189.7 328.7a0.75 0.75 0 1 0 1.49 0a0.75 0.75 0 1 0 -1.49 0M179.4 304.2a0.56 0.56 0 1 0 1.12 0a0.56 0.56 0 1 0 -1.12 0M179.8 300.0a0.56 0.56 0 1 0 1.12 0a0.56 0.56 0 1 0 -1.12 0M199.3 381.7a0.82 0.82 0 1 0 1.64 0a0.82 0.82 0 1 0 -1.64 0M202.7 375.2a0.75 0.75 0 1 0 1.49 0a0.75 0.75 0 1 0 -1.49 0M202.5 379.0a0.56 0.56 0 1 0 1.12 0a0.56 0.56 0 1 0 -1.12 0M160.9 404.7a0.75 0.75 0 1 0 1.49 0a0.75 0.75 0 1 0 -1.49 0M174.4 396.8a0.67 0.67 0 1 0 1.35 0a0.67 0.67 0 1 0 -1.35 0M225.5 404.7a0.75 0.75 0 1 0 1.49 0a0.75 0.75 0 1 0 -1.49 0M249.3 406.5a0.93 0.93 0 1 0 1.87 0a0.93 0.93 0 1 0 -1.87 0M267.4 412.5a0.75 0.75 0 1 0 1.49 0a0.75 0.75 0 1 0 -1.49 0M285.1 399.8a0.56 0.56 0 1 0 1.12 0a0.56 0.56 0 1 0 -1.12 0M291.9 405.8a0.56 0.56 0 1 0 1.12 0a0.56 0.56 0 1 0 -1.12 0M298.2 405.8a0.56 0.56 0 1 0 1.12 0a0.56 0.56 0 1 0 -1.12 0M83.9 348.1a0.75 0.75 0 1 0 1.49 0a0.75 0.75 0 1 0 -1.49 0M96.4 343.4a0.56 0.56 0 1 0 1.12 0a0.56 0.56 0 1 0 -1.12 0M105.4 342.6a0.56 0.56 0 1 0 1.12 0a0.56 0.56 0 1 0 -1.12 0M56.8 399.8a0.56 0.56 0 1 0 1.12 0a0.56 0.56 0 1 0 -1.12 0M46.9 394.1a0.75 0.75 0 1 0 1.49 0a0.75 0.75 0 1 0 -1.49 0M62.8 417.4a0.56 0.56 0 1 0 1.12 0a0.56 0.56 0 1 0 -1.12 0M49.3 428.6a0.56 0.56 0 1 0 1.12 0a0.56 0.56 0 1 0 -1.12 0M48.4 430.8a0.75 0.75 0 1 0 1.49 0a0.75 0.75 0 1 0 -1.49 0M50.1 431.9a0.56 0.56 0 1 0 1.12 0a0.56 0.56 0 1 0 -1.12 0M132.3 416.6a0.56 0.56 0 1 0 1.12 0a0.56 0.56 0 1 0 -1.12 0M110.6 409.9a0.56 0.56 0 1 0 1.12 0a0.56 0.56 0 1 0 -1.12 0M121.5 387.0a0.56 0.56 0 1 0 1.12 0a0.56 0.56 0 1 0 -1.12 0M114.4 385.4a0.56 0.56 0 1 0 1.12 0a0.56 0.56 0 1 0 -1.12 0M122.9 380.5a0.56 0.56 0 1 0 1.12 0a0.56 0.56 0 1 0 -1.12 0M106.9 387.3a0.56 0.56 0 1 0 1.12 0a0.56 0.56 0 1 0 -1.12 0M127.4 394.9a0.56 0.56 0 1 0 1.12 0a0.56 0.56 0 1 0 -1.12 0M123.3 398.3a0.56 0.56 0 1 0 1.12 0a0.56 0.56 0 1 0 -1.12 0M112.1 359.4a0.56 0.56 0 1 0 1.12 0a0.56 0.56 0 1 0 -1.12 0M130.6 303.0a0.75 0.75 0 1 0 1.49 0a0.75 0.75 0 1 0 -1.49 0M140.1 297.5a0.56 0.56 0 1 0 1.12 0a0.56 0.56 0 1 0 -1.12 0M156.2 291.1a0.56 0.56 0 1 0 1.12 0a0.56 0.56 0 1 0 -1.12 0M175.5 283.4a0.75 0.75 0 1 0 1.49 0a0.75 0.75 0 1 0 -1.49 0M140.1 305.9a0.56 0.56 0 1 0 1.12 0a0.56 0.56 0 1 0 -1.12 0M162.6 298.8a0.56 0.56 0 1 0 1.12 0a0.56 0.56 0 1 0 -1.12 0M115.5 316.2a0.56 0.56 0 1 0 1.12 0a0.56 0.56 0 1 0 -1.12 0M114.2 376.9a0.56 0.56 0 1 0 1.12 0a0.56 0.56 0 1 0 -1.12 0M122.5 380.7a0.82 0.82 0 1 0 1.64 0a0.82 0.82 0 1 0 -1.64 0M114.1 382.0a0.64 0.64 0 1 0 1.27 0a0.64 0.64 0 1 0 -1.27 0M114.6 386.0a0.49 0.49 0 1 0 0.97 0a0.49 0.49 0 1 0 -0.97 0M127.8 394.1a0.56 0.56 0 1 0 1.12 0a0.56 0.56 0 1 0 -1.12 0M129.5 395.4a0.56 0.56 0 1 0 1.12 0a0.56 0.56 0 1 0 -1.12 0M114.2 407.8a0.67 0.67 0 1 0 1.35 0a0.67 0.67 0 1 0 -1.35 0M110.6 409.9a0.56 0.56 0 1 0 1.12 0a0.56 0.56 0 1 0 -1.12 0M106.9 412.9a0.56 0.56 0 1 0 1.12 0a0.56 0.56 0 1 0 -1.12 0M106.7 387.0a0.75 0.75 0 1 0 1.49 0a0.75 0.75 0 1 0 -1.49 0M148.0 314.5a0.56 0.56 0 1 0 1.12 0a0.56 0.56 0 1 0 -1.12 0M117.8 388.5a0.49 0.49 0 1 0 0.97 0a0.49 0.49 0 1 0 -0.97 0M122.3 385.1a0.49 0.49 0 1 0 0.97 0a0.49 0.49 0 1 0 -0.97 0" fill="none" stroke="#111" stroke-width="0.7"/><path d="M92.2 320.7a1.20 1.68 0 1 0 2.39 0a1.20 1.68 0 1 0 -2.39 0M78.5 320.7a1.31 0.93 0 1 0 2.62 0a1.31 0.93 0 1 0 -2.62 0M107.1 312.1a1.05 1.05 0 1 0 2.09 0a1.05 1.05 0 1 0 -2.09 0M100.7 303.8a1.12 0.93 0 1 0 2.24 0a1.12 0.93 0 1 0 -2.24 0M97.4 310.4a0.75 0.45 0 1 0 1.49 0a0.75 0.45 0 1 0 -1.49 0M94.5 298.3a0.56 0.56 0 1 0 1.12 0a0.56 0.56 0 1 0 -1.12 0M89.1 309.2a0.37 0.37 0 1 0 0.75 0a0.37 0.37 0 1 0 -0.75 0" fill="#111"/><path d="M180.8 306.7h1.2M292.2 394.9h1.2M147.2 337.9h1.2M149.1 333.9h1.2M112.8 348.9h1.2M112.4 346.2h1.2M94.5 354.0h1.2M78.1 370.2h1.2M75.4 371.4h1.2M85.5 393.4h1.2M90.4 395.6h1.2M81.4 400.1h1.2M92.3 392.6h1.2M46.7 421.5h1.2M48.9 423.0h1.2M53.8 421.9h1.2M55.3 420.4h1.2M60.9 417.4h1.2M65.4 423.0h1.2M55.6 428.9h1.2M127.4 423.3h1.2M127.0 418.5h1.2M131.5 417.7h1.2M107.2 409.9h1.2M104.6 413.3h1.2M109.8 411.8h1.2M114.3 407.7h1.2M113.9 394.9h1.2M106.5 390.4h1.2M129.3 394.9h1.2M120.7 397.9h1.2M113.9 355.2h1.2M115.1 360.6h1.2M113.9 361.0h1.2M132.6 285.6h1.2M141.6 299.2h1.2M146.1 286.0h1.2M143.5 305.5h1.2M144.2 307.5h1.2M145.7 313.3h1.2M155.0 299.2h1.2M128.9 280.8h1.2M113.6 283.9h1.2M115.1 317.8h1.2M115.4 314.5h1.2M106.8 332.7h1.2M111.3 334.3h1.2M105.3 335.1h1.2M118.8 383.7h1.2M120.7 385.4h1.2M116.4 385.8h1.2M115.3 385.3h1.2M123.7 389.0h1.2M116.6 392.6h1.2M120.1 397.9h1.2M124.5 398.0h1.2M107.0 387.9h1.2M110.6 391.7h1.2M107.2 380.5h1.2M112.3 359.4h1.2M113.9 361.0h1.2M114.1 355.0h1.2M143.1 317.8h1.2M142.3 319.0h1.2M141.2 321.1h1.2M140.3 325.9h1.2M139.0 327.7h1.2M138.2 328.9h1.2M132.3 331.7h1.2M118.1 339.3h1.2M230.5 408.0h1.2M284.3 390.0h1.2M290.0 400.5h1.2M292.2 378.2h1.2M119.2 389.6h1.2M121.8 391.1h1.2M121.6 393.6h1.2M124.0 387.7h1.2M115.1 387.3h1.2M116.9 386.8h1.2M119.5 386.0h1.2M118.1 382.0h1.2M115.8 381.7h1.2M112.4 383.9h1.2M109.8 384.3h1.2M119.0 394.1h1.2M117.5 396.0h1.2M124.8 395.3h1.2M126.6 396.8h1.2M127.4 392.8h1.2M125.3 392.1h1.2M118.4 398.5h1.2M111.3 389.2h1.2M109.1 391.1h1.2M108.0 394.1h1.2M106.5 392.6h1.2M113.2 394.5h1.2M125.9 387.0h1.2M128.1 388.1h1.2" stroke="#333" stroke-width="1.2"/><path d="M39.4 330.0h1.0M42.7 343.2h1.0M43.2 342.2h1.5M47.0 371.1h1.5M58.3 322.7h1.0M66.3 382.3h1.0M98.8 322.2h1.5M53.6 319.0h1.5M54.5 388.8h1.5M56.6 303.9h1.2M61.5 377.3h1.0M42.2 360.2h1.2M134.1 296.3h1.2M72.3 263.4h1.2M37.2 305.8h1.5M99.1 273.0h1.2M72.1 353.0h1.2M99.9 337.6h1.0M114.0 309.0h1.5M77.4 305.7h1.0M103.5 332.1h1.0M61.4 347.1h1.2M42.0 338.6h1.5M64.9 383.3h1.2M135.1 259.4h1.0M42.3 381.3h1.5M59.7 333.4h1.5M53.8 362.8h1.0M98.3 260.1h1.5M132.2 260.6h1.5M136.9 288.3h1.5M40.5 373.2h1.0M45.4 316.1h1.0M32.7 381.3h1.0M40.8 373.3h1.2M49.9 367.0h1.2M102.5 335.0h1.0M131.0 253.4h1.2M49.4 293.1h1.5M63.4 280.5h1.0M112.6 266.6h1.5M67.2 309.7h1.0M58.5 283.3h1.0M126.1 282.2h1.5M89.8 296.0h1.0M55.1 315.4h1.2M84.5 262.8h1.2M58.2 370.6h1.0M71.8 333.7h1.5M42.5 306.9h1.2M125.5 257.0h1.2M86.4 294.1h1.0M47.4 381.3h1.2M128.4 255.5h1.5M44.6 293.1h1.0" stroke="#111" stroke-width="1.1" stroke-opacity="0.85"/></g>
<path d="M113.4 105.6a1.35 1.35 0 1 0 2.7 0a1.35 1.35 0 1 0 -2.7 0M126.7 112.3a1.35 1.35 0 1 0 2.7 0a1.35 1.35 0 1 0 -2.7 0M116.2 117.3a1.35 1.35 0 1 0 2.7 0a1.35 1.35 0 1 0 -2.7 0M106.4 119.5a1.35 1.35 0 1 0 2.7 0a1.35 1.35 0 1 0 -2.7 0M62.1 128.3a1.35 1.35 0 1 0 2.7 0a1.35 1.35 0 1 0 -2.7 0M71.4 128.7a1.35 1.35 0 1 0 2.7 0a1.35 1.35 0 1 0 -2.7 0M77.4 127.7a1.35 1.35 0 1 0 2.7 0a1.35 1.35 0 1 0 -2.7 0M84.7 130.0a1.35 1.35 0 1 0 2.7 0a1.35 1.35 0 1 0 -2.7 0M92.0 130.4a1.35 1.35 0 1 0 2.7 0a1.35 1.35 0 1 0 -2.7 0M94.4 128.0a1.35 1.35 0 1 0 2.7 0a1.35 1.35 0 1 0 -2.7 0M93.7 133.3a1.35 1.35 0 1 0 2.7 0a1.35 1.35 0 1 0 -2.7 0M100.7 133.1a1.35 1.35 0 1 0 2.7 0a1.35 1.35 0 1 0 -2.7 0M78.7 133.7a1.35 1.35 0 1 0 2.7 0a1.35 1.35 0 1 0 -2.7 0M75.4 136.0a1.35 1.35 0 1 0 2.7 0a1.35 1.35 0 1 0 -2.7 0M77.1 137.7a1.35 1.35 0 1 0 2.7 0a1.35 1.35 0 1 0 -2.7 0M62.6 136.0a1.35 1.35 0 1 0 2.7 0a1.35 1.35 0 1 0 -2.7 0M68.2 139.6a1.35 1.35 0 1 0 2.7 0a1.35 1.35 0 1 0 -2.7 0M74.0 139.6a1.35 1.35 0 1 0 2.7 0a1.35 1.35 0 1 0 -2.7 0M91.0 137.3a1.35 1.35 0 1 0 2.7 0a1.35 1.35 0 1 0 -2.7 0M92.7 139.7a1.35 1.35 0 1 0 2.7 0a1.35 1.35 0 1 0 -2.7 0M98.0 143.3a1.35 1.35 0 1 0 2.7 0a1.35 1.35 0 1 0 -2.7 0M101.6 141.7a1.35 1.35 0 1 0 2.7 0a1.35 1.35 0 1 0 -2.7 0M73.4 144.4a1.35 1.35 0 1 0 2.7 0a1.35 1.35 0 1 0 -2.7 0M70.0 146.0a1.35 1.35 0 1 0 2.7 0a1.35 1.35 0 1 0 -2.7 0M86.0 149.6a1.35 1.35 0 1 0 2.7 0a1.35 1.35 0 1 0 -2.7 0M121.4 128.0a1.35 1.35 0 1 0 2.7 0a1.35 1.35 0 1 0 -2.7 0M116.0 135.7a1.35 1.35 0 1 0 2.7 0a1.35 1.35 0 1 0 -2.7 0M121.4 136.7a1.35 1.35 0 1 0 2.7 0a1.35 1.35 0 1 0 -2.7 0M119.7 144.0a1.35 1.35 0 1 0 2.7 0a1.35 1.35 0 1 0 -2.7 0M123.4 138.7a1.35 1.35 0 1 0 2.7 0a1.35 1.35 0 1 0 -2.7 0M127.0 139.3a1.35 1.35 0 1 0 2.7 0a1.35 1.35 0 1 0 -2.7 0M123.7 150.0a1.35 1.35 0 1 0 2.7 0a1.35 1.35 0 1 0 -2.7 0M126.7 150.4a1.35 1.35 0 1 0 2.7 0a1.35 1.35 0 1 0 -2.7 0M121.1 153.3a1.35 1.35 0 1 0 2.7 0a1.35 1.35 0 1 0 -2.7 0M128.2 142.4a1.35 1.35 0 1 0 2.7 0a1.35 1.35 0 1 0 -2.7 0M128.0 93.3a1.35 1.35 0 1 0 2.7 0a1.35 1.35 0 1 0 -2.7 0M161.1 92.7a1.35 1.35 0 1 0 2.7 0a1.35 1.35 0 1 0 -2.7 0M159.3 96.9a1.35 1.35 0 1 0 2.7 0a1.35 1.35 0 1 0 -2.7 0M154.0 108.0a1.35 1.35 0 1 0 2.7 0a1.35 1.35 0 1 0 -2.7 0M160.7 110.4a1.35 1.35 0 1 0 2.7 0a1.35 1.35 0 1 0 -2.7 0M178.3 110.9a1.35 1.35 0 1 0 2.7 0a1.35 1.35 0 1 0 -2.7 0M129.3 109.1a1.35 1.35 0 1 0 2.7 0a1.35 1.35 0 1 0 -2.7 0M164.3 120.4a1.35 1.35 0 1 0 2.7 0a1.35 1.35 0 1 0 -2.7 0M129.1 122.1a1.35 1.35 0 1 0 2.7 0a1.35 1.35 0 1 0 -2.7 0M147.6 122.3a1.35 1.35 0 1 0 2.7 0a1.35 1.35 0 1 0 -2.7 0M131.8 127.3a1.35 1.35 0 1 0 2.7 0a1.35 1.35 0 1 0 -2.7 0M134.3 129.1a1.35 1.35 0 1 0 2.7 0a1.35 1.35 0 1 0 -2.7 0M144.0 130.9a1.35 1.35 0 1 0 2.7 0a1.35 1.35 0 1 0 -2.7 0M145.6 132.7a1.35 1.35 0 1 0 2.7 0a1.35 1.35 0 1 0 -2.7 0M148.7 135.1a1.35 1.35 0 1 0 2.7 0a1.35 1.35 0 1 0 -2.7 0M153.3 132.9a1.35 1.35 0 1 0 2.7 0a1.35 1.35 0 1 0 -2.7 0M163.8 131.6a1.35 1.35 0 1 0 2.7 0a1.35 1.35 0 1 0 -2.7 0M168.7 135.1a1.35 1.35 0 1 0 2.7 0a1.35 1.35 0 1 0 -2.7 0M181.6 128.7a1.35 1.35 0 1 0 2.7 0a1.35 1.35 0 1 0 -2.7 0M147.8 139.1a1.35 1.35 0 1 0 2.7 0a1.35 1.35 0 1 0 -2.7 0M121.1 140.1a1.35 1.35 0 1 0 2.7 0a1.35 1.35 0 1 0 -2.7 0M131.3 144.1a1.35 1.35 0 1 0 2.7 0a1.35 1.35 0 1 0 -2.7 0M136.7 143.7a1.35 1.35 0 1 0 2.7 0a1.35 1.35 0 1 0 -2.7 0M134.3 147.0a1.35 1.35 0 1 0 2.7 0a1.35 1.35 0 1 0 -2.7 0M137.3 149.4a1.35 1.35 0 1 0 2.7 0a1.35 1.35 0 1 0 -2.7 0M140.0 147.4a1.35 1.35 0 1 0 2.7 0a1.35 1.35 0 1 0 -2.7 0M130.3 148.7a1.35 1.35 0 1 0 2.7 0a1.35 1.35 0 1 0 -2.7 0M134.0 154.1a1.35 1.35 0 1 0 2.7 0a1.35 1.35 0 1 0 -2.7 0M121.1 159.9a1.35 1.35 0 1 0 2.7 0a1.35 1.35 0 1 0 -2.7 0M131.1 165.0a1.35 1.35 0 1 0 2.7 0a1.35 1.35 0 1 0 -2.7 0M164.0 140.3a1.35 1.35 0 1 0 2.7 0a1.35 1.35 0 1 0 -2.7 0M169.1 145.7a1.35 1.35 0 1 0 2.7 0a1.35 1.35 0 1 0 -2.7 0M172.3 146.6a1.35 1.35 0 1 0 2.7 0a1.35 1.35 0 1 0 -2.7 0M149.6 153.3a1.35 1.35 0 1 0 2.7 0a1.35 1.35 0 1 0 -2.7 0M154.0 155.4a1.35 1.35 0 1 0 2.7 0a1.35 1.35 0 1 0 -2.7 0M163.2 152.3a1.35 1.35 0 1 0 2.7 0a1.35 1.35 0 1 0 -2.7 0M164.2 161.9a1.35 1.35 0 1 0 2.7 0a1.35 1.35 0 1 0 -2.7 0M161.3 164.6a1.35 1.35 0 1 0 2.7 0a1.35 1.35 0 1 0 -2.7 0M163.2 167.5a1.35 1.35 0 1 0 2.7 0a1.35 1.35 0 1 0 -2.7 0M151.0 170.6a1.35 1.35 0 1 0 2.7 0a1.35 1.35 0 1 0 -2.7 0M187.8 139.7a1.35 1.35 0 1 0 2.7 0a1.35 1.35 0 1 0 -2.7 0M188.0 155.0a1.35 1.35 0 1 0 2.7 0a1.35 1.35 0 1 0 -2.7 0M191.0 102.0a1.35 1.35 0 1 0 2.7 0a1.35 1.35 0 1 0 -2.7 0M197.3 106.0a1.35 1.35 0 1 0 2.7 0a1.35 1.35 0 1 0 -2.7 0M202.7 108.0a1.35 1.35 0 1 0 2.7 0a1.35 1.35 0 1 0 -2.7 0M213.1 106.0a1.35 1.35 0 1 0 2.7 0a1.35 1.35 0 1 0 -2.7 0M241.3 98.3a1.35 1.35 0 1 0 2.7 0a1.35 1.35 0 1 0 -2.7 0M240.0 100.0a1.35 1.35 0 1 0 2.7 0a1.35 1.35 0 1 0 -2.7 0M245.8 101.3a1.35 1.35 0 1 0 2.7 0a1.35 1.35 0 1 0 -2.7 0M265.9 109.3a1.35 1.35 0 1 0 2.7 0a1.35 1.35 0 1 0 -2.7 0M254.3 112.4a1.35 1.35 0 1 0 2.7 0a1.35 1.35 0 1 0 -2.7 0M253.3 115.7a1.35 1.35 0 1 0 2.7 0a1.35 1.35 0 1 0 -2.7 0M212.2 119.7a1.35 1.35 0 1 0 2.7 0a1.35 1.35 0 1 0 -2.7 0M218.0 117.7a1.35 1.35 0 1 0 2.7 0a1.35 1.35 0 1 0 -2.7 0M226.2 118.1a1.35 1.35 0 1 0 2.7 0a1.35 1.35 0 1 0 -2.7 0M192.7 126.7a1.35 1.35 0 1 0 2.7 0a1.35 1.35 0 1 0 -2.7 0M242.0 125.7a1.35 1.35 0 1 0 2.7 0a1.35 1.35 0 1 0 -2.7 0M230.0 129.1a1.35 1.35 0 1 0 2.7 0a1.35 1.35 0 1 0 -2.7 0M202.0 133.3a1.35 1.35 0 1 0 2.7 0a1.35 1.35 0 1 0 -2.7 0M198.3 136.4a1.35 1.35 0 1 0 2.7 0a1.35 1.35 0 1 0 -2.7 0M208.0 136.4a1.35 1.35 0 1 0 2.7 0a1.35 1.35 0 1 0 -2.7 0M221.1 137.6a1.35 1.35 0 1 0 2.7 0a1.35 1.35 0 1 0 -2.7 0M239.0 135.3a1.35 1.35 0 1 0 2.7 0a1.35 1.35 0 1 0 -2.7 0M195.8 139.3a1.35 1.35 0 1 0 2.7 0a1.35 1.35 0 1 0 -2.7 0M257.0 142.4a1.35 1.35 0 1 0 2.7 0a1.35 1.35 0 1 0 -2.7 0M191.3 147.6a1.35 1.35 0 1 0 2.7 0a1.35 1.35 0 1 0 -2.7 0M246.0 148.7a1.35 1.35 0 1 0 2.7 0a1.35 1.35 0 1 0 -2.7 0M194.3 149.1a1.35 1.35 0 1 0 2.7 0a1.35 1.35 0 1 0 -2.7 0M192.3 152.3a1.35 1.35 0 1 0 2.7 0a1.35 1.35 0 1 0 -2.7 0M250.0 153.1a1.35 1.35 0 1 0 2.7 0a1.35 1.35 0 1 0 -2.7 0M255.0 155.3a1.35 1.35 0 1 0 2.7 0a1.35 1.35 0 1 0 -2.7 0M265.0 150.4a1.35 1.35 0 1 0 2.7 0a1.35 1.35 0 1 0 -2.7 0M236.0 154.0a1.35 1.35 0 1 0 2.7 0a1.35 1.35 0 1 0 -2.7 0M202.0 155.1a1.35 1.35 0 1 0 2.7 0a1.35 1.35 0 1 0 -2.7 0M212.3 157.7a1.35 1.35 0 1 0 2.7 0a1.35 1.35 0 1 0 -2.7 0M214.2 161.6a1.35 1.35 0 1 0 2.7 0a1.35 1.35 0 1 0 -2.7 0M205.3 162.7a1.35 1.35 0 1 0 2.7 0a1.35 1.35 0 1 0 -2.7 0M209.8 165.3a1.35 1.35 0 1 0 2.7 0a1.35 1.35 0 1 0 -2.7 0M193.1 163.1a1.35 1.35 0 1 0 2.7 0a1.35 1.35 0 1 0 -2.7 0M193.6 166.0a1.35 1.35 0 1 0 2.7 0a1.35 1.35 0 1 0 -2.7 0M192.0 169.3a1.35 1.35 0 1 0 2.7 0a1.35 1.35 0 1 0 -2.7 0M196.7 168.4a1.35 1.35 0 1 0 2.7 0a1.35 1.35 0 1 0 -2.7 0M195.0 170.9a1.35 1.35 0 1 0 2.7 0a1.35 1.35 0 1 0 -2.7 0M255.8 169.3a1.35 1.35 0 1 0 2.7 0a1.35 1.35 0 1 0 -2.7 0M290.2 141.7a1.35 1.35 0 1 0 2.7 0a1.35 1.35 0 1 0 -2.7 0M277.5 106.4a1.35 1.35 0 1 0 2.7 0a1.35 1.35 0 1 0 -2.7 0M270.9 113.7a1.35 1.35 0 1 0 2.7 0a1.35 1.35 0 1 0 -2.7 0" fill="#3ad41a" stroke="#1d6b12" stroke-width="0.6"/>
<path d="M474.0 102.9a1.35 1.35 0 1 0 2.7 0a1.35 1.35 0 1 0 -2.7 0M481.6 113.3a1.35 1.35 0 1 0 2.7 0a1.35 1.35 0 1 0 -2.7 0M480.9 117.1a1.35 1.35 0 1 0 2.7 0a1.35 1.35 0 1 0 -2.7 0M458.3 124.0a1.35 1.35 0 1 0 2.7 0a1.35 1.35 0 1 0 -2.7 0M443.3 125.3a1.35 1.35 0 1 0 2.7 0a1.35 1.35 0 1 0 -2.7 0M448.0 128.3a1.35 1.35 0 1 0 2.7 0a1.35 1.35 0 1 0 -2.7 0M450.9 127.3a1.35 1.35 0 1 0 2.7 0a1.35 1.35 0 1 0 -2.7 0M429.6 132.3a1.35 1.35 0 1 0 2.7 0a1.35 1.35 0 1 0 -2.7 0M448.3 133.3a1.35 1.35 0 1 0 2.7 0a1.35 1.35 0 1 0 -2.7 0M436.0 138.3a1.35 1.35 0 1 0 2.7 0a1.35 1.35 0 1 0 -2.7 0M434.8 142.3a1.35 1.35 0 1 0 2.7 0a1.35 1.35 0 1 0 -2.7 0M438.5 142.7a1.35 1.35 0 1 0 2.7 0a1.35 1.35 0 1 0 -2.7 0M448.0 143.3a1.35 1.35 0 1 0 2.7 0a1.35 1.35 0 1 0 -2.7 0M460.3 135.7a1.35 1.35 0 1 0 2.7 0a1.35 1.35 0 1 0 -2.7 0M466.8 140.7a1.35 1.35 0 1 0 2.7 0a1.35 1.35 0 1 0 -2.7 0M472.0 142.0a1.35 1.35 0 1 0 2.7 0a1.35 1.35 0 1 0 -2.7 0M474.5 144.4a1.35 1.35 0 1 0 2.7 0a1.35 1.35 0 1 0 -2.7 0M470.9 146.9a1.35 1.35 0 1 0 2.7 0a1.35 1.35 0 1 0 -2.7 0M473.6 147.3a1.35 1.35 0 1 0 2.7 0a1.35 1.35 0 1 0 -2.7 0M463.2 147.3a1.35 1.35 0 1 0 2.7 0a1.35 1.35 0 1 0 -2.7 0M449.3 148.7a1.35 1.35 0 1 0 2.7 0a1.35 1.35 0 1 0 -2.7 0M448.5 152.4a1.35 1.35 0 1 0 2.7 0a1.35 1.35 0 1 0 -2.7 0M422.0 150.7a1.35 1.35 0 1 0 2.7 0a1.35 1.35 0 1 0 -2.7 0M431.3 150.7a1.35 1.35 0 1 0 2.7 0a1.35 1.35 0 1 0 -2.7 0M439.6 156.3a1.35 1.35 0 1 0 2.7 0a1.35 1.35 0 1 0 -2.7 0M443.2 158.3a1.35 1.35 0 1 0 2.7 0a1.35 1.35 0 1 0 -2.7 0M446.9 157.1a1.35 1.35 0 1 0 2.7 0a1.35 1.35 0 1 0 -2.7 0M449.6 158.7a1.35 1.35 0 1 0 2.7 0a1.35 1.35 0 1 0 -2.7 0M426.8 158.0a1.35 1.35 0 1 0 2.7 0a1.35 1.35 0 1 0 -2.7 0M479.6 130.7a1.35 1.35 0 1 0 2.7 0a1.35 1.35 0 1 0 -2.7 0M480.9 137.3a1.35 1.35 0 1 0 2.7 0a1.35 1.35 0 1 0 -2.7 0M496.3 97.1a1.35 1.35 0 1 0 2.7 0a1.35 1.35 0 1 0 -2.7 0M492.5 104.7a1.35 1.35 0 1 0 2.7 0a1.35 1.35 0 1 0 -2.7 0M507.6 111.7a1.35 1.35 0 1 0 2.7 0a1.35 1.35 0 1 0 -2.7 0M484.5 118.7a1.35 1.35 0 1 0 2.7 0a1.35 1.35 0 1 0 -2.7 0M494.9 114.9a1.35 1.35 0 1 0 2.7 0a1.35 1.35 0 1 0 -2.7 0M524.0 114.4a1.35 1.35 0 1 0 2.7 0a1.35 1.35 0 1 0 -2.7 0M526.9 119.1a1.35 1.35 0 1 0 2.7 0a1.35 1.35 0 1 0 -2.7 0M512.9 121.1a1.35 1.35 0 1 0 2.7 0a1.35 1.35 0 1 0 -2.7 0M523.9 125.7a1.35 1.35 0 1 0 2.7 0a1.35 1.35 0 1 0 -2.7 0M536.4 123.3a1.35 1.35 0 1 0 2.7 0a1.35 1.35 0 1 0 -2.7 0M540.4 129.6a1.35 1.35 0 1 0 2.7 0a1.35 1.35 0 1 0 -2.7 0M520.9 131.7a1.35 1.35 0 1 0 2.7 0a1.35 1.35 0 1 0 -2.7 0M517.6 133.7a1.35 1.35 0 1 0 2.7 0a1.35 1.35 0 1 0 -2.7 0M521.4 138.7a1.35 1.35 0 1 0 2.7 0a1.35 1.35 0 1 0 -2.7 0M485.3 130.0a1.35 1.35 0 1 0 2.7 0a1.35 1.35 0 1 0 -2.7 0M490.8 133.6a1.35 1.35 0 1 0 2.7 0a1.35 1.35 0 1 0 -2.7 0M494.5 134.0a1.35 1.35 0 1 0 2.7 0a1.35 1.35 0 1 0 -2.7 0M495.2 128.9a1.35 1.35 0 1 0 2.7 0a1.35 1.35 0 1 0 -2.7 0M489.6 144.0a1.35 1.35 0 1 0 2.7 0a1.35 1.35 0 1 0 -2.7 0M490.8 146.9a1.35 1.35 0 1 0 2.7 0a1.35 1.35 0 1 0 -2.7 0M494.9 140.0a1.35 1.35 0 1 0 2.7 0a1.35 1.35 0 1 0 -2.7 0M495.6 142.4a1.35 1.35 0 1 0 2.7 0a1.35 1.35 0 1 0 -2.7 0M509.3 141.3a1.35 1.35 0 1 0 2.7 0a1.35 1.35 0 1 0 -2.7 0M484.3 152.7a1.35 1.35 0 1 0 2.7 0a1.35 1.35 0 1 0 -2.7 0M487.6 151.7a1.35 1.35 0 1 0 2.7 0a1.35 1.35 0 1 0 -2.7 0M499.2 153.1a1.35 1.35 0 1 0 2.7 0a1.35 1.35 0 1 0 -2.7 0M484.5 156.3a1.35 1.35 0 1 0 2.7 0a1.35 1.35 0 1 0 -2.7 0M488.5 156.3a1.35 1.35 0 1 0 2.7 0a1.35 1.35 0 1 0 -2.7 0M496.0 154.9a1.35 1.35 0 1 0 2.7 0a1.35 1.35 0 1 0 -2.7 0M500.3 158.4a1.35 1.35 0 1 0 2.7 0a1.35 1.35 0 1 0 -2.7 0M509.3 154.7a1.35 1.35 0 1 0 2.7 0a1.35 1.35 0 1 0 -2.7 0M511.2 158.7a1.35 1.35 0 1 0 2.7 0a1.35 1.35 0 1 0 -2.7 0M513.6 152.3a1.35 1.35 0 1 0 2.7 0a1.35 1.35 0 1 0 -2.7 0M519.2 154.0a1.35 1.35 0 1 0 2.7 0a1.35 1.35 0 1 0 -2.7 0M522.9 154.4a1.35 1.35 0 1 0 2.7 0a1.35 1.35 0 1 0 -2.7 0M524.0 143.3a1.35 1.35 0 1 0 2.7 0a1.35 1.35 0 1 0 -2.7 0M525.6 146.0a1.35 1.35 0 1 0 2.7 0a1.35 1.35 0 1 0 -2.7 0M528.4 150.4a1.35 1.35 0 1 0 2.7 0a1.35 1.35 0 1 0 -2.7 0M535.6 147.3a1.35 1.35 0 1 0 2.7 0a1.35 1.35 0 1 0 -2.7 0M534.9 153.3a1.35 1.35 0 1 0 2.7 0a1.35 1.35 0 1 0 -2.7 0M540.9 156.0a1.35 1.35 0 1 0 2.7 0a1.35 1.35 0 1 0 -2.7 0M542.4 162.7a1.35 1.35 0 1 0 2.7 0a1.35 1.35 0 1 0 -2.7 0M540.4 138.0a1.35 1.35 0 1 0 2.7 0a1.35 1.35 0 1 0 -2.7 0M481.9 162.4a1.35 1.35 0 1 0 2.7 0a1.35 1.35 0 1 0 -2.7 0M506.0 164.4a1.35 1.35 0 1 0 2.7 0a1.35 1.35 0 1 0 -2.7 0M521.9 162.4a1.35 1.35 0 1 0 2.7 0a1.35 1.35 0 1 0 -2.7 0M512.4 168.0a1.35 1.35 0 1 0 2.7 0a1.35 1.35 0 1 0 -2.7 0M526.4 169.3a1.35 1.35 0 1 0 2.7 0a1.35 1.35 0 1 0 -2.7 0M539.6 171.3a1.35 1.35 0 1 0 2.7 0a1.35 1.35 0 1 0 -2.7 0M488.9 172.4a1.35 1.35 0 1 0 2.7 0a1.35 1.35 0 1 0 -2.7 0M488.5 175.3a1.35 1.35 0 1 0 2.7 0a1.35 1.35 0 1 0 -2.7 0M477.1 170.0a1.35 1.35 0 1 0 2.7 0a1.35 1.35 0 1 0 -2.7 0M472.9 167.3a1.35 1.35 0 1 0 2.7 0a1.35 1.35 0 1 0 -2.7 0M460.3 168.7a1.35 1.35 0 1 0 2.7 0a1.35 1.35 0 1 0 -2.7 0M549.5 100.5a1.35 1.35 0 1 0 2.7 0a1.35 1.35 0 1 0 -2.7 0M572.4 103.2a1.35 1.35 0 1 0 2.7 0a1.35 1.35 0 1 0 -2.7 0M592.1 99.5a1.35 1.35 0 1 0 2.7 0a1.35 1.35 0 1 0 -2.7 0M562.9 111.2a1.35 1.35 0 1 0 2.7 0a1.35 1.35 0 1 0 -2.7 0M570.0 119.7a1.35 1.35 0 1 0 2.7 0a1.35 1.35 0 1 0 -2.7 0M573.8 117.3a1.35 1.35 0 1 0 2.7 0a1.35 1.35 0 1 0 -2.7 0M592.9 116.0a1.35 1.35 0 1 0 2.7 0a1.35 1.35 0 1 0 -2.7 0M578.4 126.7a1.35 1.35 0 1 0 2.7 0a1.35 1.35 0 1 0 -2.7 0M591.6 126.7a1.35 1.35 0 1 0 2.7 0a1.35 1.35 0 1 0 -2.7 0M548.9 123.5a1.35 1.35 0 1 0 2.7 0a1.35 1.35 0 1 0 -2.7 0M557.8 126.7a1.35 1.35 0 1 0 2.7 0a1.35 1.35 0 1 0 -2.7 0M556.1 128.8a1.35 1.35 0 1 0 2.7 0a1.35 1.35 0 1 0 -2.7 0M548.9 129.9a1.35 1.35 0 1 0 2.7 0a1.35 1.35 0 1 0 -2.7 0M549.8 135.2a1.35 1.35 0 1 0 2.7 0a1.35 1.35 0 1 0 -2.7 0M550.5 137.3a1.35 1.35 0 1 0 2.7 0a1.35 1.35 0 1 0 -2.7 0M548.1 136.8a1.35 1.35 0 1 0 2.7 0a1.35 1.35 0 1 0 -2.7 0M552.4 142.1a1.35 1.35 0 1 0 2.7 0a1.35 1.35 0 1 0 -2.7 0M571.1 137.9a1.35 1.35 0 1 0 2.7 0a1.35 1.35 0 1 0 -2.7 0M585.8 139.5a1.35 1.35 0 1 0 2.7 0a1.35 1.35 0 1 0 -2.7 0M603.6 144.8a1.35 1.35 0 1 0 2.7 0a1.35 1.35 0 1 0 -2.7 0M593.5 149.3a1.35 1.35 0 1 0 2.7 0a1.35 1.35 0 1 0 -2.7 0M597.2 149.3a1.35 1.35 0 1 0 2.7 0a1.35 1.35 0 1 0 -2.7 0M571.1 146.7a1.35 1.35 0 1 0 2.7 0a1.35 1.35 0 1 0 -2.7 0M572.9 149.3a1.35 1.35 0 1 0 2.7 0a1.35 1.35 0 1 0 -2.7 0M542.4 149.9a1.35 1.35 0 1 0 2.7 0a1.35 1.35 0 1 0 -2.7 0M561.5 156.5a1.35 1.35 0 1 0 2.7 0a1.35 1.35 0 1 0 -2.7 0M576.4 158.1a1.35 1.35 0 1 0 2.7 0a1.35 1.35 0 1 0 -2.7 0M595.1 158.1a1.35 1.35 0 1 0 2.7 0a1.35 1.35 0 1 0 -2.7 0M620.1 156.0a1.35 1.35 0 1 0 2.7 0a1.35 1.35 0 1 0 -2.7 0M628.1 135.2a1.35 1.35 0 1 0 2.7 0a1.35 1.35 0 1 0 -2.7 0M609.5 165.3a1.35 1.35 0 1 0 2.7 0a1.35 1.35 0 1 0 -2.7 0M595.1 164.8a1.35 1.35 0 1 0 2.7 0a1.35 1.35 0 1 0 -2.7 0M587.1 166.7a1.35 1.35 0 1 0 2.7 0a1.35 1.35 0 1 0 -2.7 0M589.8 171.5a1.35 1.35 0 1 0 2.7 0a1.35 1.35 0 1 0 -2.7 0M546.4 161.9a1.35 1.35 0 1 0 2.7 0a1.35 1.35 0 1 0 -2.7 0M558.4 168.0a1.35 1.35 0 1 0 2.7 0a1.35 1.35 0 1 0 -2.7 0M560.4 170.1a1.35 1.35 0 1 0 2.7 0a1.35 1.35 0 1 0 -2.7 0M559.6 174.7a1.35 1.35 0 1 0 2.7 0a1.35 1.35 0 1 0 -2.7 0M604.4 176.7a1.35 1.35 0 1 0 2.7 0a1.35 1.35 0 1 0 -2.7 0M573.6 184.0a1.35 1.35 0 1 0 2.7 0a1.35 1.35 0 1 0 -2.7 0M577.9 185.7a1.35 1.35 0 1 0 2.7 0a1.35 1.35 0 1 0 -2.7 0M610.4 188.3a1.35 1.35 0 1 0 2.7 0a1.35 1.35 0 1 0 -2.7 0M427.2 165.7a1.35 1.35 0 1 0 2.7 0a1.35 1.35 0 1 0 -2.7 0M432.5 166.6a1.35 1.35 0 1 0 2.7 0a1.35 1.35 0 1 0 -2.7 0M438.0 165.9a1.35 1.35 0 1 0 2.7 0a1.35 1.35 0 1 0 -2.7 0M441.3 164.6a1.35 1.35 0 1 0 2.7 0a1.35 1.35 0 1 0 -2.7 0" fill="#3ad41a" stroke="#1d6b12" stroke-width="0.6"/>
<rect x="31.45" y="23.1" width="265.16" height="184.4" fill="none" stroke="#7a7a7a" stroke-width="1.1"/>
<path d="M296.61 23.1H298.91M296.61 207.5H298.91" stroke="#7a7a7a" stroke-width="1.1"/>
<path d="M50.39 23.1v-2.4M50.39 207.5v2.6M107.21 23.1v-2.4M107.21 207.5v2.6M164.03 23.1v-2.4M164.03 207.5v2.6M220.85 23.1v-2.4M220.85 207.5v2.6M277.67 23.1v-2.4M277.67 207.5v2.6M31.45 23.1h-2.5M296.61 23.1h2.5M31.45 63.85h-2.5M296.61 63.85h2.5M31.45 101.87h-2.5M296.61 101.87h2.5M31.45 138.03h-2.5M296.61 138.03h2.5M31.45 173.04h-2.5M296.61 173.04h2.5M31.45 207.5h-2.5M296.61 207.5h2.5" stroke="#7a7a7a" stroke-width="0.9" fill="none"/>
<rect x="377.3" y="22.3" width="268.94" height="185.2" fill="none" stroke="#7a7a7a" stroke-width="1.1"/>
<path d="M646.24 22.3H648.54M646.24 207.5H648.54" stroke="#7a7a7a" stroke-width="1.1"/>
<path d="M396.51 22.3v-2.4M396.51 207.5v2.6M454.14 22.3v-2.4M454.14 207.5v2.6M511.77 22.3v-2.4M511.77 207.5v2.6M569.4 22.3v-2.4M569.4 207.5v2.6M627.03 22.3v-2.4M627.03 207.5v2.6M377.3 22.3h-2.5M646.24 22.3h2.5M377.3 63.23h-2.5M646.24 63.23h2.5M377.3 101.41h-2.5M646.24 101.41h2.5M377.3 137.73h-2.5M646.24 137.73h2.5M377.3 172.89h-2.5M646.24 172.89h2.5M377.3 207.5h-2.5M646.24 207.5h2.5" stroke="#7a7a7a" stroke-width="0.9" fill="none"/>
<rect x="32.7" y="252.2" width="261.59" height="180.1" fill="none" stroke="#7a7a7a" stroke-width="1.1"/>
<path d="M294.29 252.2H296.59M294.29 432.3H296.59" stroke="#7a7a7a" stroke-width="1.1"/>
<path d="M51.39 252.2v-2.4M51.39 432.3v2.6M107.44 252.2v-2.4M107.44 432.3v2.6M163.5 252.2v-2.4M163.5 432.3v2.6M219.55 252.2v-2.4M219.55 432.3v2.6M275.61 252.2v-2.4M275.61 432.3v2.6M32.7 252.2h-2.5M294.29 252.2h2.5M32.7 292h-2.5M294.29 292h2.5M32.7 329.13h-2.5M294.29 329.13h2.5M32.7 364.45h-2.5M294.29 364.45h2.5M32.7 398.65h-2.5M294.29 398.65h2.5M32.7 432.3h-2.5M294.29 432.3h2.5" stroke="#7a7a7a" stroke-width="0.9" fill="none"/>
<text x="26.6" y="27" font-size="11.4" fill="#2b2b2b" text-anchor="end" textLength="23.7" lengthAdjust="spacingAndGlyphs" stroke="#2b2b2b" stroke-width="0.22">45°N</text>
<text x="26.6" y="67.75" font-size="11.4" fill="#2b2b2b" text-anchor="end" textLength="23.7" lengthAdjust="spacingAndGlyphs" stroke="#2b2b2b" stroke-width="0.22">36°N</text>
<text x="26.6" y="105.77" font-size="11.4" fill="#2b2b2b" text-anchor="end" textLength="23.7" lengthAdjust="spacingAndGlyphs" stroke="#2b2b2b" stroke-width="0.22">27°N</text>
<text x="26.6" y="141.93" font-size="11.4" fill="#2b2b2b" text-anchor="end" textLength="23.7" lengthAdjust="spacingAndGlyphs" stroke="#2b2b2b" stroke-width="0.22">18°N</text>
<text x="26.6" y="176.94" font-size="11.4" fill="#2b2b2b" text-anchor="end" textLength="17.77" lengthAdjust="spacingAndGlyphs" stroke="#2b2b2b" stroke-width="0.22">9°N</text>
<text x="26.6" y="211.4" font-size="11.4" fill="#2b2b2b" text-anchor="end" textLength="11.85" lengthAdjust="spacingAndGlyphs" stroke="#2b2b2b" stroke-width="0.22">0°</text>
<text x="54.49" y="221" font-size="11.4" fill="#2b2b2b" text-anchor="middle" textLength="27.8" lengthAdjust="spacingAndGlyphs" stroke="#2b2b2b" stroke-width="0.22">105°E</text>
<text x="111.31" y="221" font-size="11.4" fill="#2b2b2b" text-anchor="middle" textLength="27.8" lengthAdjust="spacingAndGlyphs" stroke="#2b2b2b" stroke-width="0.22">120°E</text>
<text x="168.13" y="221" font-size="11.4" fill="#2b2b2b" text-anchor="middle" textLength="27.8" lengthAdjust="spacingAndGlyphs" stroke="#2b2b2b" stroke-width="0.22">135°E</text>
<text x="224.95" y="221" font-size="11.4" fill="#2b2b2b" text-anchor="middle" textLength="27.8" lengthAdjust="spacingAndGlyphs" stroke="#2b2b2b" stroke-width="0.22">150°E</text>
<text x="281.77" y="221" font-size="11.4" fill="#2b2b2b" text-anchor="middle" textLength="27.8" lengthAdjust="spacingAndGlyphs" stroke="#2b2b2b" stroke-width="0.22">165°E</text>
<text x="371.2" y="26.2" font-size="11.4" fill="#2b2b2b" text-anchor="end" textLength="23.8" lengthAdjust="spacingAndGlyphs" stroke="#2b2b2b" stroke-width="0.22">45°N</text>
<text x="371.2" y="67.13" font-size="11.4" fill="#2b2b2b" text-anchor="end" textLength="23.8" lengthAdjust="spacingAndGlyphs" stroke="#2b2b2b" stroke-width="0.22">36°N</text>
<text x="371.2" y="105.31" font-size="11.4" fill="#2b2b2b" text-anchor="end" textLength="23.8" lengthAdjust="spacingAndGlyphs" stroke="#2b2b2b" stroke-width="0.22">27°N</text>
<text x="371.2" y="141.63" font-size="11.4" fill="#2b2b2b" text-anchor="end" textLength="23.8" lengthAdjust="spacingAndGlyphs" stroke="#2b2b2b" stroke-width="0.22">18°N</text>
<text x="371.2" y="176.79" font-size="11.4" fill="#2b2b2b" text-anchor="end" textLength="17.85" lengthAdjust="spacingAndGlyphs" stroke="#2b2b2b" stroke-width="0.22">9°N</text>
<text x="371.2" y="211.4" font-size="11.4" fill="#2b2b2b" text-anchor="end" textLength="11.9" lengthAdjust="spacingAndGlyphs" stroke="#2b2b2b" stroke-width="0.22">0°</text>
<text x="399.51" y="220.9" font-size="11.4" fill="#2b2b2b" text-anchor="middle" textLength="28.6" lengthAdjust="spacingAndGlyphs" stroke="#2b2b2b" stroke-width="0.22">105°E</text>
<text x="457.14" y="220.9" font-size="11.4" fill="#2b2b2b" text-anchor="middle" textLength="28.6" lengthAdjust="spacingAndGlyphs" stroke="#2b2b2b" stroke-width="0.22">120°E</text>
<text x="514.77" y="220.9" font-size="11.4" fill="#2b2b2b" text-anchor="middle" textLength="28.6" lengthAdjust="spacingAndGlyphs" stroke="#2b2b2b" stroke-width="0.22">135°E</text>
<text x="572.4" y="220.9" font-size="11.4" fill="#2b2b2b" text-anchor="middle" textLength="28.6" lengthAdjust="spacingAndGlyphs" stroke="#2b2b2b" stroke-width="0.22">150°E</text>
<text x="630.03" y="220.9" font-size="11.4" fill="#2b2b2b" text-anchor="middle" textLength="28.6" lengthAdjust="spacingAndGlyphs" stroke="#2b2b2b" stroke-width="0.22">165°E</text>
<text x="29.8" y="256.1" font-size="11.4" fill="#2b2b2b" text-anchor="end" textLength="24.9" lengthAdjust="spacingAndGlyphs" stroke="#2b2b2b" stroke-width="0.22">45°N</text>
<text x="29.8" y="295.9" font-size="11.4" fill="#2b2b2b" text-anchor="end" textLength="24.9" lengthAdjust="spacingAndGlyphs" stroke="#2b2b2b" stroke-width="0.22">36°N</text>
<text x="29.8" y="333.03" font-size="11.4" fill="#2b2b2b" text-anchor="end" textLength="24.9" lengthAdjust="spacingAndGlyphs" stroke="#2b2b2b" stroke-width="0.22">27°N</text>
<text x="29.8" y="368.35" font-size="11.4" fill="#2b2b2b" text-anchor="end" textLength="24.9" lengthAdjust="spacingAndGlyphs" stroke="#2b2b2b" stroke-width="0.22">18°N</text>
<text x="29.8" y="402.55" font-size="11.4" fill="#2b2b2b" text-anchor="end" textLength="18.67" lengthAdjust="spacingAndGlyphs" stroke="#2b2b2b" stroke-width="0.22">9°N</text>
<text x="29.8" y="436.2" font-size="11.4" fill="#2b2b2b" text-anchor="end" textLength="12.45" lengthAdjust="spacingAndGlyphs" stroke="#2b2b2b" stroke-width="0.22">0°</text>
<text x="55.89" y="447.2" font-size="11.4" fill="#2b2b2b" text-anchor="middle" textLength="29.6" lengthAdjust="spacingAndGlyphs" stroke="#2b2b2b" stroke-width="0.22">105°E</text>
<text x="111.94" y="447.2" font-size="11.4" fill="#2b2b2b" text-anchor="middle" textLength="29.6" lengthAdjust="spacingAndGlyphs" stroke="#2b2b2b" stroke-width="0.22">120°E</text>
<text x="168" y="447.2" font-size="11.4" fill="#2b2b2b" text-anchor="middle" textLength="29.6" lengthAdjust="spacingAndGlyphs" stroke="#2b2b2b" stroke-width="0.22">135°E</text>
<text x="224.05" y="447.2" font-size="11.4" fill="#2b2b2b" text-anchor="middle" textLength="29.6" lengthAdjust="spacingAndGlyphs" stroke="#2b2b2b" stroke-width="0.22">150°E</text>
<text x="280.11" y="447.2" font-size="11.4" fill="#2b2b2b" text-anchor="middle" textLength="29.6" lengthAdjust="spacingAndGlyphs" stroke="#2b2b2b" stroke-width="0.22">165°E</text>
<text x="1" y="11.8" font-size="14.5" fill="#222" textLength="16.2" lengthAdjust="spacingAndGlyphs" stroke="#1a1a1a" stroke-width="0.25">(a)</text>
<text x="345.6" y="11.6" font-size="14.5" fill="#222" textLength="17.4" lengthAdjust="spacingAndGlyphs" stroke="#1a1a1a" stroke-width="0.25">(b)</text>
<text x="2.4" y="238.7" font-size="14.5" fill="#222" textLength="16" lengthAdjust="spacingAndGlyphs" stroke="#1a1a1a" stroke-width="0.25">(c)</text>
<text x="129" y="13" font-size="16" fill="#1a1a1a" textLength="64.8" lengthAdjust="spacingAndGlyphs" stroke="#1a1a1a" stroke-width="0.25">Summer</text>
<text x="489" y="14.9" font-size="16" fill="#1a1a1a" textLength="61.7" lengthAdjust="spacingAndGlyphs" stroke="#1a1a1a" stroke-width="0.25">Autumn</text>
<text x="46.4" y="242.5" font-size="16" fill="#1a1a1a" textLength="237" lengthAdjust="spacingAndGlyphs" stroke="#1a1a1a" stroke-width="0.25">Difference (Autumn - Summer)</text>
<rect x="305.6" y="23.1" width="12.1" height="184.4" fill="url(#ga)" stroke="#c4c4c4" stroke-width="0.6"/>
<text x="320.4" y="25.7" font-size="7.2" fill="#7c7c7c" textLength="12.7" lengthAdjust="spacingAndGlyphs">0.04</text>
<path d="M317.7 23.1h-1.5" stroke="#888" stroke-width="0.6"/>
<text x="320.4" y="71.8" font-size="7.2" fill="#7c7c7c" textLength="12.7" lengthAdjust="spacingAndGlyphs">0.03</text>
<path d="M317.7 69.2h-1.5" stroke="#888" stroke-width="0.6"/>
<text x="320.4" y="117.9" font-size="7.2" fill="#7c7c7c" textLength="12.7" lengthAdjust="spacingAndGlyphs">0.02</text>
<path d="M317.7 115.3h-1.5" stroke="#888" stroke-width="0.6"/>
<text x="320.4" y="164" font-size="7.2" fill="#7c7c7c" textLength="12.7" lengthAdjust="spacingAndGlyphs">0.01</text>
<path d="M317.7 161.4h-1.5" stroke="#888" stroke-width="0.6"/>
<text x="320.4" y="210.1" font-size="7.2" fill="#7c7c7c">0</text>
<path d="M317.7 207.5h-1.5" stroke="#888" stroke-width="0.6"/>
<rect x="655.6" y="22.3" width="12.1" height="185.2" fill="url(#gb)" stroke="#c4c4c4" stroke-width="0.6"/>
<text x="670.8" y="24.9" font-size="7.2" fill="#7c7c7c" textLength="12.7" lengthAdjust="spacingAndGlyphs">0.04</text>
<path d="M667.7 22.3h-1.5" stroke="#888" stroke-width="0.6"/>
<text x="670.8" y="71.2" font-size="7.2" fill="#7c7c7c" textLength="12.7" lengthAdjust="spacingAndGlyphs">0.03</text>
<path d="M667.7 68.6h-1.5" stroke="#888" stroke-width="0.6"/>
<text x="670.8" y="117.5" font-size="7.2" fill="#7c7c7c" textLength="12.7" lengthAdjust="spacingAndGlyphs">0.02</text>
<path d="M667.7 114.9h-1.5" stroke="#888" stroke-width="0.6"/>
<text x="670.8" y="163.8" font-size="7.2" fill="#7c7c7c" textLength="12.7" lengthAdjust="spacingAndGlyphs">0.01</text>
<path d="M667.7 161.2h-1.5" stroke="#888" stroke-width="0.6"/>
<text x="670.8" y="210.1" font-size="7.2" fill="#7c7c7c">0</text>
<path d="M667.7 207.5h-1.5" stroke="#888" stroke-width="0.6"/>
<rect x="303.9" y="252.2" width="11.5" height="9.3" fill="#790622"/>
<rect x="303.9" y="261.2" width="11.5" height="9.3" fill="#9f1228"/>
<rect x="303.9" y="270.2" width="11.5" height="9.3" fill="#ba2832"/>
<rect x="303.9" y="279.2" width="11.5" height="9.3" fill="#cc4c44"/>
<rect x="303.9" y="288.2" width="11.5" height="9.3" fill="#dd7059"/>
<rect x="303.9" y="297.2" width="11.5" height="9.3" fill="#ec9374"/>
<rect x="303.9" y="306.2" width="11.5" height="9.3" fill="#f6b394"/>
<rect x="303.9" y="315.2" width="11.5" height="9.3" fill="#fbccb4"/>
<rect x="303.9" y="324.2" width="11.5" height="9.3" fill="#fce2d2"/>
<rect x="303.9" y="333.2" width="11.5" height="9.3" fill="#fdfbfa"/>
<rect x="303.9" y="342.2" width="11.5" height="9.3" fill="#fbfcfd"/>
<rect x="303.9" y="351.2" width="11.5" height="9.3" fill="#dae9f2"/>
<rect x="303.9" y="360.2" width="11.5" height="9.3" fill="#c2ddec"/>
<rect x="303.9" y="369.2" width="11.5" height="9.3" fill="#a2cde3"/>
<rect x="303.9" y="378.2" width="11.5" height="9.3" fill="#7eb8d7"/>
<rect x="303.9" y="387.2" width="11.5" height="9.3" fill="#569fc9"/>
<rect x="303.9" y="396.2" width="11.5" height="9.3" fill="#3a87bd"/>
<rect x="303.9" y="405.2" width="11.5" height="9.3" fill="#2a71b2"/>
<rect x="303.9" y="414.2" width="11.5" height="9.3" fill="#1a5899"/>
<rect x="303.9" y="423.2" width="11.5" height="9.3" fill="#0c3d73"/>
<rect x="303.9" y="252.2" width="11.5" height="180" fill="none" stroke="#9a9a9a" stroke-width="0.7"/>
<text x="318.3" y="256.2" font-size="11" fill="#333" textLength="22.3" lengthAdjust="spacingAndGlyphs">0.02</text>
<path d="M315.4 252.2h-1.8" stroke="#777" stroke-width="0.7"/>
<text x="318.3" y="301.2" font-size="11" fill="#333" textLength="22.3" lengthAdjust="spacingAndGlyphs">0.01</text>
<path d="M315.4 297.2h-1.8" stroke="#777" stroke-width="0.7"/>
<text x="318.3" y="346.2" font-size="11" fill="#333">0</text>
<path d="M315.4 342.2h-1.8" stroke="#777" stroke-width="0.7"/>
<text x="318.3" y="391.2" font-size="11" fill="#333" textLength="20" lengthAdjust="spacingAndGlyphs">-0.0</text>
<path d="M315.4 387.2h-1.8" stroke="#777" stroke-width="0.7"/>
<text x="318.3" y="436.2" font-size="11" fill="#333" textLength="20" lengthAdjust="spacingAndGlyphs">-0.0</text>
<path d="M315.4 432.2h-1.8" stroke="#777" stroke-width="0.7"/></svg></body></html>
